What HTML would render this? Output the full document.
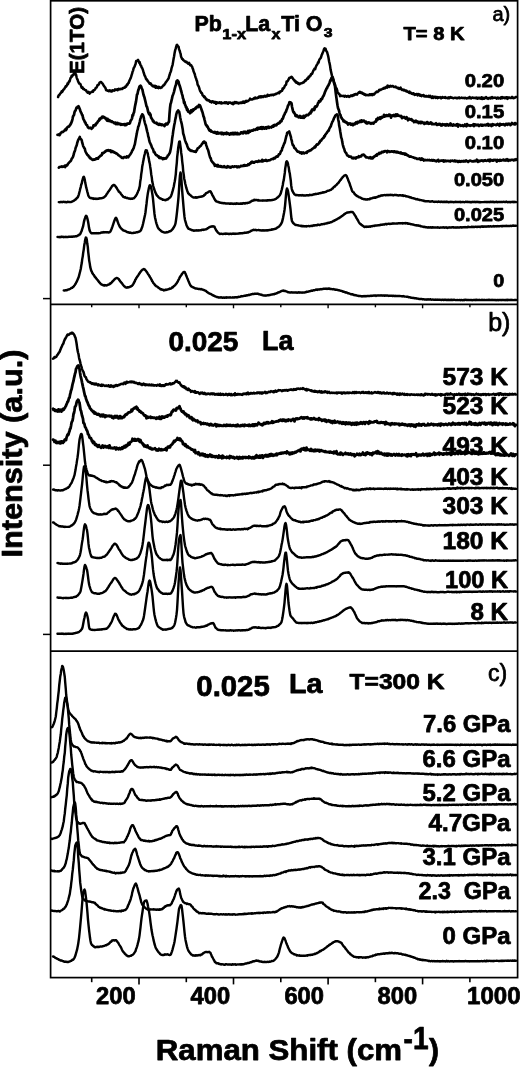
<!DOCTYPE html>
<html><head><meta charset="utf-8"><title>Raman spectra</title>
<style>
html,body{margin:0;padding:0;background:#fff;}
svg{display:block;}
text{font-family:"Liberation Sans",sans-serif;fill:#000;stroke:#000;stroke-width:0.75px;stroke-linejoin:round;}
</style></head>
<body>
<svg width="520" height="1067" viewBox="0 0 520 1067">
<rect width="520" height="1067" fill="#fff"/>
<g fill="none" stroke="#000" stroke-linejoin="round" stroke-linecap="round">
<path d="M58.1,97.0 58.6,95.5 59.1,95.1 59.6,94.7 60.1,93.6 60.6,93.3 61.1,92.7 61.6,91.3 62.1,92.0 62.6,91.2 63.1,90.0 63.6,89.6 64.1,89.2 64.6,88.3 65.1,87.6 65.6,86.4 66.1,86.7 66.6,85.8 67.1,85.1 67.6,83.4 68.1,84.0 68.6,82.4 69.1,81.2 69.6,81.3 70.1,79.5 70.6,77.9 71.1,77.5 71.6,75.8 72.1,76.5 72.6,75.2 73.1,74.5 73.6,74.8 74.1,73.3 74.6,74.0 75.1,72.8 75.6,74.0 76.1,74.7 76.6,77.3 77.1,78.9 77.6,79.6 78.1,81.5 78.6,82.2 79.1,83.4 79.6,83.5 80.1,83.8 80.6,84.5 81.1,86.1 81.6,87.6 82.1,87.2 82.6,87.4 83.1,89.0 83.6,88.7 84.1,89.1 84.6,89.7 85.1,90.0 85.6,90.3 86.1,90.3 86.6,91.6 87.1,91.7 87.6,92.7 88.1,92.3 88.6,91.8 89.1,92.8 89.6,93.7 90.1,92.8 90.6,92.5 91.1,92.2 91.6,91.9 92.1,91.9 92.6,91.0 93.1,91.7 93.6,90.3 94.1,89.9 94.6,89.9 95.1,89.4 95.6,88.1 96.1,87.8 96.6,87.4 97.1,86.4 97.6,85.0 98.1,85.3 98.6,84.7 99.1,83.8 99.6,82.6 100.1,82.4 100.6,81.9 101.1,81.9 101.6,82.7 102.1,83.2 102.6,83.6 103.1,84.4 103.6,85.4 104.1,86.1 104.6,86.9 105.1,87.4 105.6,88.4 106.1,90.2 106.6,90.3 107.1,90.4 107.6,90.7 108.1,90.6 108.6,91.2 109.1,91.1 109.6,90.3 110.1,91.1 110.6,90.6 111.1,91.4 111.6,90.8 112.1,91.4 112.6,90.3 113.1,90.3 113.6,90.5 114.1,90.7 114.6,90.4 115.1,89.4 115.6,90.0 116.1,89.8 116.6,89.5 117.1,89.3 117.6,90.3 118.1,89.2 118.6,88.9 119.1,89.5 119.6,89.2 120.1,89.0 120.6,89.2 121.1,89.0 121.6,88.8 122.1,89.0 122.6,88.5 123.1,88.0 123.6,87.9 124.1,87.6 124.6,87.8 125.1,87.0 125.6,86.3 126.1,86.6 126.6,85.4 127.1,84.4 127.6,84.7 128.1,83.3 128.6,83.0 129.1,81.5 129.6,80.3 130.1,79.2 130.6,78.3 131.1,76.9 131.6,75.1 132.1,73.7 132.6,71.5 133.1,70.6 133.6,68.3 134.1,67.6 134.6,66.5 135.1,65.1 135.6,63.9 136.1,61.1 136.6,61.1 137.1,60.7 137.6,60.5 138.1,59.9 138.6,61.1 139.1,62.6 139.6,62.0 140.1,64.0 140.6,65.4 141.1,65.7 141.6,67.3 142.1,67.8 142.6,69.2 143.1,70.6 143.6,72.5 144.1,73.8 144.6,75.6 145.1,76.1 145.6,77.6 146.1,79.0 146.6,79.6 147.1,79.5 147.6,81.1 148.1,81.2 148.6,82.2 149.1,82.8 149.6,83.8 150.1,83.8 150.6,83.4 151.1,84.0 151.6,85.3 152.1,85.2 152.6,86.1 153.1,85.9 153.6,85.7 154.1,86.7 154.6,86.1 155.1,85.7 155.6,87.8 156.1,86.2 156.6,87.5 157.1,87.8 157.6,87.5 158.1,86.8 158.6,88.1 159.1,87.1 159.6,87.1 160.1,87.6 160.6,88.0 161.1,87.6 161.6,87.6 162.1,86.7 162.6,86.4 163.1,85.5 163.6,85.4 164.1,85.2 164.6,84.1 165.1,83.8 165.6,82.6 166.1,81.9 166.6,81.4 167.1,80.5 167.6,80.1 168.1,78.9 168.6,78.5 169.1,76.4 169.6,75.0 170.1,73.1 170.6,72.0 171.1,70.5 171.6,68.0 172.1,66.4 172.6,64.8 173.1,61.9 173.6,58.8 174.1,56.3 174.6,52.9 175.1,50.4 175.6,48.9 176.1,47.2 176.6,45.2 177.1,44.8 177.6,45.6 178.1,46.4 178.6,46.8 179.1,49.6 179.6,50.4 180.1,52.4 180.6,53.7 181.1,56.9 181.6,57.7 182.1,58.9 182.6,58.9 183.1,59.9 183.6,60.3 184.1,60.6 184.6,61.2 185.1,61.3 185.6,62.0 186.1,61.7 186.6,61.8 187.1,62.6 187.6,63.2 188.1,63.7 188.6,63.8 189.1,62.9 189.6,64.2 190.1,65.1 190.6,64.9 191.1,65.1 191.6,66.2 192.1,66.7 192.6,68.4 193.1,69.4 193.6,71.5 194.1,72.6 194.6,73.6 195.1,75.6 195.6,77.4 196.1,78.5 196.6,80.4 197.1,81.4 197.6,84.6 198.1,85.5 198.6,86.2 199.1,87.6 199.6,89.4 200.1,90.9 200.6,91.5 201.1,92.7 201.6,92.8 202.1,93.5 202.6,95.3 203.1,95.7 203.6,96.1 204.1,97.2 204.6,96.7 205.1,97.5 205.6,98.6 206.1,99.5 206.6,99.1 207.1,100.3 207.6,99.7 208.1,100.5 208.6,100.6 209.1,100.2 209.6,101.3 210.1,101.8 210.6,101.5 211.1,101.7 211.6,102.4 212.1,101.3 212.6,101.3 213.1,101.8 213.6,101.6 214.1,102.8 214.6,102.4 215.1,102.0 215.6,102.1 216.1,103.8 216.6,102.2 217.1,102.2 217.6,102.8 218.1,103.0 218.6,102.8 219.1,102.4 219.6,102.3 220.1,103.1 220.6,102.8 221.1,102.2 221.6,103.4 222.1,103.3 222.6,102.9 223.1,102.9 223.6,103.1 224.1,102.7 224.6,102.4 225.1,103.1 225.6,102.4 226.1,103.2 226.6,102.4 227.1,103.0 227.6,102.9 228.1,103.8 228.6,102.5 229.1,102.4 229.6,102.7 230.1,102.5 230.6,102.7 231.1,103.2 231.6,103.3 232.1,103.7 232.6,102.7 233.1,104.2 233.6,103.9 234.1,102.9 234.6,102.0 235.1,103.0 235.6,103.0 236.1,102.0 236.6,103.0 237.1,102.9 237.6,102.6 238.1,103.3 238.6,103.5 239.1,102.8 239.6,103.1 240.1,102.7 240.6,102.6 241.1,103.0 241.6,103.1 242.1,102.5 242.6,101.7 243.1,102.8 243.6,101.6 244.1,102.3 244.6,102.8 245.1,101.8 245.6,101.1 246.1,100.8 246.6,101.8 247.1,101.1 247.6,101.1 248.1,101.1 248.6,100.5 249.1,100.2 249.6,99.7 250.1,98.6 250.6,99.1 251.1,99.6 251.6,99.4 252.1,99.4 252.6,99.0 253.1,99.0 253.6,99.1 254.1,98.1 254.6,98.2 255.1,97.5 255.6,98.5 256.1,97.9 256.6,97.9 257.1,98.3 257.6,98.0 258.1,97.3 258.6,97.6 259.1,96.5 259.6,97.3 260.1,97.0 260.6,96.2 261.1,97.4 261.6,96.4 262.1,97.0 262.6,96.4 263.1,97.0 263.6,97.1 264.1,96.0 264.6,95.7 265.1,96.2 265.6,96.6 266.1,96.0 266.6,95.8 267.1,96.2 267.6,94.7 268.1,95.6 268.6,95.2 269.1,95.8 269.6,95.3 270.1,95.0 270.6,95.3 271.1,94.7 271.6,95.2 272.1,94.8 272.6,94.8 273.1,94.5 273.6,95.1 274.1,94.5 274.6,94.6 275.1,94.4 275.6,93.7 276.1,94.1 276.6,93.8 277.1,93.5 277.6,93.0 278.1,92.7 278.6,93.0 279.1,93.3 279.6,91.7 280.1,92.0 280.6,91.2 281.1,91.4 281.6,90.9 282.1,90.8 282.6,88.6 283.1,89.0 283.6,88.1 284.1,87.7 284.6,86.4 285.1,85.4 285.6,85.0 286.1,84.5 286.6,81.4 287.1,81.7 287.6,81.2 288.1,80.3 288.6,79.4 289.1,78.2 289.6,77.7 290.1,77.9 290.6,77.7 291.1,77.1 291.6,76.7 292.1,77.5 292.6,78.0 293.1,79.0 293.6,79.6 294.1,80.0 294.6,81.0 295.1,80.8 295.6,82.1 296.1,82.6 296.6,81.9 297.1,82.9 297.6,82.6 298.1,83.8 298.6,83.9 299.1,83.5 299.6,84.2 300.1,83.6 300.6,83.4 301.1,83.3 301.6,83.3 302.1,83.0 302.6,82.9 303.1,82.3 303.6,82.5 304.1,82.2 304.6,81.1 305.1,80.3 305.6,80.8 306.1,80.5 306.6,79.5 307.1,78.5 307.6,78.8 308.1,78.8 308.6,76.8 309.1,77.3 309.6,76.4 310.1,75.5 310.6,75.5 311.1,74.0 311.6,74.0 312.1,73.8 312.6,72.5 313.1,71.3 313.6,70.1 314.1,69.6 314.6,68.5 315.1,69.3 315.6,67.6 316.1,66.3 316.6,65.3 317.1,64.4 317.6,63.7 318.1,62.2 318.6,62.5 319.1,60.3 319.6,59.3 320.1,58.7 320.6,58.2 321.1,57.1 321.6,55.2 322.1,54.3 322.6,52.9 323.1,51.8 323.6,50.5 324.1,49.0 324.6,48.3 325.1,48.8 325.6,48.7 326.1,50.7 326.6,51.3 327.1,52.2 327.6,54.0 328.1,55.8 328.6,58.3 329.1,61.5 329.6,63.4 330.1,66.1 330.6,69.8 331.1,71.9 331.6,74.1 332.1,76.1 332.6,77.6 333.1,79.8 333.6,80.7 334.1,82.6 334.6,83.6 335.1,84.8 335.6,86.9 336.1,88.2 336.6,88.4 337.1,90.0 337.6,91.8 338.1,93.2 338.6,93.3 339.1,94.2 339.6,94.2 340.1,96.2 340.6,95.4 341.1,95.7 341.6,95.8 342.1,96.0 342.6,96.0 343.1,95.7 343.6,96.2 344.1,96.0 344.6,96.6 345.1,95.8 345.6,95.9 346.1,96.5 346.6,96.8 347.1,96.3 347.6,95.9 348.1,96.2 348.6,96.0 349.1,97.0 349.6,96.4 350.1,96.5 350.6,95.9 351.1,95.4 351.6,96.0 352.1,96.1 352.6,95.5 353.1,95.0 353.6,95.4 354.1,94.6 354.6,94.9 355.1,94.1 355.6,93.9 356.1,94.4 356.6,94.1 357.1,94.6 357.6,93.4 358.1,93.3 358.6,92.6 359.1,92.1 359.6,91.9 360.1,92.8 360.6,92.0 361.1,93.0 361.6,93.2 362.1,92.6 362.6,93.7 363.1,93.4 363.6,94.2 364.1,93.9 364.6,94.8 365.1,94.3 365.6,95.2 366.1,94.8 366.6,94.9 367.1,95.3 367.6,95.0 368.1,94.9 368.6,95.2 369.1,95.2 369.6,94.2 370.1,95.0 370.6,95.0 371.1,94.3 371.6,94.8 372.1,94.0 372.6,95.1 373.1,94.3 373.6,94.1 374.1,94.5 374.6,93.6 375.1,93.6 375.6,92.5 376.1,92.4 376.6,91.6 377.1,91.8 377.6,92.0 378.1,91.2 378.6,91.2 379.1,90.0 379.6,89.8 380.1,89.7 380.6,90.0 381.1,89.6 381.6,89.2 382.1,89.2 382.6,88.6 383.1,88.4 383.6,88.8 384.1,87.7 384.6,87.8 385.1,88.2 385.6,87.3 386.1,87.4 386.6,86.6 387.1,87.6 387.6,85.6 388.1,86.0 388.6,85.9 389.1,87.0 389.6,86.4 390.1,86.1 390.6,85.7 391.1,86.5 391.6,86.4 392.1,86.1 392.6,85.9 393.1,86.1 393.6,86.8 394.1,87.0 394.6,87.0 395.1,87.1 395.6,86.5 396.1,87.5 396.6,87.2 397.1,87.8 397.6,88.2 398.1,87.8 398.6,87.9 399.1,88.9 399.6,88.8 400.1,88.5 400.6,87.6 401.1,89.1 401.6,89.6 402.1,90.0 402.6,89.4 403.1,89.6 403.6,89.9 404.1,90.6 404.6,89.9 405.1,90.6 405.6,90.5 406.1,91.2 406.6,90.6 407.1,91.6 407.6,91.4 408.1,91.8 408.6,92.3 409.1,92.7 409.6,91.6 410.1,93.0 410.6,92.9 411.1,92.7 411.6,93.6 412.1,93.2 412.6,93.9 413.1,93.2 413.6,93.2 414.1,94.3 414.6,94.9 415.1,94.3 415.6,94.6 416.1,94.1 416.6,93.9 417.1,94.5 417.6,95.4 418.1,94.0 418.6,94.8 419.1,94.2 419.6,95.3 420.1,95.7 420.6,94.9 421.1,95.3 421.6,96.2 422.1,95.7 422.6,95.2 423.1,95.2 423.6,95.0 424.1,96.3 424.6,95.7 425.1,96.6 425.6,96.6 426.1,96.0 426.6,96.1 427.1,96.7 427.6,96.5 428.1,96.6 428.6,95.8 429.1,97.0 429.6,96.3 430.1,95.7 430.6,96.5 431.1,97.0 431.6,97.9 432.1,96.8 432.6,96.4 433.1,98.0 433.6,97.2 434.1,97.0 434.6,96.7 435.1,96.8 435.6,97.9 436.1,97.2 436.6,97.1 437.1,97.1 437.6,98.1 438.1,97.2 438.6,97.7 439.1,97.6 439.6,97.6 440.1,97.1 440.6,97.8 441.1,98.3 441.6,97.5 442.1,97.2 442.6,97.0 443.1,97.7 443.6,97.5 444.1,97.6 444.6,97.7 445.1,97.0 445.6,98.0 446.1,97.8 446.6,97.7 447.1,97.8 447.6,98.2 448.1,97.8 448.6,97.4 449.1,98.3 449.6,97.6 450.1,97.5 450.6,97.1 451.1,97.8 451.6,97.4 452.1,97.6 452.6,98.1 453.1,97.9 453.6,98.3 454.1,98.0 454.6,97.7 455.1,97.8 455.6,97.7 456.1,98.2 456.6,97.9 457.1,97.8 457.6,98.3 458.1,98.0 458.6,97.8 459.1,97.3 459.6,98.2 460.1,98.1 460.6,98.0 461.1,97.8 461.6,97.6 462.1,97.9 462.6,98.1 463.1,97.9 463.6,97.9 464.1,97.8 464.6,98.2 465.1,98.1 465.6,97.7 466.1,98.3 466.6,98.4 467.1,98.4 467.6,97.9 468.1,97.9 468.6,97.5 469.1,98.3 469.6,97.0 470.1,97.8 470.6,97.8 471.1,98.4 471.6,98.0 472.1,97.6 472.6,97.4 473.1,97.7 473.6,98.0 474.1,98.0 474.6,97.9 475.1,97.7 475.6,97.9 476.1,98.4 476.6,97.5 477.1,98.0 477.6,98.7 478.1,98.2 478.6,97.8 479.1,98.3 479.6,97.7 480.1,98.0 480.6,98.7 481.1,98.9 481.6,97.2 482.1,98.3 482.6,98.9 483.1,97.8 483.6,98.1 484.1,98.7 484.6,97.8 485.1,98.2 485.6,98.0 486.1,97.1 486.6,98.2 487.1,97.9 487.6,98.4 488.1,98.9 488.6,98.3 489.1,97.8 489.6,98.2 490.1,98.1 490.6,98.5 491.1,97.4 491.6,97.5 492.1,97.1 492.6,98.3 493.1,98.0 493.6,97.7 494.1,97.7 494.6,97.7 495.1,97.6 495.6,97.8 496.1,97.7 496.6,98.6 497.1,98.1 497.6,97.6 498.1,97.7 498.6,98.5 499.1,98.1 499.6,98.0 500.1,98.2 500.6,98.6 501.1,97.3 501.6,97.5 502.1,97.1 502.6,98.1 503.1,97.7 503.6,97.5 504.1,97.5 504.6,98.1 505.1,97.7 505.6,97.5 506.1,98.3 506.6,97.3 507.1,97.2 507.6,98.9 508.1,97.6 508.6,97.5 509.1,97.4 509.6,97.6 510.1,98.0 510.6,98.0 511.1,97.9 511.6,97.5 512.1,96.9 512.6,97.7 513.1,98.3 513.6,98.1 514.1,97.5 514.6,97.9 515.1,97.4 515.6,97.5 516.1,96.9" stroke-width="2.5"/>
<path d="M57.5,134.8 58.0,134.9 58.5,134.5 59.0,134.8 59.5,135.1 60.0,134.5 60.5,133.3 61.0,132.7 61.5,132.4 62.0,131.9 62.5,132.1 63.0,131.9 63.5,131.4 64.0,131.0 64.5,130.5 65.0,129.9 65.5,129.2 66.0,130.1 66.5,129.2 67.0,127.7 67.5,127.2 68.0,126.8 68.5,126.5 69.0,126.6 69.5,125.8 70.0,125.1 70.5,124.4 71.0,123.5 71.5,122.4 72.0,121.0 72.5,119.1 73.0,116.5 73.5,115.6 74.0,115.0 74.5,112.2 75.0,110.9 75.5,110.7 76.0,109.1 76.5,107.7 77.0,107.9 77.5,106.8 78.0,106.7 78.5,106.2 79.0,107.5 79.5,108.4 80.0,109.8 80.5,111.3 81.0,112.5 81.5,113.2 82.0,114.8 82.5,115.3 83.0,117.8 83.5,119.3 84.0,120.1 84.5,121.1 85.0,122.5 85.5,122.6 86.0,124.3 86.5,125.0 87.0,125.1 87.5,126.3 88.0,127.4 88.5,127.9 89.0,128.2 89.5,127.8 90.0,127.8 90.5,127.7 91.0,128.1 91.5,128.9 92.0,128.1 92.5,127.9 93.0,127.4 93.5,125.3 94.0,125.7 94.5,125.1 95.0,125.5 95.5,125.3 96.0,123.6 96.5,123.5 97.0,123.3 97.5,122.1 98.0,121.4 98.5,120.6 99.0,120.7 99.5,119.0 100.0,119.5 100.5,118.3 101.0,118.2 101.5,118.2 102.0,116.7 102.5,116.6 103.0,117.3 103.5,116.7 104.0,117.1 104.5,117.8 105.0,118.3 105.5,117.9 106.0,118.8 106.5,119.7 107.0,120.5 107.5,118.9 108.0,120.9 108.5,120.9 109.0,120.0 109.5,120.0 110.0,121.2 110.5,120.9 111.0,121.3 111.5,121.9 112.0,121.4 112.5,121.8 113.0,122.1 113.5,122.5 114.0,123.1 114.5,123.3 115.0,122.6 115.5,122.5 116.0,124.2 116.5,123.4 117.0,123.5 117.5,122.9 118.0,124.2 118.5,123.5 119.0,123.9 119.5,123.6 120.0,124.3 120.5,124.7 121.0,124.0 121.5,124.4 122.0,124.9 122.5,124.3 123.0,124.3 123.5,124.5 124.0,124.2 124.5,125.2 125.0,124.2 125.5,125.1 126.0,125.1 126.5,123.8 127.0,124.4 127.5,123.9 128.0,123.4 128.5,123.7 129.0,123.5 129.5,123.6 130.0,123.0 130.5,121.0 131.0,120.2 131.5,119.5 132.0,118.5 132.5,115.1 133.0,115.6 133.5,113.2 134.0,112.5 134.5,109.2 135.0,106.3 135.5,103.9 136.0,101.6 136.5,98.2 137.0,94.4 137.5,94.1 138.0,91.2 138.5,89.8 139.0,88.1 139.5,86.5 140.0,85.9 140.5,85.7 141.0,86.3 141.5,87.6 142.0,88.8 142.5,89.9 143.0,92.4 143.5,94.7 144.0,96.3 144.5,97.6 145.0,99.7 145.5,101.8 146.0,104.0 146.5,106.2 147.0,106.9 147.5,108.8 148.0,111.3 148.5,112.8 149.0,113.9 149.5,112.9 150.0,115.1 150.5,114.4 151.0,117.6 151.5,118.2 152.0,119.0 152.5,119.7 153.0,121.2 153.5,121.0 154.0,122.3 154.5,122.5 155.0,122.7 155.5,123.0 156.0,123.1 156.5,122.7 157.0,123.9 157.5,124.2 158.0,123.9 158.5,124.6 159.0,124.9 159.5,123.8 160.0,124.6 160.5,124.5 161.0,124.4 161.5,125.1 162.0,124.5 162.5,124.8 163.0,125.1 163.5,125.2 164.0,125.1 164.5,126.0 165.0,124.4 165.5,124.7 166.0,123.7 166.5,124.4 167.0,124.5 167.5,124.2 168.0,122.8 168.5,122.6 169.0,121.7 169.5,113.8 170.0,108.0 170.5,104.0 171.0,102.8 171.5,100.5 172.0,98.4 172.5,96.0 173.0,94.8 173.5,93.4 174.0,91.8 174.5,89.6 175.0,87.6 175.5,85.8 176.0,84.7 176.5,81.4 177.0,80.8 177.5,80.4 178.0,81.2 178.5,81.4 179.0,84.0 179.5,85.3 180.0,86.8 180.5,88.4 181.0,90.5 181.5,92.2 182.0,94.1 182.5,95.6 183.0,98.4 183.5,99.3 184.0,102.8 184.5,102.0 185.0,104.7 185.5,105.4 186.0,107.5 186.5,107.2 187.0,110.0 187.5,108.9 188.0,111.6 188.5,111.4 189.0,111.6 189.5,112.1 190.0,113.2 190.5,112.4 191.0,110.5 191.5,112.2 192.0,111.3 192.5,109.9 193.0,110.8 193.5,109.3 194.0,109.6 194.5,109.2 195.0,108.4 195.5,108.7 196.0,107.4 196.5,107.6 197.0,106.7 197.5,106.4 198.0,107.2 198.5,105.9 199.0,105.0 199.5,105.4 200.0,105.4 200.5,106.7 201.0,108.1 201.5,109.5 202.0,111.1 202.5,112.2 203.0,114.3 203.5,116.4 204.0,117.4 204.5,119.6 205.0,121.5 205.5,123.8 206.0,125.1 206.5,125.1 207.0,126.4 207.5,126.4 208.0,127.5 208.5,128.7 209.0,129.7 209.5,130.5 210.0,130.3 210.5,130.1 211.0,131.4 211.5,131.2 212.0,131.7 212.5,131.8 213.0,132.2 213.5,132.3 214.0,132.6 214.5,132.0 215.0,132.9 215.5,132.1 216.0,132.6 216.5,133.6 217.0,132.9 217.5,132.1 218.0,133.6 218.5,133.4 219.0,133.5 219.5,133.1 220.0,133.2 220.5,132.9 221.0,132.7 221.5,134.0 222.0,133.0 222.5,132.9 223.0,133.0 223.5,134.3 224.0,133.8 224.5,133.1 225.0,133.4 225.5,133.7 226.0,133.9 226.5,132.6 227.0,134.0 227.5,133.4 228.0,133.2 228.5,133.4 229.0,134.0 229.5,134.6 230.0,133.7 230.5,134.0 231.0,133.2 231.5,134.0 232.0,134.2 232.5,132.9 233.0,133.5 233.5,134.2 234.0,132.8 234.5,133.5 235.0,134.1 235.5,132.8 236.0,133.5 236.5,133.7 237.0,134.2 237.5,132.9 238.0,134.2 238.5,133.7 239.0,134.2 239.5,134.1 240.0,133.6 240.5,133.6 241.0,132.3 241.5,132.4 242.0,132.5 242.5,132.8 243.0,133.4 243.5,131.8 244.0,132.5 244.5,131.9 245.0,131.6 245.5,133.2 246.0,132.4 246.5,133.1 247.0,132.8 247.5,131.5 248.0,130.9 248.5,132.9 249.0,131.4 249.5,130.8 250.0,131.7 250.5,131.2 251.0,130.6 251.5,130.6 252.0,130.7 252.5,130.4 253.0,130.6 253.5,129.8 254.0,129.6 254.5,129.9 255.0,129.6 255.5,129.9 256.0,129.0 256.5,128.9 257.0,128.2 257.5,129.6 258.0,127.9 258.5,128.7 259.0,128.0 259.5,128.6 260.0,128.7 260.5,127.4 261.0,128.1 261.5,127.2 262.0,128.9 262.5,127.8 263.0,127.1 263.5,127.5 264.0,128.6 264.5,128.6 265.0,128.5 265.5,127.3 266.0,127.6 266.5,128.5 267.0,127.1 267.5,127.3 268.0,126.8 268.5,126.7 269.0,127.9 269.5,127.5 270.0,127.2 270.5,127.2 271.0,127.3 271.5,127.5 272.0,126.5 272.5,126.2 273.0,125.6 273.5,126.6 274.0,125.6 274.5,124.8 275.0,125.3 275.5,125.2 276.0,125.4 276.5,125.3 277.0,124.1 277.5,123.7 278.0,123.7 278.5,122.9 279.0,123.2 279.5,123.1 280.0,122.5 280.5,121.1 281.0,120.7 281.5,121.3 282.0,119.2 282.5,119.2 283.0,118.1 283.5,116.5 284.0,115.1 284.5,114.6 285.0,113.0 285.5,112.4 286.0,111.5 286.5,109.8 287.0,108.8 287.5,107.4 288.0,105.6 288.5,105.0 289.0,103.7 289.5,102.2 290.0,102.5 290.5,102.3 291.0,102.7 291.5,103.3 292.0,106.8 292.5,108.9 293.0,110.9 293.5,112.2 294.0,112.2 294.5,113.6 295.0,113.7 295.5,116.0 296.0,115.1 296.5,116.3 297.0,115.5 297.5,116.0 298.0,116.6 298.5,117.4 299.0,117.3 299.5,117.1 300.0,115.9 300.5,117.6 301.0,116.4 301.5,117.7 302.0,117.8 302.5,117.2 303.0,117.2 303.5,115.8 304.0,117.9 304.5,116.5 305.0,116.8 305.5,115.6 306.0,115.9 306.5,115.0 307.0,115.2 307.5,115.0 308.0,114.8 308.5,115.0 309.0,114.0 309.5,113.4 310.0,112.8 310.5,113.4 311.0,111.4 311.5,111.8 312.0,109.5 312.5,109.6 313.0,109.8 313.5,108.9 314.0,110.1 314.5,109.4 315.0,106.6 315.5,106.3 316.0,106.3 316.5,106.7 317.0,105.8 317.5,104.8 318.0,103.2 318.5,102.9 319.0,101.2 319.5,101.2 320.0,101.5 320.5,101.0 321.0,99.1 321.5,99.2 322.0,99.2 322.5,97.6 323.0,96.5 323.5,96.0 324.0,94.9 324.5,93.5 325.0,92.0 325.5,90.9 326.0,89.9 326.5,88.4 327.0,88.2 327.5,86.8 328.0,85.9 328.5,85.3 329.0,84.1 329.5,83.0 330.0,81.3 330.5,79.9 331.0,80.3 331.5,77.9 332.0,77.4 332.5,77.0 333.0,78.3 333.5,80.0 334.0,82.7 334.5,84.7 335.0,86.5 335.5,90.8 336.0,94.9 336.5,98.4 337.0,102.0 337.5,105.3 338.0,108.0 338.5,109.3 339.0,110.6 339.5,112.8 340.0,114.6 340.5,115.0 341.0,117.5 341.5,117.5 342.0,118.9 342.5,119.4 343.0,119.7 343.5,121.3 344.0,120.6 344.5,121.0 345.0,121.9 345.5,122.5 346.0,122.4 346.5,122.1 347.0,123.2 347.5,123.4 348.0,124.5 348.5,123.4 349.0,123.9 349.5,123.6 350.0,123.3 350.5,124.3 351.0,124.8 351.5,123.9 352.0,124.1 352.5,123.9 353.0,125.2 353.5,124.1 354.0,124.6 354.5,123.7 355.0,124.1 355.5,123.5 356.0,122.4 356.5,123.5 357.0,123.5 357.5,121.9 358.0,122.7 358.5,122.4 359.0,121.8 359.5,122.0 360.0,120.8 360.5,121.7 361.0,121.9 361.5,120.3 362.0,120.8 362.5,121.5 363.0,120.9 363.5,120.7 364.0,120.7 364.5,121.6 365.0,121.7 365.5,122.5 366.0,121.6 366.5,123.3 367.0,122.7 367.5,123.4 368.0,122.6 368.5,122.4 369.0,122.8 369.5,122.6 370.0,123.0 370.5,123.6 371.0,123.8 371.5,123.4 372.0,122.9 372.5,123.0 373.0,123.5 373.5,123.6 374.0,122.6 374.5,122.3 375.0,121.6 375.5,121.7 376.0,121.6 376.5,119.0 377.0,120.2 377.5,119.4 378.0,118.0 378.5,119.1 379.0,118.6 379.5,118.5 380.0,117.3 380.5,118.9 381.0,117.5 381.5,117.0 382.0,117.7 382.5,117.0 383.0,116.8 383.5,116.8 384.0,114.8 384.5,116.7 385.0,115.5 385.5,115.7 386.0,116.0 386.5,115.1 387.0,115.7 387.5,115.9 388.0,115.5 388.5,115.8 389.0,114.6 389.5,114.8 390.0,114.9 390.5,115.7 391.0,117.6 391.5,115.6 392.0,115.4 392.5,115.5 393.0,116.0 393.5,115.9 394.0,114.9 394.5,116.1 395.0,115.5 395.5,116.0 396.0,114.4 396.5,114.6 397.0,115.8 397.5,114.5 398.0,115.7 398.5,115.7 399.0,115.7 399.5,115.9 400.0,116.0 400.5,116.3 401.0,115.9 401.5,116.3 402.0,118.1 402.5,117.4 403.0,117.3 403.5,117.4 404.0,117.0 404.5,117.7 405.0,117.7 405.5,118.5 406.0,117.7 406.5,117.1 407.0,118.3 407.5,119.1 408.0,120.3 408.5,119.6 409.0,118.7 409.5,119.3 410.0,119.1 410.5,119.6 411.0,119.4 411.5,119.2 412.0,120.5 412.5,120.6 413.0,120.5 413.5,121.0 414.0,122.1 414.5,121.2 415.0,121.1 415.5,121.9 416.0,120.7 416.5,122.1 417.0,121.4 417.5,121.5 418.0,122.2 418.5,123.1 419.0,121.9 419.5,122.9 420.0,122.7 420.5,121.8 421.0,123.2 421.5,122.3 422.0,122.0 422.5,122.4 423.0,122.5 423.5,123.3 424.0,122.6 424.5,123.9 425.0,123.3 425.5,122.8 426.0,122.8 426.5,123.4 427.0,122.2 427.5,122.2 428.0,123.0 428.5,123.8 429.0,123.6 429.5,123.6 430.0,123.5 430.5,122.5 431.0,123.5 431.5,122.8 432.0,124.2 432.5,123.8 433.0,123.8 433.5,124.1 434.0,124.1 434.5,124.1 435.0,124.2 435.5,123.7 436.0,123.3 436.5,124.3 437.0,124.9 437.5,124.7 438.0,124.1 438.5,124.6 439.0,124.0 439.5,124.5 440.0,124.0 440.5,124.5 441.0,125.5 441.5,124.9 442.0,125.3 442.5,124.1 443.0,124.2 443.5,124.6 444.0,124.9 444.5,124.5 445.0,125.3 445.5,124.4 446.0,125.5 446.5,125.3 447.0,124.2 447.5,125.2 448.0,124.8 448.5,125.5 449.0,124.7 449.5,125.2 450.0,125.3 450.5,123.5 451.0,124.0 451.5,125.2 452.0,125.1 452.5,125.7 453.0,125.3 453.5,124.5 454.0,125.4 454.5,124.8 455.0,125.1 455.5,125.0 456.0,125.5 456.5,124.5 457.0,124.7 457.5,124.1 458.0,126.6 458.5,124.8 459.0,124.9 459.5,124.8 460.0,125.1 460.5,125.2 461.0,125.8 461.5,125.6 462.0,125.7 462.5,125.2 463.0,125.4 463.5,126.2 464.0,125.5 464.5,125.7 465.0,124.4 465.5,125.8 466.0,125.6 466.5,126.2 467.0,124.0 467.5,125.5 468.0,125.4 468.5,125.5 469.0,125.1 469.5,125.6 470.0,125.8 470.5,125.5 471.0,125.3 471.5,125.3 472.0,125.2 472.5,125.4 473.0,125.0 473.5,124.3 474.0,126.1 474.5,124.4 475.0,125.3 475.5,124.6 476.0,125.2 476.5,124.8 477.0,125.3 477.5,124.9 478.0,124.6 478.5,125.5 479.0,126.0 479.5,125.5 480.0,125.3 480.5,124.7 481.0,125.2 481.5,125.5 482.0,124.8 482.5,125.7 483.0,125.1 483.5,125.4 484.0,124.9 484.5,124.9 485.0,125.2 485.5,125.3 486.0,125.3 486.5,124.5 487.0,124.7 487.5,125.0 488.0,124.0 488.5,125.6 489.0,125.2 489.5,125.0 490.0,124.6 490.5,125.4 491.0,124.8 491.5,126.0 492.0,125.1 492.5,124.1 493.0,125.3 493.5,124.6 494.0,124.6 494.5,124.7 495.0,124.8 495.5,124.9 496.0,125.2 496.5,125.0 497.0,124.4 497.5,124.0 498.0,124.3 498.5,124.9 499.0,125.2 499.5,125.7 500.0,123.9 500.5,124.7 501.0,124.5 501.5,124.4 502.0,124.7 502.5,124.4 503.0,124.4 503.5,124.2 504.0,124.7 504.5,125.1 505.0,125.4 505.5,124.2 506.0,123.8 506.5,124.3 507.0,123.9 507.5,124.9 508.0,123.9 508.5,124.4 509.0,123.6 509.5,124.1 510.0,124.4 510.5,125.1 511.0,123.8 511.5,124.4 512.0,123.0 512.5,123.5 513.0,123.7 513.5,123.8 514.0,124.3 514.5,124.4 515.0,123.1 515.5,124.3 516.0,123.4" stroke-width="2.7"/>
<path d="M58.8,167.7 59.2,167.1 59.8,167.0 60.2,166.8 60.8,166.8 61.2,166.8 61.8,166.4 62.2,166.9 62.8,166.6 63.2,166.7 63.8,166.2 64.2,166.4 64.8,165.7 65.2,167.2 65.8,165.4 66.2,165.3 66.8,165.6 67.2,165.4 67.8,164.2 68.2,163.4 68.8,162.9 69.2,162.4 69.8,161.8 70.2,161.3 70.8,161.0 71.2,160.1 71.8,158.6 72.2,158.1 72.8,157.3 73.2,156.3 73.8,154.2 74.2,152.4 74.8,151.2 75.2,149.8 75.8,147.2 76.2,146.6 76.8,145.1 77.2,143.0 77.8,141.1 78.2,140.1 78.8,138.9 79.2,138.3 79.8,136.9 80.2,138.5 80.8,139.2 81.2,139.3 81.8,140.4 82.2,142.7 82.8,144.5 83.2,146.1 83.8,147.1 84.2,148.0 84.8,148.6 85.2,150.8 85.8,152.1 86.2,152.8 86.8,154.0 87.2,154.7 87.8,155.2 88.2,155.4 88.8,156.6 89.2,156.5 89.8,158.1 90.2,157.7 90.8,158.7 91.2,158.6 91.8,159.4 92.2,159.5 92.8,160.0 93.2,159.6 93.8,159.3 94.2,159.8 94.8,159.7 95.2,159.0 95.8,159.1 96.2,158.4 96.8,158.8 97.2,158.2 97.8,158.0 98.2,158.6 98.8,157.2 99.2,156.9 99.8,156.6 100.2,156.0 100.8,155.4 101.2,155.6 101.8,155.1 102.2,153.1 102.8,153.7 103.2,153.1 103.8,152.5 104.2,152.7 104.8,151.6 105.2,151.7 105.8,150.8 106.2,150.6 106.8,150.9 107.2,150.2 107.8,150.4 108.2,150.1 108.8,150.2 109.2,150.9 109.8,151.0 110.2,150.4 110.8,150.5 111.2,152.1 111.8,151.0 112.2,151.1 112.8,151.8 113.2,151.5 113.8,151.8 114.2,152.5 114.8,152.8 115.2,152.5 115.8,153.4 116.2,153.1 116.8,153.5 117.2,154.0 117.8,154.3 118.2,155.1 118.8,155.4 119.2,155.5 119.8,156.3 120.2,156.4 120.8,156.7 121.2,157.1 121.8,157.8 122.2,157.6 122.8,158.0 123.2,158.1 123.8,157.4 124.2,157.1 124.8,157.0 125.2,157.3 125.8,157.5 126.2,157.6 126.8,156.3 127.2,157.1 127.8,157.0 128.2,157.4 128.8,156.3 129.2,155.9 129.8,154.9 130.2,154.5 130.8,153.6 131.2,152.8 131.8,151.8 132.2,150.5 132.8,149.9 133.2,148.9 133.8,147.8 134.2,145.9 134.8,144.5 135.2,142.3 135.8,138.8 136.2,136.7 136.8,133.6 137.2,131.2 137.8,129.2 138.2,126.8 138.8,125.6 139.2,124.0 139.8,121.5 140.2,119.4 140.8,117.7 141.2,116.2 141.8,115.4 142.2,114.3 142.8,114.8 143.2,115.5 143.8,117.7 144.2,120.0 144.8,122.5 145.2,123.9 145.8,125.4 146.2,127.2 146.8,129.9 147.2,131.6 147.8,133.6 148.2,136.2 148.8,138.0 149.2,140.4 149.8,142.5 150.2,143.1 150.8,144.6 151.2,145.1 151.8,147.1 152.2,147.9 152.8,148.9 153.2,149.7 153.8,152.1 154.2,151.7 154.8,152.7 155.2,153.9 155.8,154.6 156.2,155.1 156.8,155.4 157.2,155.4 157.8,156.5 158.2,156.6 158.8,156.3 159.2,157.8 159.8,157.3 160.2,158.1 160.8,157.4 161.2,157.7 161.8,158.2 162.2,158.3 162.8,159.1 163.2,158.1 163.8,158.8 164.2,158.3 164.8,158.8 165.2,158.4 165.8,157.8 166.2,158.5 166.8,157.2 167.2,157.1 167.8,155.5 168.2,155.3 168.8,154.7 169.2,153.9 169.8,152.8 170.2,151.5 170.8,148.4 171.2,146.1 171.8,142.1 172.2,138.2 172.8,134.5 173.2,131.3 173.8,127.7 174.2,125.3 174.8,122.5 175.2,119.9 175.8,117.4 176.2,114.7 176.8,112.7 177.2,111.5 177.8,111.1 178.2,110.3 178.8,111.3 179.2,111.7 179.8,114.7 180.2,117.5 180.8,120.3 181.2,121.9 181.8,124.1 182.2,126.5 182.8,129.8 183.2,133.5 183.8,135.2 184.2,136.8 184.8,139.4 185.2,140.6 185.8,142.2 186.2,143.3 186.8,144.2 187.2,145.7 187.8,147.3 188.2,148.1 188.8,149.3 189.2,149.0 189.8,150.3 190.2,150.1 190.8,150.4 191.2,151.0 191.8,150.6 192.2,150.9 192.8,151.2 193.2,151.3 193.8,151.5 194.2,151.7 194.8,151.5 195.2,151.1 195.8,152.0 196.2,150.7 196.8,150.4 197.2,149.4 197.8,148.2 198.2,148.1 198.8,147.8 199.2,147.3 199.8,146.5 200.2,146.3 200.8,145.8 201.2,145.2 201.8,144.2 202.2,143.6 202.8,143.0 203.2,142.2 203.8,142.8 204.2,141.5 204.8,142.1 205.2,142.8 205.8,142.9 206.2,145.4 206.8,146.5 207.2,148.2 207.8,149.3 208.2,150.4 208.8,152.7 209.2,154.4 209.8,156.5 210.2,157.8 210.8,158.3 211.2,160.5 211.8,161.1 212.2,161.9 212.8,162.5 213.2,162.7 213.8,163.8 214.2,164.0 214.8,165.8 215.2,164.9 215.8,164.9 216.2,165.4 216.8,166.2 217.2,165.5 217.8,164.9 218.2,166.6 218.8,166.2 219.2,166.0 219.8,166.6 220.2,166.0 220.8,166.0 221.2,166.9 221.8,166.4 222.2,166.9 222.8,166.8 223.2,167.1 223.8,166.9 224.2,166.1 224.8,167.2 225.2,166.8 225.8,167.3 226.2,167.0 226.8,167.6 227.2,166.9 227.8,166.2 228.2,166.9 228.8,167.2 229.2,166.9 229.8,166.8 230.2,167.6 230.8,166.9 231.2,167.4 231.8,167.0 232.2,166.4 232.8,166.5 233.2,166.8 233.8,167.0 234.2,166.5 234.8,166.3 235.2,166.4 235.8,166.6 236.2,166.4 236.8,166.5 237.2,167.4 237.8,166.8 238.2,166.3 238.8,166.6 239.2,167.2 239.8,166.8 240.2,166.4 240.8,165.9 241.2,165.7 241.8,166.2 242.2,166.2 242.8,165.6 243.2,165.6 243.8,166.0 244.2,165.0 244.8,165.1 245.2,165.6 245.8,165.6 246.2,165.3 246.8,165.4 247.2,165.4 247.8,164.9 248.2,164.2 248.8,164.9 249.2,164.5 249.8,164.0 250.2,163.0 250.8,163.3 251.2,162.1 251.8,162.6 252.2,161.6 252.8,162.3 253.2,162.7 253.8,162.2 254.2,162.7 254.8,161.9 255.2,161.8 255.8,161.5 256.2,161.7 256.8,161.4 257.2,161.8 257.8,161.9 258.2,161.3 258.8,160.7 259.2,161.3 259.8,161.5 260.2,161.2 260.8,161.0 261.2,161.2 261.8,161.4 262.2,159.7 262.8,161.4 263.2,161.0 263.8,160.9 264.2,160.4 264.8,160.7 265.2,160.8 265.8,159.9 266.2,160.8 266.8,160.5 267.2,161.0 267.8,160.6 268.2,160.2 268.8,160.2 269.2,160.4 269.8,160.1 270.2,160.2 270.8,159.6 271.2,159.2 271.8,159.3 272.2,158.8 272.8,158.9 273.2,159.1 273.8,158.0 274.2,157.9 274.8,158.4 275.2,157.6 275.8,157.5 276.2,156.6 276.8,156.3 277.2,156.2 277.8,156.6 278.2,155.7 278.8,154.4 279.2,154.6 279.8,154.1 280.2,153.2 280.8,151.5 281.2,150.9 281.8,150.6 282.2,148.2 282.8,147.5 283.2,145.9 283.8,144.5 284.2,143.5 284.8,142.5 285.2,140.8 285.8,138.2 286.2,136.5 286.8,134.6 287.2,132.7 287.8,132.6 288.2,132.2 288.8,131.9 289.2,131.5 289.8,133.4 290.2,135.0 290.8,136.4 291.2,138.8 291.8,140.8 292.2,143.0 292.8,145.2 293.2,145.1 293.8,146.0 294.2,147.7 294.8,148.2 295.2,148.2 295.8,149.3 296.2,149.9 296.8,150.5 297.2,151.3 297.8,151.8 298.2,151.6 298.8,151.9 299.2,151.8 299.8,152.7 300.2,153.0 300.8,152.5 301.2,152.4 301.8,153.6 302.2,153.3 302.8,152.6 303.2,152.3 303.8,152.9 304.2,153.5 304.8,152.7 305.2,152.7 305.8,152.5 306.2,152.8 306.8,152.9 307.2,151.6 307.8,151.7 308.2,151.5 308.8,151.0 309.2,150.5 309.8,150.9 310.2,150.3 310.8,150.2 311.2,150.2 311.8,149.1 312.2,149.2 312.8,148.5 313.2,148.2 313.8,148.0 314.2,147.4 314.8,146.5 315.2,147.3 315.8,146.3 316.2,145.3 316.8,144.4 317.2,144.7 317.8,144.5 318.2,144.1 318.8,143.6 319.2,142.4 319.8,142.3 320.2,140.8 320.8,140.9 321.2,140.7 321.8,139.4 322.2,139.0 322.8,138.5 323.2,137.9 323.8,137.8 324.2,136.1 324.8,136.4 325.2,134.7 325.8,134.2 326.2,133.4 326.8,132.9 327.2,132.0 327.8,131.6 328.2,130.6 328.8,130.6 329.2,129.0 329.8,127.9 330.2,127.2 330.8,126.3 331.2,124.8 331.8,123.2 332.2,122.0 332.8,121.2 333.2,120.2 333.8,118.9 334.2,117.6 334.8,116.9 335.2,115.7 335.8,115.1 336.2,114.9 336.8,114.3 337.2,114.6 337.8,116.1 338.2,119.5 338.8,122.1 339.2,125.8 339.8,128.5 340.2,131.3 340.8,134.7 341.2,137.6 341.8,139.0 342.2,141.6 342.8,144.7 343.2,146.3 343.8,148.0 344.2,148.8 344.8,151.2 345.2,152.0 345.8,152.8 346.2,153.0 346.8,154.5 347.2,155.4 347.8,155.4 348.2,155.9 348.8,156.1 349.2,156.8 349.8,156.7 350.2,156.8 350.8,156.6 351.2,156.7 351.8,157.9 352.2,158.3 352.8,158.1 353.2,158.4 353.8,157.7 354.2,158.0 354.8,158.2 355.2,158.0 355.8,158.6 356.2,157.3 356.8,157.5 357.2,157.4 357.8,157.0 358.2,157.4 358.8,156.1 359.2,157.1 359.8,156.8 360.2,156.3 360.8,156.4 361.2,156.4 361.8,155.1 362.2,155.0 362.8,154.7 363.2,154.8 363.8,154.6 364.2,155.0 364.8,156.0 365.2,156.1 365.8,157.1 366.2,157.4 366.8,157.0 367.2,157.5 367.8,157.5 368.2,157.6 368.8,158.2 369.2,157.9 369.8,158.0 370.2,157.2 370.8,158.3 371.2,157.5 371.8,157.8 372.2,158.5 372.8,158.4 373.2,157.2 373.8,156.6 374.2,156.9 374.8,156.2 375.2,156.1 375.8,155.1 376.2,155.7 376.8,155.6 377.2,154.1 377.8,154.1 378.2,153.9 378.8,154.2 379.2,152.9 379.8,153.5 380.2,153.1 380.8,152.6 381.2,153.0 381.8,151.7 382.2,151.7 382.8,151.7 383.2,152.2 383.8,151.6 384.2,151.2 384.8,151.6 385.2,151.2 385.8,151.1 386.2,151.2 386.8,151.4 387.2,152.4 387.8,150.9 388.2,151.4 388.8,151.3 389.2,151.3 389.8,152.0 390.2,151.7 390.8,151.7 391.2,151.3 391.8,151.2 392.2,151.7 392.8,151.5 393.2,151.4 393.8,152.0 394.2,151.3 394.8,151.5 395.2,152.2 395.8,151.9 396.2,152.3 396.8,151.7 397.2,152.4 397.8,151.9 398.2,152.8 398.8,152.7 399.2,152.6 399.8,153.1 400.2,152.7 400.8,152.4 401.2,153.4 401.8,153.1 402.2,153.6 402.8,153.4 403.2,154.0 403.8,153.3 404.2,153.4 404.8,153.6 405.2,154.7 405.8,153.8 406.2,154.1 406.8,154.5 407.2,155.3 407.8,155.6 408.2,155.4 408.8,156.2 409.2,156.2 409.8,156.7 410.2,156.8 410.8,156.3 411.2,156.8 411.8,156.8 412.2,157.2 412.8,157.3 413.2,157.3 413.8,157.8 414.2,157.7 414.8,158.1 415.2,158.0 415.8,158.0 416.2,158.6 416.8,158.8 417.2,159.0 417.8,158.9 418.2,158.7 418.8,159.0 419.2,159.1 419.8,158.4 420.2,158.8 420.8,159.9 421.2,159.4 421.8,158.3 422.2,159.5 422.8,159.7 423.2,159.2 423.8,160.6 424.2,160.2 424.8,160.1 425.2,159.8 425.8,160.1 426.2,160.3 426.8,160.2 427.2,159.8 427.8,160.2 428.2,160.2 428.8,160.3 429.2,159.8 429.8,160.4 430.2,160.3 430.8,160.4 431.2,160.4 431.8,159.8 432.2,160.8 432.8,160.8 433.2,160.0 433.8,160.5 434.2,160.2 434.8,160.4 435.2,161.0 435.8,160.8 436.2,161.4 436.8,160.7 437.2,160.3 437.8,160.8 438.2,159.8 438.8,161.5 439.2,160.9 439.8,161.0 440.2,160.9 440.8,160.5 441.2,160.8 441.8,160.5 442.2,160.7 442.8,161.0 443.2,160.4 443.8,161.6 444.2,160.5 444.8,161.3 445.2,160.7 445.8,160.5 446.2,161.1 446.8,161.1 447.2,160.9 447.8,161.0 448.2,160.8 448.8,161.2 449.2,160.9 449.8,161.1 450.2,161.5 450.8,160.6 451.2,160.9 451.8,160.8 452.2,160.8 452.8,160.6 453.2,161.0 453.8,161.2 454.2,161.1 454.8,160.5 455.2,161.4 455.8,161.5 456.2,161.2 456.8,160.8 457.2,160.9 457.8,162.0 458.2,161.9 458.8,161.4 459.2,160.9 459.8,161.7 460.2,161.3 460.8,161.9 461.2,161.0 461.8,161.4 462.2,161.2 462.8,161.5 463.2,161.0 463.8,161.6 464.2,161.1 464.8,160.9 465.2,161.5 465.8,161.3 466.2,160.4 466.8,161.2 467.2,161.3 467.8,161.3 468.2,162.0 468.8,161.0 469.2,161.2 469.8,160.5 470.2,160.6 470.8,160.9 471.2,161.1 471.8,161.1 472.2,161.4 472.8,161.4 473.2,161.5 473.8,161.0 474.2,161.3 474.8,160.8 475.2,161.2 475.8,161.2 476.2,160.8 476.8,159.7 477.2,160.7 477.8,162.0 478.2,160.9 478.8,160.6 479.2,160.9 479.8,161.3 480.2,161.0 480.8,160.7 481.2,160.3 481.8,160.7 482.2,160.3 482.8,160.9 483.2,161.3 483.8,161.1 484.2,160.4 484.8,160.3 485.2,160.1 485.8,160.8 486.2,160.8 486.8,160.9 487.2,160.7 487.8,160.1 488.2,159.8 488.8,161.0 489.2,160.2 489.8,161.3 490.2,159.6 490.8,160.0 491.2,160.1 491.8,160.6 492.2,160.7 492.8,160.2 493.2,160.7 493.8,159.9 494.2,160.2 494.8,159.9 495.2,160.2 495.8,160.1 496.2,160.5 496.8,161.7 497.2,159.8 497.8,160.2 498.2,160.6 498.8,160.3 499.2,160.9 499.8,159.9 500.2,160.6 500.8,159.9 501.2,160.6 501.8,160.3 502.2,160.3 502.8,160.0 503.2,159.5 503.8,159.8 504.2,160.5 504.8,160.1 505.2,160.5 505.8,159.6 506.2,160.4 506.8,160.5 507.2,159.2 507.8,160.3 508.2,160.9 508.8,159.8 509.2,160.5 509.8,160.1 510.2,160.4 510.8,159.9 511.2,159.8 511.8,159.9 512.2,159.9 512.8,159.8 513.2,159.7 513.8,160.5 514.2,159.8 514.8,159.5 515.2,159.6 515.8,160.2 516.2,159.1" stroke-width="2.6"/>
<path d="M58.8,202.1 59.2,202.1 59.8,202.2 60.2,201.9 60.8,201.9 61.2,202.0 61.8,202.0 62.2,202.2 62.8,202.0 63.2,201.9 63.8,201.8 64.2,202.0 64.8,202.0 65.2,202.2 65.8,202.0 66.2,202.2 66.8,202.2 67.2,201.9 67.8,201.8 68.2,201.9 68.8,202.0 69.2,201.9 69.8,202.1 70.2,202.1 70.8,202.1 71.2,201.9 71.8,201.7 72.2,201.6 72.8,201.2 73.2,201.1 73.8,200.7 74.2,200.6 74.8,199.7 75.2,199.8 75.8,199.4 76.2,198.8 76.8,198.3 77.2,197.8 77.8,197.3 78.2,196.3 78.8,194.6 79.2,193.0 79.8,190.7 80.2,188.8 80.8,186.8 81.2,184.8 81.8,183.2 82.2,180.9 82.8,179.2 83.2,177.4 83.8,176.7 84.2,177.6 84.8,179.8 85.2,182.6 85.8,185.3 86.2,187.4 86.8,189.5 87.2,191.3 87.8,193.3 88.2,195.2 88.8,196.4 89.2,197.0 89.8,197.7 90.2,197.8 90.8,197.9 91.2,198.3 91.8,198.1 92.2,198.4 92.8,198.5 93.2,198.9 93.8,198.3 94.2,198.7 94.8,198.7 95.2,198.9 95.8,198.7 96.2,198.7 96.8,199.0 97.2,198.7 97.8,198.7 98.2,198.6 98.8,198.7 99.2,198.3 99.8,198.4 100.2,198.4 100.8,198.3 101.2,198.3 101.8,198.1 102.2,198.0 102.8,197.8 103.2,197.8 103.8,197.4 104.2,197.2 104.8,196.6 105.2,196.2 105.8,195.8 106.2,195.0 106.8,193.9 107.2,193.4 107.8,192.6 108.2,191.7 108.8,191.3 109.2,190.5 109.8,189.8 110.2,189.1 110.8,188.1 111.2,187.5 111.8,186.6 112.2,185.9 112.8,185.6 113.2,185.2 113.8,184.9 114.2,185.1 114.8,185.5 115.2,185.8 115.8,186.8 116.2,187.4 116.8,188.1 117.2,188.9 117.8,190.0 118.2,190.4 118.8,191.6 119.2,191.7 119.8,192.5 120.2,192.7 120.8,193.7 121.2,194.2 121.8,194.9 122.2,195.5 122.8,195.9 123.2,196.8 123.8,197.0 124.2,197.1 124.8,197.5 125.2,197.1 125.8,197.6 126.2,198.0 126.8,197.9 127.2,198.1 127.8,198.0 128.2,198.4 128.8,198.4 129.2,198.5 129.8,198.7 130.2,198.9 130.8,198.8 131.2,198.4 131.8,198.8 132.2,198.8 132.8,198.6 133.2,198.3 133.8,198.3 134.2,197.9 134.8,197.4 135.2,196.7 135.8,196.1 136.2,195.3 136.8,194.3 137.2,193.4 137.8,192.2 138.2,190.9 138.8,190.0 139.2,188.4 139.8,186.0 140.2,181.9 140.8,178.4 141.2,174.4 141.8,170.6 142.2,166.8 142.8,163.8 143.2,161.4 143.8,158.6 144.2,156.1 144.8,154.0 145.2,151.9 145.8,150.2 146.2,150.3 146.8,150.4 147.2,151.8 147.8,153.7 148.2,156.0 148.8,158.6 149.2,161.4 149.8,163.7 150.2,166.7 150.8,170.4 151.2,174.2 151.8,177.6 152.2,181.4 152.8,183.8 153.2,186.0 153.8,187.9 154.2,189.3 154.8,190.9 155.2,192.1 155.8,193.3 156.2,194.2 156.8,195.3 157.2,195.9 157.8,196.1 158.2,196.9 158.8,197.5 159.2,197.7 159.8,198.2 160.2,198.3 160.8,198.5 161.2,199.0 161.8,199.1 162.2,199.2 162.8,199.8 163.2,199.8 163.8,199.8 164.2,200.0 164.8,200.0 165.2,200.1 165.8,200.2 166.2,199.7 166.8,199.5 167.2,199.6 167.8,199.5 168.2,198.8 168.8,198.4 169.2,197.9 169.8,197.7 170.2,197.3 170.8,196.4 171.2,195.5 171.8,193.9 172.2,192.4 172.8,190.4 173.2,188.8 173.8,186.5 174.2,184.1 174.8,181.2 175.2,178.6 175.8,174.1 176.2,168.7 176.8,162.8 177.2,156.9 177.8,152.0 178.2,147.9 178.8,144.2 179.2,141.6 179.8,141.5 180.2,144.3 180.8,148.6 181.2,152.9 181.8,156.8 182.2,161.3 182.8,166.2 183.2,171.1 183.8,175.2 184.2,178.7 184.8,181.0 185.2,183.5 185.8,185.7 186.2,187.5 186.8,189.3 187.2,190.7 187.8,192.2 188.2,193.3 188.8,193.8 189.2,194.3 189.8,194.8 190.2,195.1 190.8,195.5 191.2,196.0 191.8,196.4 192.2,196.7 192.8,197.1 193.2,197.3 193.8,197.5 194.2,197.5 194.8,197.5 195.2,197.5 195.8,197.2 196.2,197.7 196.8,197.3 197.2,197.3 197.8,197.6 198.2,197.1 198.8,197.0 199.2,197.0 199.8,196.9 200.2,196.8 200.8,196.7 201.2,196.7 201.8,196.4 202.2,196.4 202.8,196.1 203.2,196.0 203.8,195.8 204.2,195.0 204.8,194.8 205.2,194.4 205.8,193.6 206.2,193.0 206.8,193.1 207.2,192.6 207.8,192.5 208.2,192.0 208.8,191.7 209.2,191.4 209.8,191.3 210.2,191.2 210.8,191.7 211.2,192.8 211.8,193.6 212.2,194.9 212.8,195.8 213.2,196.6 213.8,197.4 214.2,198.6 214.8,199.3 215.2,200.3 215.8,200.6 216.2,201.3 216.8,201.6 217.2,201.6 217.8,201.7 218.2,202.1 218.8,202.3 219.2,202.3 219.8,202.4 220.2,202.8 220.8,202.7 221.2,202.8 221.8,203.0 222.2,203.0 222.8,202.9 223.2,203.2 223.8,203.1 224.2,203.3 224.8,203.1 225.2,203.3 225.8,203.5 226.2,203.4 226.8,203.4 227.2,203.5 227.8,203.5 228.2,203.5 228.8,203.5 229.2,203.5 229.8,203.8 230.2,203.4 230.8,203.7 231.2,203.5 231.8,203.7 232.2,203.8 232.8,203.5 233.2,203.9 233.8,203.6 234.2,203.6 234.8,203.8 235.2,203.6 235.8,203.9 236.2,203.8 236.8,203.3 237.2,203.5 237.8,203.6 238.2,203.8 238.8,203.6 239.2,203.6 239.8,203.8 240.2,203.5 240.8,203.7 241.2,203.4 241.8,203.7 242.2,203.8 242.8,203.3 243.2,203.1 243.8,203.2 244.2,203.5 244.8,203.2 245.2,203.4 245.8,203.0 246.2,203.0 246.8,203.1 247.2,203.2 247.8,202.9 248.2,202.7 248.8,202.7 249.2,202.5 249.8,202.3 250.2,201.9 250.8,201.6 251.2,201.4 251.8,200.7 252.2,200.9 252.8,200.8 253.2,200.5 253.8,200.1 254.2,199.8 254.8,200.2 255.2,199.9 255.8,200.0 256.2,200.1 256.8,200.0 257.2,200.1 257.8,200.4 258.2,200.1 258.8,200.5 259.2,200.4 259.8,200.4 260.2,200.5 260.8,200.6 261.2,200.6 261.8,200.6 262.2,200.4 262.8,200.7 263.2,200.5 263.8,200.4 264.2,200.6 264.8,200.6 265.2,200.5 265.8,200.5 266.2,200.5 266.8,200.7 267.2,200.4 267.8,200.2 268.2,200.2 268.8,200.4 269.2,200.2 269.8,200.1 270.2,200.3 270.8,200.3 271.2,200.1 271.8,200.1 272.2,199.9 272.8,199.9 273.2,199.8 273.8,199.6 274.2,199.6 274.8,199.4 275.2,199.1 275.8,198.9 276.2,198.6 276.8,198.1 277.2,197.7 277.8,197.3 278.2,197.1 278.8,196.2 279.2,195.9 279.8,195.4 280.2,194.4 280.8,193.3 281.2,191.6 281.8,189.5 282.2,187.7 282.8,185.0 283.2,182.3 283.8,179.9 284.2,176.9 284.8,172.9 285.2,168.6 285.8,165.1 286.2,162.1 286.8,161.2 287.2,161.8 287.8,163.0 288.2,165.3 288.8,167.7 289.2,171.1 289.8,173.5 290.2,176.7 290.8,180.8 291.2,185.4 291.8,189.0 292.2,190.5 292.8,191.5 293.2,192.4 293.8,193.2 294.2,194.0 294.8,194.5 295.2,194.6 295.8,195.1 296.2,195.2 296.8,194.9 297.2,195.0 297.8,195.1 298.2,195.5 298.8,195.2 299.2,195.2 299.8,195.5 300.2,195.3 300.8,195.3 301.2,195.5 301.8,195.4 302.2,195.1 302.8,195.3 303.2,195.6 303.8,195.2 304.2,195.6 304.8,195.5 305.2,195.5 305.8,195.5 306.2,195.2 306.8,195.3 307.2,195.2 307.8,195.4 308.2,195.5 308.8,195.2 309.2,195.2 309.8,194.8 310.2,195.0 310.8,194.9 311.2,194.9 311.8,194.9 312.2,194.9 312.8,194.6 313.2,194.6 313.8,194.2 314.2,194.4 314.8,194.3 315.2,193.9 315.8,194.1 316.2,193.9 316.8,194.0 317.2,193.8 317.8,193.7 318.2,193.8 318.8,193.4 319.2,193.3 319.8,193.3 320.2,193.2 320.8,192.9 321.2,193.0 321.8,192.9 322.2,192.6 322.8,192.3 323.2,192.6 323.8,192.5 324.2,192.3 324.8,192.1 325.2,192.1 325.8,191.7 326.2,191.7 326.8,191.3 327.2,191.0 327.8,190.9 328.2,190.7 328.8,190.6 329.2,190.6 329.8,190.2 330.2,190.0 330.8,189.9 331.2,189.6 331.8,189.0 332.2,188.5 332.8,188.5 333.2,187.7 333.8,187.1 334.2,186.6 334.8,186.6 335.2,185.8 335.8,185.5 336.2,185.0 336.8,184.7 337.2,183.8 337.8,183.5 338.2,183.0 338.8,182.5 339.2,181.6 339.8,181.0 340.2,180.2 340.8,179.7 341.2,179.1 341.8,178.2 342.2,177.8 342.8,177.0 343.2,176.7 343.8,176.0 344.2,175.6 344.8,175.4 345.2,175.3 345.8,175.1 346.2,175.5 346.8,176.3 347.2,177.6 347.8,178.7 348.2,180.2 348.8,181.5 349.2,182.6 349.8,183.9 350.2,185.6 350.8,186.9 351.2,188.2 351.8,190.0 352.2,191.1 352.8,191.8 353.2,192.2 353.8,192.4 354.2,193.4 354.8,194.1 355.2,194.4 355.8,195.2 356.2,195.3 356.8,195.8 357.2,196.2 357.8,196.5 358.2,196.5 358.8,197.0 359.2,197.3 359.8,197.4 360.2,197.5 360.8,197.9 361.2,198.0 361.8,198.5 362.2,198.8 362.8,198.8 363.2,199.0 363.8,199.1 364.2,199.3 364.8,199.1 365.2,199.4 365.8,199.6 366.2,199.4 366.8,199.6 367.2,199.2 367.8,199.4 368.2,199.3 368.8,199.3 369.2,199.1 369.8,199.3 370.2,198.4 370.8,198.5 371.2,198.5 371.8,198.4 372.2,198.2 372.8,198.0 373.2,197.7 373.8,197.6 374.2,197.5 374.8,197.8 375.2,197.3 375.8,197.7 376.2,197.3 376.8,197.0 377.2,197.0 377.8,196.8 378.2,196.3 378.8,196.1 379.2,196.4 379.8,195.9 380.2,196.0 380.8,195.8 381.2,195.3 381.8,195.5 382.2,195.4 382.8,195.4 383.2,195.1 383.8,195.1 384.2,195.1 384.8,195.0 385.2,195.2 385.8,195.1 386.2,195.2 386.8,195.0 387.2,195.2 387.8,194.9 388.2,194.9 388.8,195.2 389.2,195.0 389.8,195.0 390.2,195.1 390.8,194.8 391.2,195.1 391.8,195.1 392.2,195.0 392.8,194.9 393.2,195.4 393.8,195.2 394.2,195.0 394.8,195.1 395.2,194.9 395.8,194.9 396.2,194.9 396.8,195.1 397.2,195.3 397.8,195.4 398.2,195.3 398.8,195.5 399.2,195.4 399.8,195.2 400.2,195.2 400.8,195.4 401.2,195.5 401.8,195.6 402.2,195.3 402.8,195.2 403.2,195.9 403.8,195.6 404.2,195.8 404.8,195.8 405.2,195.7 405.8,196.2 406.2,196.2 406.8,196.5 407.2,196.5 407.8,196.4 408.2,196.7 408.8,197.0 409.2,196.9 409.8,197.2 410.2,197.5 410.8,197.3 411.2,197.6 411.8,197.9 412.2,198.1 412.8,198.1 413.2,198.2 413.8,198.5 414.2,198.5 414.8,198.7 415.2,198.9 415.8,198.9 416.2,199.2 416.8,199.3 417.2,199.1 417.8,199.5 418.2,199.5 418.8,199.6 419.2,199.8 419.8,200.1 420.2,200.0 420.8,200.1 421.2,200.1 421.8,200.3 422.2,200.5 422.8,200.4 423.2,200.6 423.8,200.9 424.2,201.1 424.8,200.9 425.2,201.3 425.8,201.2 426.2,201.3 426.8,201.3 427.2,201.2 427.8,201.2 428.2,201.3 428.8,201.3 429.2,201.4 429.8,201.6 430.2,201.7 430.8,201.5 431.2,201.6 431.8,201.4 432.2,201.2 432.8,201.5 433.2,201.6 433.8,201.8 434.2,202.0 434.8,201.7 435.2,201.8 435.8,201.8 436.2,201.7 436.8,201.8 437.2,201.8 437.8,202.0 438.2,201.6 438.8,201.4 439.2,201.8 439.8,201.9 440.2,202.0 440.8,201.7 441.2,201.9 441.8,201.8 442.2,202.0 442.8,201.8 443.2,201.7 443.8,202.1 444.2,201.7 444.8,201.7 445.2,202.1 445.8,202.0 446.2,201.6 446.8,202.1 447.2,201.8 447.8,201.9 448.2,202.0 448.8,202.3 449.2,202.0 449.8,202.1 450.2,202.0 450.8,202.1 451.2,201.8 451.8,202.0 452.2,201.9 452.8,201.9 453.2,202.1 453.8,202.2 454.2,202.1 454.8,202.0 455.2,202.1 455.8,201.8 456.2,202.1 456.8,202.1 457.2,202.0 457.8,202.0 458.2,202.0 458.8,201.9 459.2,202.0 459.8,202.1 460.2,201.7 460.8,202.2 461.2,202.1 461.8,202.0 462.2,201.9 462.8,201.9 463.2,201.9 463.8,202.1 464.2,202.1 464.8,202.2 465.2,202.0 465.8,201.7 466.2,201.9 466.8,202.0 467.2,202.1 467.8,201.8 468.2,202.0 468.8,202.0 469.2,201.9 469.8,202.0 470.2,202.3 470.8,202.0 471.2,202.3 471.8,202.0 472.2,201.9 472.8,202.1 473.2,201.9 473.8,202.0 474.2,201.7 474.8,202.1 475.2,201.9 475.8,202.2 476.2,202.0 476.8,201.9 477.2,201.8 477.8,202.0 478.2,201.9 478.8,201.9 479.2,202.3 479.8,202.0 480.2,202.1 480.8,202.2 481.2,202.1 481.8,202.1 482.2,202.1 482.8,202.1 483.2,202.1 483.8,202.1 484.2,202.0 484.8,201.9 485.2,201.9 485.8,201.9 486.2,202.0 486.8,202.2 487.2,201.9 487.8,201.9 488.2,201.9 488.8,202.0 489.2,202.2 489.8,202.0 490.2,202.0 490.8,201.7 491.2,202.0 491.8,202.1 492.2,201.9 492.8,201.8 493.2,202.1 493.8,202.0 494.2,202.3 494.8,201.9 495.2,202.0 495.8,201.9 496.2,202.0 496.8,201.7 497.2,202.2 497.8,202.1 498.2,202.0 498.8,201.9 499.2,202.1 499.8,202.1 500.2,201.9 500.8,202.0 501.2,202.1 501.8,201.9 502.2,202.0 502.8,201.9 503.2,201.9 503.8,201.8 504.2,201.9 504.8,202.1 505.2,202.1 505.8,202.0 506.2,201.5 506.8,201.8 507.2,202.1 507.8,202.2 508.2,202.2 508.8,202.0 509.2,201.9 509.8,201.9 510.2,202.3 510.8,202.0 511.2,201.9 511.8,202.1 512.2,202.1 512.8,201.7 513.2,201.9 513.8,202.2 514.2,202.1 514.8,201.8 515.2,202.0 515.8,202.1 516.2,202.1" stroke-width="2.45"/>
<path d="M57.5,236.9 58.0,237.0 58.5,237.1 59.0,237.1 59.5,236.9 60.0,237.3 60.5,237.0 61.0,236.8 61.5,236.9 62.0,236.7 62.5,236.9 63.0,237.0 63.5,237.2 64.0,237.0 64.5,237.0 65.0,237.0 65.5,236.9 66.0,236.8 66.5,237.0 67.0,236.9 67.5,237.0 68.0,237.0 68.5,236.7 69.0,236.8 69.5,236.7 70.0,236.7 70.5,236.8 71.0,236.7 71.5,236.6 72.0,236.8 72.5,236.8 73.0,236.6 73.5,236.5 74.0,236.5 74.5,236.4 75.0,236.4 75.5,236.3 76.0,236.4 76.5,236.2 77.0,236.1 77.5,235.7 78.0,235.5 78.5,235.4 79.0,234.8 79.5,234.4 80.0,234.3 80.5,233.4 81.0,232.3 81.5,231.3 82.0,229.7 82.5,228.2 83.0,226.7 83.5,224.2 84.0,221.6 84.5,219.6 85.0,218.2 85.5,216.6 86.0,215.8 86.5,216.1 87.0,217.2 87.5,219.1 88.0,221.2 88.5,224.3 89.0,227.6 89.5,230.0 90.0,231.4 90.5,232.2 91.0,232.9 91.5,233.3 92.0,233.3 92.5,233.2 93.0,233.3 93.5,233.1 94.0,233.1 94.5,233.3 95.0,233.3 95.5,233.2 96.0,233.1 96.5,233.3 97.0,233.3 97.5,233.2 98.0,233.2 98.5,233.1 99.0,233.2 99.5,233.1 100.0,233.1 100.5,233.0 101.0,232.7 101.5,232.4 102.0,232.5 102.5,232.3 103.0,232.5 103.5,232.1 104.0,232.2 104.5,232.4 105.0,232.3 105.5,232.3 106.0,232.3 106.5,232.2 107.0,232.4 107.5,232.2 108.0,232.2 108.5,232.5 109.0,232.2 109.5,232.3 110.0,231.9 110.5,231.4 111.0,230.2 111.5,229.0 112.0,227.7 112.5,226.4 113.0,224.9 113.5,223.4 114.0,221.8 114.5,220.5 115.0,219.2 115.5,218.1 116.0,217.7 116.5,218.4 117.0,219.7 117.5,221.3 118.0,222.6 118.5,224.0 119.0,225.1 119.5,226.2 120.0,227.1 120.5,227.6 121.0,228.4 121.5,228.8 122.0,229.2 122.5,229.8 123.0,230.0 123.5,230.6 124.0,230.6 124.5,230.7 125.0,230.9 125.5,231.2 126.0,231.4 126.5,231.7 127.0,232.0 127.5,232.2 128.0,232.3 128.5,232.3 129.0,232.6 129.5,232.8 130.0,232.5 130.5,232.8 131.0,232.9 131.5,232.9 132.0,233.1 132.5,233.1 133.0,233.0 133.5,232.8 134.0,232.7 134.5,232.8 135.0,232.7 135.5,232.6 136.0,232.4 136.5,232.3 137.0,232.3 137.5,232.3 138.0,232.0 138.5,231.8 139.0,231.7 139.5,231.5 140.0,231.4 140.5,230.7 141.0,230.0 141.5,228.7 142.0,227.6 142.5,225.9 143.0,224.0 143.5,221.8 144.0,219.6 144.5,217.2 145.0,215.0 145.5,212.2 146.0,207.8 146.5,204.0 147.0,199.4 147.5,195.6 148.0,192.4 148.5,189.9 149.0,187.6 149.5,185.7 150.0,185.2 150.5,185.6 151.0,187.3 151.5,189.4 152.0,192.1 152.5,195.0 153.0,198.8 153.5,204.0 154.0,209.2 154.5,214.0 155.0,217.4 155.5,219.6 156.0,221.8 156.5,223.6 157.0,225.1 157.5,226.5 158.0,227.7 158.5,228.5 159.0,228.9 159.5,229.6 160.0,230.0 160.5,230.4 161.0,230.9 161.5,231.4 162.0,231.4 162.5,231.9 163.0,232.0 163.5,232.3 164.0,232.4 164.5,232.5 165.0,232.5 165.5,232.5 166.0,232.5 166.5,232.4 167.0,232.1 167.5,232.2 168.0,232.1 168.5,231.9 169.0,231.7 169.5,231.2 170.0,231.3 170.5,231.1 171.0,230.9 171.5,230.2 172.0,229.8 172.5,229.2 173.0,228.6 173.5,227.7 174.0,227.0 174.5,226.0 175.0,225.0 175.5,223.4 176.0,220.2 176.5,216.5 177.0,212.2 177.5,207.3 178.0,202.6 178.5,197.2 179.0,189.6 179.5,181.5 180.0,175.2 180.5,172.5 181.0,175.0 181.5,181.0 182.0,188.6 182.5,194.9 183.0,200.6 183.5,206.6 184.0,212.2 184.5,216.9 185.0,220.0 185.5,221.7 186.0,223.3 186.5,225.2 187.0,226.2 187.5,227.3 188.0,228.0 188.5,228.8 189.0,228.9 189.5,228.9 190.0,229.4 190.5,229.5 191.0,229.8 191.5,229.9 192.0,230.2 192.5,230.3 193.0,230.3 193.5,230.6 194.0,230.8 194.5,230.4 195.0,230.6 195.5,230.5 196.0,230.5 196.5,230.3 197.0,230.3 197.5,230.6 198.0,230.4 198.5,230.3 199.0,230.5 199.5,230.4 200.0,230.3 200.5,230.1 201.0,230.1 201.5,230.2 202.0,229.7 202.5,229.7 203.0,229.7 203.5,229.9 204.0,229.7 204.5,229.6 205.0,229.5 205.5,229.4 206.0,229.3 206.5,229.3 207.0,228.7 207.5,228.5 208.0,227.9 208.5,227.9 209.0,227.4 209.5,227.2 210.0,226.9 210.5,226.8 211.0,226.7 211.5,226.5 212.0,226.3 212.5,226.6 213.0,226.3 213.5,226.4 214.0,226.4 214.5,226.8 215.0,228.0 215.5,229.0 216.0,230.0 216.5,230.8 217.0,231.4 217.5,232.0 218.0,232.6 218.5,233.0 219.0,233.4 219.5,233.8 220.0,234.0 220.5,233.9 221.0,233.7 221.5,233.8 222.0,233.9 222.5,233.9 223.0,233.9 223.5,233.9 224.0,233.8 224.5,233.7 225.0,233.6 225.5,233.9 226.0,233.8 226.5,233.6 227.0,233.8 227.5,233.7 228.0,233.7 228.5,234.0 229.0,233.7 229.5,234.0 230.0,233.7 230.5,233.7 231.0,233.8 231.5,234.0 232.0,233.7 232.5,233.8 233.0,233.5 233.5,233.8 234.0,233.6 234.5,233.7 235.0,233.9 235.5,233.7 236.0,233.8 236.5,233.6 237.0,233.6 237.5,233.6 238.0,233.7 238.5,233.5 239.0,233.5 239.5,233.3 240.0,233.2 240.5,233.4 241.0,233.3 241.5,233.3 242.0,233.3 242.5,233.3 243.0,233.0 243.5,233.1 244.0,233.0 244.5,232.9 245.0,232.6 245.5,232.7 246.0,232.7 246.5,232.7 247.0,232.5 247.5,232.3 248.0,232.6 248.5,232.2 249.0,231.9 249.5,231.8 250.0,231.6 250.5,231.2 251.0,230.9 251.5,230.6 252.0,230.5 252.5,230.2 253.0,230.1 253.5,229.8 254.0,229.9 254.5,230.0 255.0,230.0 255.5,229.8 256.0,230.0 256.5,230.3 257.0,230.1 257.5,230.1 258.0,230.1 258.5,230.0 259.0,230.2 259.5,230.2 260.0,230.2 260.5,230.4 261.0,230.5 261.5,230.5 262.0,230.2 262.5,230.4 263.0,230.6 263.5,230.3 264.0,230.6 264.5,230.5 265.0,230.6 265.5,230.4 266.0,230.3 266.5,230.3 267.0,230.6 267.5,230.3 268.0,230.2 268.5,230.3 269.0,230.0 269.5,230.1 270.0,230.0 270.5,229.9 271.0,229.8 271.5,229.7 272.0,229.3 272.5,229.5 273.0,229.3 273.5,229.2 274.0,229.1 274.5,229.0 275.0,228.8 275.5,228.8 276.0,228.6 276.5,228.2 277.0,227.8 277.5,227.4 278.0,227.3 278.5,226.6 279.0,226.6 279.5,226.0 280.0,225.3 280.5,224.8 281.0,224.0 281.5,223.2 282.0,222.1 282.5,220.1 283.0,218.1 283.5,215.5 284.0,213.0 284.5,210.0 285.0,206.1 285.5,200.6 286.0,194.8 286.5,190.4 287.0,188.5 287.5,189.5 288.0,191.2 288.5,194.3 289.0,197.6 289.5,201.4 290.0,205.1 290.5,209.1 291.0,214.3 291.5,218.8 292.0,221.3 292.5,221.9 293.0,222.8 293.5,223.3 294.0,223.7 294.5,224.1 295.0,224.6 295.5,224.8 296.0,225.0 296.5,225.0 297.0,225.1 297.5,225.2 298.0,225.2 298.5,225.5 299.0,225.6 299.5,225.6 300.0,225.7 300.5,225.9 301.0,225.9 301.5,225.8 302.0,226.3 302.5,225.9 303.0,226.2 303.5,226.1 304.0,226.3 304.5,226.2 305.0,226.4 305.5,226.2 306.0,226.1 306.5,226.4 307.0,226.2 307.5,226.1 308.0,226.1 308.5,226.0 309.0,226.1 309.5,226.2 310.0,226.1 310.5,225.9 311.0,225.9 311.5,225.9 312.0,225.7 312.5,225.9 313.0,225.6 313.5,225.3 314.0,225.5 314.5,225.3 315.0,225.4 315.5,225.3 316.0,225.2 316.5,225.2 317.0,225.2 317.5,224.8 318.0,224.7 318.5,224.8 319.0,224.8 319.5,225.0 320.0,224.8 320.5,224.6 321.0,224.5 321.5,224.2 322.0,224.1 322.5,224.2 323.0,224.1 323.5,224.0 324.0,223.9 324.5,223.9 325.0,223.6 325.5,223.6 326.0,223.4 326.5,223.5 327.0,223.0 327.5,223.2 328.0,223.1 328.5,222.7 329.0,222.7 329.5,222.8 330.0,222.4 330.5,222.3 331.0,222.2 331.5,222.1 332.0,221.9 332.5,221.5 333.0,221.2 333.5,220.9 334.0,220.9 334.5,220.3 335.0,220.3 335.5,220.1 336.0,219.7 336.5,219.5 337.0,219.2 337.5,219.0 338.0,218.5 338.5,218.4 339.0,218.1 339.5,217.8 340.0,217.3 340.5,217.2 341.0,216.7 341.5,216.4 342.0,216.0 342.5,215.9 343.0,215.2 343.5,215.1 344.0,214.3 344.5,214.0 345.0,213.8 345.5,213.3 346.0,213.1 346.5,212.9 347.0,212.6 347.5,212.4 348.0,212.4 348.5,212.4 349.0,212.3 349.5,212.3 350.0,212.1 350.5,212.0 351.0,211.9 351.5,212.0 352.0,211.9 352.5,212.1 353.0,212.4 353.5,213.1 354.0,213.8 354.5,214.8 355.0,215.4 355.5,216.2 356.0,217.1 356.5,218.1 357.0,218.8 357.5,219.8 358.0,220.5 358.5,221.5 359.0,222.4 359.5,223.2 360.0,223.7 360.5,224.1 361.0,224.4 361.5,225.0 362.0,225.2 362.5,225.7 363.0,225.9 363.5,226.3 364.0,226.7 364.5,227.0 365.0,226.8 365.5,226.8 366.0,226.5 366.5,226.6 367.0,226.9 367.5,226.8 368.0,226.7 368.5,226.6 369.0,226.7 369.5,226.4 370.0,226.4 370.5,226.7 371.0,226.2 371.5,226.2 372.0,226.1 372.5,226.2 373.0,226.0 373.5,225.9 374.0,225.8 374.5,225.9 375.0,225.6 375.5,225.5 376.0,225.6 376.5,225.5 377.0,225.5 377.5,225.4 378.0,225.3 378.5,225.3 379.0,225.2 379.5,225.2 380.0,225.0 380.5,224.7 381.0,224.9 381.5,224.8 382.0,224.7 382.5,224.7 383.0,224.5 383.5,224.6 384.0,224.4 384.5,224.5 385.0,224.1 385.5,223.9 386.0,224.0 386.5,224.4 387.0,224.0 387.5,223.9 388.0,223.9 388.5,223.8 389.0,223.8 389.5,223.8 390.0,224.0 390.5,223.9 391.0,223.7 391.5,223.7 392.0,223.7 392.5,223.5 393.0,223.7 393.5,223.5 394.0,223.6 394.5,223.5 395.0,223.6 395.5,223.6 396.0,223.5 396.5,223.4 397.0,223.4 397.5,223.5 398.0,223.3 398.5,223.3 399.0,223.3 399.5,223.3 400.0,223.4 400.5,223.2 401.0,223.3 401.5,223.2 402.0,223.1 402.5,223.4 403.0,223.4 403.5,223.2 404.0,223.3 404.5,223.3 405.0,223.1 405.5,223.4 406.0,223.0 406.5,223.3 407.0,223.4 407.5,223.3 408.0,223.7 408.5,223.5 409.0,223.8 409.5,223.7 410.0,223.9 410.5,223.9 411.0,224.3 411.5,224.2 412.0,224.4 412.5,224.5 413.0,224.5 413.5,224.6 414.0,224.8 414.5,225.0 415.0,225.1 415.5,225.2 416.0,225.2 416.5,225.4 417.0,225.3 417.5,225.5 418.0,225.3 418.5,225.6 419.0,225.8 419.5,225.7 420.0,225.8 420.5,226.2 421.0,226.3 421.5,226.4 422.0,226.5 422.5,226.6 423.0,226.7 423.5,226.8 424.0,227.0 424.5,226.7 425.0,227.0 425.5,227.2 426.0,227.3 426.5,227.2 427.0,227.3 427.5,227.5 428.0,227.4 428.5,227.3 429.0,227.6 429.5,227.5 430.0,227.5 430.5,227.3 431.0,227.2 431.5,227.6 432.0,227.7 432.5,227.2 433.0,227.4 433.5,227.6 434.0,227.5 434.5,227.5 435.0,227.5 435.5,227.4 436.0,227.6 436.5,227.6 437.0,227.5 437.5,227.2 438.0,227.7 438.5,227.5 439.0,227.6 439.5,227.7 440.0,227.7 440.5,227.5 441.0,227.6 441.5,227.6 442.0,227.4 442.5,227.5 443.0,227.3 443.5,227.3 444.0,227.5 444.5,227.7 445.0,227.4 445.5,227.6 446.0,227.5 446.5,227.7 447.0,227.5 447.5,227.9 448.0,227.6 448.5,227.5 449.0,227.5 449.5,227.3 450.0,227.5 450.5,227.5 451.0,227.6 451.5,227.5 452.0,227.2 452.5,227.2 453.0,227.4 453.5,227.3 454.0,227.6 454.5,227.4 455.0,227.5 455.5,227.5 456.0,227.7 456.5,227.5 457.0,227.5 457.5,227.3 458.0,227.5 458.5,227.5 459.0,227.4 459.5,227.5 460.0,227.3 460.5,227.3 461.0,227.4 461.5,227.3 462.0,227.5 462.5,227.4 463.0,227.2 463.5,227.2 464.0,227.2 464.5,227.1 465.0,227.2 465.5,227.1 466.0,227.3 466.5,227.2 467.0,227.2 467.5,227.2 468.0,226.8 468.5,227.1 469.0,227.0 469.5,227.1 470.0,227.1 470.5,227.1 471.0,227.1 471.5,226.7 472.0,226.8 472.5,227.1 473.0,227.1 473.5,226.8 474.0,227.0 474.5,227.0 475.0,226.7 475.5,226.7 476.0,226.8 476.5,226.8 477.0,227.0 477.5,226.8 478.0,226.8 478.5,226.6 479.0,226.6 479.5,226.6 480.0,226.9 480.5,226.9 481.0,226.6 481.5,226.6 482.0,226.3 482.5,226.8 483.0,226.4 483.5,226.7 484.0,226.7 484.5,226.4 485.0,226.4 485.5,226.6 486.0,226.7 486.5,226.4 487.0,226.4 487.5,226.5 488.0,226.6 488.5,226.3 489.0,226.3 489.5,226.6 490.0,226.4 490.5,226.3 491.0,226.4 491.5,226.4 492.0,226.5 492.5,226.4 493.0,226.3 493.5,226.1 494.0,226.4 494.5,226.4 495.0,226.3 495.5,226.3 496.0,226.3 496.5,226.4 497.0,226.2 497.5,226.1 498.0,226.3 498.5,226.1 499.0,226.1 499.5,226.2 500.0,226.1 500.5,226.1 501.0,226.0 501.5,226.3 502.0,225.9 502.5,226.2 503.0,225.9 503.5,226.0 504.0,226.0 504.5,226.1 505.0,226.0 505.5,226.0 506.0,225.8 506.5,226.1 507.0,226.0 507.5,226.0 508.0,225.9 508.5,225.9 509.0,226.0 509.5,225.9 510.0,226.0 510.5,225.9 511.0,225.7 511.5,226.0 512.0,225.9 512.5,225.8 513.0,225.5 513.5,225.7 514.0,225.8 514.5,225.7 515.0,225.8 515.5,225.8 516.0,225.8" stroke-width="2.45"/>
<path d="M63.8,290.4 64.2,290.5 64.8,290.5 65.2,290.4 65.8,290.1 66.2,290.1 66.8,290.2 67.2,289.9 67.8,289.6 68.2,289.6 68.8,289.4 69.2,289.3 69.8,289.0 70.2,288.8 70.8,288.4 71.2,288.0 71.8,287.9 72.2,287.8 72.8,287.2 73.2,287.0 73.8,286.2 74.2,285.6 74.8,285.1 75.2,284.2 75.8,283.4 76.2,282.4 76.8,281.6 77.2,280.6 77.8,279.3 78.2,278.2 78.8,276.7 79.2,275.1 79.8,272.8 80.2,271.2 80.8,268.7 81.2,266.0 81.8,262.8 82.2,259.4 82.8,256.1 83.2,252.7 83.8,249.1 84.2,245.6 84.8,242.5 85.2,239.8 85.8,237.6 86.2,237.7 86.8,239.7 87.2,243.3 87.8,246.9 88.2,251.8 88.8,256.8 89.2,260.6 89.8,263.9 90.2,266.9 90.8,269.1 91.2,270.6 91.8,271.7 92.2,272.9 92.8,273.6 93.2,274.4 93.8,274.9 94.2,275.7 94.8,276.8 95.2,277.3 95.8,277.6 96.2,278.5 96.8,279.1 97.2,279.6 97.8,280.3 98.2,280.9 98.8,281.6 99.2,282.2 99.8,282.8 100.2,283.4 100.8,283.8 101.2,284.3 101.8,284.6 102.2,284.7 102.8,284.9 103.2,285.2 103.8,285.2 104.2,285.6 104.8,285.1 105.2,285.2 105.8,285.4 106.2,285.5 106.8,285.4 107.2,285.1 107.8,284.9 108.2,284.6 108.8,284.5 109.2,284.4 109.8,283.6 110.2,283.9 110.8,283.4 111.2,282.8 111.8,282.4 112.2,281.8 112.8,281.3 113.2,280.8 113.8,280.2 114.2,279.5 114.8,279.2 115.2,278.6 115.8,278.4 116.2,278.2 116.8,278.0 117.2,278.1 117.8,278.3 118.2,278.7 118.8,279.1 119.2,279.9 119.8,280.6 120.2,281.5 120.8,281.8 121.2,282.6 121.8,283.0 122.2,283.6 122.8,284.5 123.2,285.0 123.8,285.7 124.2,286.2 124.8,286.6 125.2,287.1 125.8,287.4 126.2,287.5 126.8,287.7 127.2,287.5 127.8,287.2 128.2,287.5 128.8,287.2 129.2,287.1 129.8,287.0 130.2,286.5 130.8,286.5 131.2,286.2 131.8,285.9 132.2,285.4 132.8,284.8 133.2,284.2 133.8,283.2 134.2,282.2 134.8,281.3 135.2,279.9 135.8,279.2 136.2,278.3 136.8,277.4 137.2,276.8 137.8,275.9 138.2,275.4 138.8,274.4 139.2,273.8 139.8,273.0 140.2,272.2 140.8,271.6 141.2,271.0 141.8,270.3 142.2,270.0 142.8,269.5 143.2,269.3 143.8,268.9 144.2,269.3 144.8,269.4 145.2,270.2 145.8,270.5 146.2,271.2 146.8,272.0 147.2,272.6 147.8,273.6 148.2,274.2 148.8,275.0 149.2,275.8 149.8,276.7 150.2,277.5 150.8,278.2 151.2,279.1 151.8,280.2 152.2,281.2 152.8,281.8 153.2,282.9 153.8,283.5 154.2,283.9 154.8,284.8 155.2,285.4 155.8,285.7 156.2,286.2 156.8,286.5 157.2,286.7 157.8,287.0 158.2,287.5 158.8,288.0 159.2,288.2 159.8,288.6 160.2,289.1 160.8,289.4 161.2,289.2 161.8,289.5 162.2,289.8 162.8,289.9 163.2,289.7 163.8,290.4 164.2,290.1 164.8,290.0 165.2,289.7 165.8,289.9 166.2,289.6 166.8,289.7 167.2,289.6 167.8,289.4 168.2,289.3 168.8,289.1 169.2,289.0 169.8,288.5 170.2,288.8 170.8,288.4 171.2,288.5 171.8,287.9 172.2,287.3 172.8,287.4 173.2,286.7 173.8,286.2 174.2,285.8 174.8,285.5 175.2,285.1 175.8,284.3 176.2,283.8 176.8,283.1 177.2,282.2 177.8,281.4 178.2,280.4 178.8,279.4 179.2,278.6 179.8,277.2 180.2,276.6 180.8,275.7 181.2,275.2 181.8,274.3 182.2,273.6 182.8,273.0 183.2,272.4 183.8,272.1 184.2,271.9 184.8,272.2 185.2,273.1 185.8,274.3 186.2,275.6 186.8,276.9 187.2,277.9 187.8,279.3 188.2,280.4 188.8,281.7 189.2,282.7 189.8,284.1 190.2,284.9 190.8,285.7 191.2,286.3 191.8,286.6 192.2,287.0 192.8,287.1 193.2,287.3 193.8,287.6 194.2,287.8 194.8,288.1 195.2,288.3 195.8,288.5 196.2,288.6 196.8,288.5 197.2,288.7 197.8,288.8 198.2,289.0 198.8,288.9 199.2,288.9 199.8,289.0 200.2,289.2 200.8,289.1 201.2,289.0 201.8,289.4 202.2,289.5 202.8,289.7 203.2,289.8 203.8,290.0 204.2,290.2 204.8,290.5 205.2,290.7 205.8,290.8 206.2,291.2 206.8,291.8 207.2,292.2 207.8,292.4 208.2,292.7 208.8,293.2 209.2,293.4 209.8,293.6 210.2,293.8 210.8,294.0 211.2,294.2 211.8,294.6 212.2,295.0 212.8,295.3 213.2,295.3 213.8,295.7 214.2,295.8 214.8,296.1 215.2,296.4 215.8,296.6 216.2,296.6 216.8,297.1 217.2,297.0 217.8,297.1 218.2,297.6 218.8,297.3 219.2,297.5 219.8,297.4 220.2,297.6 220.8,297.2 221.2,297.5 221.8,297.3 222.2,297.7 222.8,297.8 223.2,297.6 223.8,297.4 224.2,297.6 224.8,297.8 225.2,297.5 225.8,297.5 226.2,297.7 226.8,297.3 227.2,297.5 227.8,297.5 228.2,297.5 228.8,297.6 229.2,297.5 229.8,297.4 230.2,297.3 230.8,297.5 231.2,297.6 231.8,297.6 232.2,297.6 232.8,297.3 233.2,297.6 233.8,297.4 234.2,297.6 234.8,297.4 235.2,297.3 235.8,297.2 236.2,297.4 236.8,297.2 237.2,297.4 237.8,297.2 238.2,296.8 238.8,296.9 239.2,296.9 239.8,296.8 240.2,296.7 240.8,296.5 241.2,296.2 241.8,296.1 242.2,296.3 242.8,296.1 243.2,296.1 243.8,296.0 244.2,295.6 244.8,295.6 245.2,295.8 245.8,295.6 246.2,295.5 246.8,295.6 247.2,295.3 247.8,295.2 248.2,295.1 248.8,294.8 249.2,295.1 249.8,294.8 250.2,294.6 250.8,294.6 251.2,294.3 251.8,294.2 252.2,294.0 252.8,294.1 253.2,293.9 253.8,294.0 254.2,293.8 254.8,293.9 255.2,293.8 255.8,293.8 256.2,293.8 256.8,293.8 257.2,293.7 257.8,293.6 258.2,294.0 258.8,293.9 259.2,294.3 259.8,294.4 260.2,294.5 260.8,294.7 261.2,294.9 261.8,294.8 262.2,295.1 262.8,295.3 263.2,295.4 263.8,295.5 264.2,295.4 264.8,295.5 265.2,295.7 265.8,295.5 266.2,295.5 266.8,295.5 267.2,295.3 267.8,295.3 268.2,295.3 268.8,295.1 269.2,295.2 269.8,295.0 270.2,295.0 270.8,294.7 271.2,294.6 271.8,294.5 272.2,294.5 272.8,294.4 273.2,294.2 273.8,294.1 274.2,294.2 274.8,293.8 275.2,293.6 275.8,293.7 276.2,293.5 276.8,293.2 277.2,293.1 277.8,292.5 278.2,292.6 278.8,292.3 279.2,292.3 279.8,291.9 280.2,291.8 280.8,291.4 281.2,291.2 281.8,291.0 282.2,290.8 282.8,290.8 283.2,290.9 283.8,290.6 284.2,290.8 284.8,291.0 285.2,291.0 285.8,291.2 286.2,291.4 286.8,291.6 287.2,291.6 287.8,292.2 288.2,292.2 288.8,292.3 289.2,292.4 289.8,292.5 290.2,292.6 290.8,292.4 291.2,292.4 291.8,292.3 292.2,292.6 292.8,292.4 293.2,292.5 293.8,292.4 294.2,292.5 294.8,292.4 295.2,292.4 295.8,292.6 296.2,292.5 296.8,292.4 297.2,292.8 297.8,292.4 298.2,292.4 298.8,292.3 299.2,292.7 299.8,292.5 300.2,292.5 300.8,292.6 301.2,292.5 301.8,292.6 302.2,292.7 302.8,292.5 303.2,292.6 303.8,292.5 304.2,292.4 304.8,292.5 305.2,292.3 305.8,292.2 306.2,291.8 306.8,291.9 307.2,291.8 307.8,291.7 308.2,291.6 308.8,291.5 309.2,291.3 309.8,291.2 310.2,291.1 310.8,291.0 311.2,290.6 311.8,290.8 312.2,290.8 312.8,290.6 313.2,290.3 313.8,290.1 314.2,290.1 314.8,290.2 315.2,290.0 315.8,289.7 316.2,289.4 316.8,289.8 317.2,290.0 317.8,289.4 318.2,289.5 318.8,289.5 319.2,289.5 319.8,289.5 320.2,289.1 320.8,289.2 321.2,289.1 321.8,289.2 322.2,289.1 322.8,289.1 323.2,288.8 323.8,288.8 324.2,288.8 324.8,288.8 325.2,288.7 325.8,288.6 326.2,288.7 326.8,288.6 327.2,288.9 327.8,288.7 328.2,288.6 328.8,288.8 329.2,288.6 329.8,288.9 330.2,288.8 330.8,289.1 331.2,289.1 331.8,289.0 332.2,289.2 332.8,289.2 333.2,289.3 333.8,289.0 334.2,289.4 334.8,289.5 335.2,289.8 335.8,289.6 336.2,289.8 336.8,289.8 337.2,289.8 337.8,290.0 338.2,290.2 338.8,290.2 339.2,290.4 339.8,290.5 340.2,290.6 340.8,290.8 341.2,290.9 341.8,290.9 342.2,291.2 342.8,291.4 343.2,291.8 343.8,291.6 344.2,292.1 344.8,292.1 345.2,292.5 345.8,292.2 346.2,292.6 346.8,292.5 347.2,292.8 347.8,293.1 348.2,293.3 348.8,293.3 349.2,293.6 349.8,293.6 350.2,294.0 350.8,293.9 351.2,294.3 351.8,294.4 352.2,294.2 352.8,294.5 353.2,294.5 353.8,294.9 354.2,294.9 354.8,295.2 355.2,295.1 355.8,295.2 356.2,295.3 356.8,295.5 357.2,295.6 357.8,295.7 358.2,295.8 358.8,296.0 359.2,296.0 359.8,296.0 360.2,296.0 360.8,296.1 361.2,296.2 361.8,296.4 362.2,296.4 362.8,296.2 363.2,296.3 363.8,296.1 364.2,296.3 364.8,296.0 365.2,296.3 365.8,296.1 366.2,296.2 366.8,296.1 367.2,295.9 367.8,296.0 368.2,296.0 368.8,296.1 369.2,296.0 369.8,296.0 370.2,295.9 370.8,295.7 371.2,295.9 371.8,295.6 372.2,295.6 372.8,295.7 373.2,295.5 373.8,295.6 374.2,295.7 374.8,295.5 375.2,295.4 375.8,295.4 376.2,295.9 376.8,295.4 377.2,295.5 377.8,295.5 378.2,295.6 378.8,295.4 379.2,295.4 379.8,295.5 380.2,295.4 380.8,295.4 381.2,295.3 381.8,295.5 382.2,295.5 382.8,295.7 383.2,295.5 383.8,295.5 384.2,295.7 384.8,295.4 385.2,295.7 385.8,295.5 386.2,295.5 386.8,295.7 387.2,295.7 387.8,295.5 388.2,295.7 388.8,295.9 389.2,295.8 389.8,295.8 390.2,295.7 390.8,295.8 391.2,295.8 391.8,295.8 392.2,295.9 392.8,295.9 393.2,295.7 393.8,295.9 394.2,295.9 394.8,295.9 395.2,295.8 395.8,296.1 396.2,295.9 396.8,295.9 397.2,295.9 397.8,296.0 398.2,296.0 398.8,296.0 399.2,295.9 399.8,295.9 400.2,296.0 400.8,296.1 401.2,296.1 401.8,296.3 402.2,296.2 402.8,296.4 403.2,296.3 403.8,296.1 404.2,296.5 404.8,296.6 405.2,296.6 405.8,296.6 406.2,296.6 406.8,296.8 407.2,296.7 407.8,296.8 408.2,297.1 408.8,297.3 409.2,297.2 409.8,297.3 410.2,297.4 410.8,297.7 411.2,297.7 411.8,297.7 412.2,297.8 412.8,297.9 413.2,298.1 413.8,298.0 414.2,298.0 414.8,298.3 415.2,298.3 415.8,298.2 416.2,298.4 416.8,298.4 417.2,298.5 417.8,298.6 418.2,298.7 418.8,298.9 419.2,298.9 419.8,298.9 420.2,298.9 420.8,299.0 421.2,298.9 421.8,299.0 422.2,299.2 422.8,299.4 423.2,299.3 423.8,299.3 424.2,299.4 424.8,299.4 425.2,299.4 425.8,299.4 426.2,299.5 426.8,299.7 427.2,299.5 427.8,299.3 428.2,299.6 428.8,299.6 429.2,299.4 429.8,299.5 430.2,299.2 430.8,299.5 431.2,299.6 431.8,299.7 432.2,299.6 432.8,299.5 433.2,299.6 433.8,299.7 434.2,299.7 434.8,299.7 435.2,299.8 435.8,299.5 436.2,299.7 436.8,299.7 437.2,299.6 437.8,299.8 438.2,299.7 438.8,299.6 439.2,299.6 439.8,299.8 440.2,299.8 440.8,299.9 441.2,299.9 441.8,299.9 442.2,299.7 442.8,299.8 443.2,299.8 443.8,300.1 444.2,299.7 444.8,299.7 445.2,299.7 445.8,300.0 446.2,299.8 446.8,300.0 447.2,299.8 447.8,300.0 448.2,299.7 448.8,299.9 449.2,300.0 449.8,299.9 450.2,299.8 450.8,300.1 451.2,299.8 451.8,299.8 452.2,300.1 452.8,300.1 453.2,299.9 453.8,299.8 454.2,299.8 454.8,299.9 455.2,300.0 455.8,300.1 456.2,300.1 456.8,300.1 457.2,299.9 457.8,300.1 458.2,300.1 458.8,300.1 459.2,300.0 459.8,299.9 460.2,300.1 460.8,300.2 461.2,300.0 461.8,300.0 462.2,300.1 462.8,300.2 463.2,300.2 463.8,300.0 464.2,300.2 464.8,299.9 465.2,299.7 465.8,299.9 466.2,300.0 466.8,299.8 467.2,300.0 467.8,300.0 468.2,300.0 468.8,300.0 469.2,300.1 469.8,300.0 470.2,299.9 470.8,300.1 471.2,300.1 471.8,299.9 472.2,300.2 472.8,300.1 473.2,300.0 473.8,300.0 474.2,299.9 474.8,300.1 475.2,300.0 475.8,300.2 476.2,299.7 476.8,299.9 477.2,299.9 477.8,300.1 478.2,300.0 478.8,299.9 479.2,300.1 479.8,299.9 480.2,300.0 480.8,300.1 481.2,300.1 481.8,299.8 482.2,299.9 482.8,300.1 483.2,300.0 483.8,299.9 484.2,300.1 484.8,300.0 485.2,300.1 485.8,300.1 486.2,300.0 486.8,300.1 487.2,300.0 487.8,300.0 488.2,300.1 488.8,299.8 489.2,299.8 489.8,299.9 490.2,300.1 490.8,300.0 491.2,299.9 491.8,299.9 492.2,299.8 492.8,300.0 493.2,300.0 493.8,300.0 494.2,300.1 494.8,300.0 495.2,300.2 495.8,300.0 496.2,300.2 496.8,300.1 497.2,299.9 497.8,300.0 498.2,300.3 498.8,299.9 499.2,299.9 499.8,300.0 500.2,300.0 500.8,300.0 501.2,300.2 501.8,300.0 502.2,300.1 502.8,299.9 503.2,299.9 503.8,300.0 504.2,300.0 504.8,300.1 505.2,300.2 505.8,299.9 506.2,300.1 506.8,299.9 507.2,300.2 507.8,299.8 508.2,299.9 508.8,300.0 509.2,300.0 509.8,299.9 510.2,300.1 510.8,299.9 511.2,300.1 511.8,299.8 512.2,300.1 512.8,300.1 513.2,300.1 513.8,300.1 514.2,300.0 514.8,300.0 515.2,300.1 515.8,299.9 516.2,300.0" stroke-width="2.45"/>
<path d="M53.0,358.7 53.5,358.5 54.0,358.2 54.5,357.0 55.0,357.6 55.5,357.2 56.0,357.1 56.5,356.4 57.0,355.3 57.5,354.9 58.0,354.0 58.5,353.4 59.0,352.4 59.5,352.0 60.0,350.7 60.5,349.6 61.0,348.1 61.5,347.1 62.0,346.2 62.5,344.7 63.0,344.1 63.5,343.1 64.0,341.3 64.5,340.3 65.0,338.8 65.5,338.7 66.0,337.2 66.5,336.6 67.0,335.4 67.5,334.6 68.0,334.6 68.5,334.9 69.0,334.7 69.5,334.1 70.0,333.6 70.5,333.5 71.0,333.6 71.5,332.7 72.0,333.4 72.5,332.7 73.0,333.3 73.5,333.9 74.0,334.5 74.5,335.3 75.0,336.8 75.5,337.7 76.0,340.2 76.5,343.0 77.0,346.7 77.5,350.1 78.0,352.5 78.5,354.1 79.0,357.4 79.5,359.7 80.0,361.2 80.5,363.5 81.0,365.4 81.5,366.8 82.0,368.8 82.5,370.2 83.0,371.2 83.5,371.9 84.0,373.9 84.5,375.9 85.0,376.7 85.5,377.0 86.0,377.5 86.5,379.3 87.0,379.8 87.5,380.7 88.0,381.5 88.5,381.5 89.0,381.9 89.5,381.9 90.0,382.6 90.5,382.3 91.0,383.3 91.5,383.0 92.0,383.9 92.5,383.3 93.0,383.8 93.5,383.5 94.0,384.2 94.5,383.7 95.0,384.6 95.5,384.5 96.0,383.6 96.5,383.9 97.0,384.6 97.5,384.6 98.0,385.5 98.5,384.4 99.0,384.8 99.5,384.9 100.0,385.1 100.5,385.7 101.0,385.1 101.5,384.6 102.0,385.9 102.5,385.5 103.0,384.9 103.5,385.2 104.0,385.5 104.5,385.7 105.0,386.0 105.5,385.7 106.0,385.6 106.5,385.5 107.0,385.9 107.5,386.0 108.0,386.2 108.5,385.2 109.0,385.8 109.5,386.3 110.0,386.8 110.5,386.6 111.0,385.3 111.5,385.5 112.0,386.5 112.5,386.3 113.0,386.3 113.5,387.0 114.0,385.7 114.5,386.5 115.0,386.0 115.5,385.6 116.0,384.9 116.5,385.1 117.0,386.0 117.5,385.3 118.0,385.5 118.5,385.2 119.0,384.7 119.5,385.0 120.0,384.6 120.5,384.2 121.0,384.0 121.5,383.7 122.0,384.0 122.5,383.7 123.0,384.1 123.5,383.4 124.0,383.0 124.5,382.5 125.0,383.3 125.5,383.9 126.0,382.7 126.5,381.7 127.0,382.8 127.5,382.1 128.0,382.5 128.5,382.2 129.0,382.3 129.5,381.9 130.0,381.7 130.5,382.2 131.0,381.6 131.5,382.2 132.0,381.6 132.5,381.9 133.0,381.7 133.5,382.5 134.0,382.0 134.5,382.1 135.0,383.0 135.5,382.9 136.0,382.9 136.5,382.8 137.0,383.3 137.5,383.6 138.0,383.9 138.5,383.4 139.0,384.0 139.5,383.1 140.0,384.0 140.5,383.7 141.0,384.4 141.5,384.0 142.0,385.1 142.5,384.4 143.0,384.5 143.5,383.5 144.0,383.9 144.5,384.9 145.0,384.3 145.5,385.1 146.0,384.4 146.5,385.0 147.0,384.5 147.5,385.0 148.0,385.1 148.5,385.2 149.0,384.6 149.5,384.5 150.0,385.2 150.5,385.1 151.0,385.3 151.5,384.6 152.0,385.4 152.5,385.1 153.0,384.7 153.5,385.0 154.0,385.6 154.5,385.3 155.0,385.3 155.5,385.3 156.0,385.2 156.5,385.8 157.0,385.4 157.5,384.8 158.0,384.8 158.5,385.2 159.0,385.3 159.5,385.7 160.0,384.4 160.5,385.8 161.0,385.9 161.5,385.3 162.0,386.0 162.5,385.2 163.0,385.4 163.5,385.2 164.0,385.9 164.5,385.6 165.0,385.5 165.5,384.4 166.0,384.8 166.5,384.1 167.0,384.4 167.5,384.4 168.0,384.6 168.5,383.9 169.0,383.9 169.5,383.7 170.0,383.3 170.5,384.4 171.0,383.9 171.5,384.3 172.0,384.1 172.5,383.2 173.0,383.4 173.5,383.6 174.0,383.2 174.5,382.7 175.0,381.9 175.5,381.9 176.0,380.9 176.5,381.2 177.0,380.9 177.5,382.0 178.0,382.1 178.5,382.7 179.0,382.8 179.5,382.4 180.0,383.6 180.5,384.5 181.0,385.0 181.5,385.8 182.0,386.3 182.5,386.0 183.0,386.9 183.5,386.2 184.0,387.4 184.5,386.6 185.0,388.0 185.5,387.2 186.0,388.6 186.5,389.3 187.0,388.9 187.5,389.5 188.0,389.9 188.5,388.6 189.0,389.2 189.5,390.2 190.0,390.0 190.5,390.4 191.0,391.9 191.5,391.7 192.0,391.4 192.5,391.0 193.0,391.6 193.5,391.7 194.0,391.6 194.5,392.4 195.0,391.1 195.5,392.6 196.0,391.9 196.5,392.7 197.0,392.3 197.5,392.2 198.0,392.3 198.5,392.7 199.0,392.9 199.5,394.0 200.0,393.5 200.5,393.0 201.0,392.6 201.5,393.2 202.0,393.4 202.5,392.6 203.0,393.4 203.5,393.9 204.0,393.3 204.5,392.9 205.0,393.9 205.5,394.3 206.0,393.6 206.5,393.8 207.0,394.2 207.5,394.0 208.0,393.5 208.5,393.7 209.0,393.8 209.5,393.9 210.0,394.4 210.5,393.5 211.0,394.1 211.5,393.9 212.0,393.2 212.5,394.3 213.0,394.1 213.5,393.5 214.0,393.4 214.5,394.5 215.0,394.8 215.5,394.2 216.0,394.1 216.5,394.5 217.0,393.9 217.5,394.0 218.0,394.6 218.5,393.8 219.0,394.7 219.5,394.4 220.0,394.8 220.5,393.6 221.0,394.9 221.5,394.3 222.0,394.6 222.5,394.1 223.0,394.0 223.5,394.9 224.0,394.6 224.5,394.7 225.0,394.7 225.5,394.7 226.0,393.8 226.5,394.3 227.0,394.3 227.5,395.3 228.0,395.0 228.5,394.1 229.0,393.9 229.5,394.8 230.0,394.7 230.5,395.1 231.0,394.0 231.5,395.2 232.0,394.6 232.5,395.1 233.0,394.6 233.5,394.3 234.0,394.2 234.5,395.1 235.0,393.2 235.5,394.9 236.0,394.8 236.5,394.2 237.0,394.8 237.5,394.4 238.0,393.9 238.5,394.3 239.0,394.6 239.5,394.4 240.0,394.0 240.5,394.6 241.0,394.6 241.5,394.7 242.0,394.3 242.5,394.8 243.0,393.8 243.5,393.9 244.0,393.5 244.5,394.0 245.0,394.0 245.5,393.9 246.0,393.4 246.5,394.3 247.0,393.1 247.5,393.4 248.0,392.5 248.5,394.2 249.0,394.0 249.5,393.6 250.0,393.7 250.5,393.0 251.0,393.1 251.5,393.1 252.0,393.6 252.5,393.2 253.0,393.4 253.5,392.9 254.0,392.7 254.5,393.4 255.0,393.3 255.5,393.3 256.0,392.9 256.5,393.2 257.0,392.4 257.5,392.5 258.0,393.1 258.5,392.5 259.0,392.4 259.5,392.5 260.0,393.5 260.5,392.6 261.0,392.8 261.5,392.6 262.0,393.6 262.5,392.5 263.0,393.0 263.5,392.9 264.0,392.6 264.5,392.4 265.0,391.7 265.5,392.5 266.0,393.1 266.5,392.4 267.0,393.0 267.5,392.4 268.0,392.4 268.5,391.8 269.0,391.8 269.5,392.0 270.0,392.2 270.5,391.3 271.0,391.1 271.5,391.6 272.0,391.5 272.5,391.7 273.0,392.1 273.5,391.2 274.0,392.1 274.5,391.5 275.0,391.2 275.5,390.5 276.0,391.7 276.5,391.8 277.0,391.2 277.5,391.2 278.0,390.7 278.5,390.1 279.0,390.5 279.5,390.2 280.0,390.2 280.5,390.3 281.0,390.4 281.5,390.8 282.0,391.1 282.5,390.4 283.0,390.8 283.5,390.3 284.0,390.3 284.5,390.5 285.0,390.1 285.5,390.4 286.0,390.1 286.5,389.9 287.0,389.9 287.5,390.8 288.0,390.3 288.5,389.9 289.0,390.2 289.5,389.7 290.0,389.8 290.5,389.8 291.0,389.2 291.5,389.8 292.0,389.9 292.5,389.8 293.0,389.5 293.5,390.0 294.0,389.1 294.5,389.8 295.0,389.7 295.5,389.3 296.0,389.7 296.5,388.7 297.0,389.1 297.5,388.8 298.0,388.5 298.5,388.7 299.0,388.9 299.5,388.9 300.0,389.0 300.5,388.5 301.0,388.7 301.5,388.8 302.0,388.6 302.5,388.9 303.0,388.1 303.5,388.6 304.0,388.9 304.5,389.0 305.0,389.5 305.5,389.2 306.0,390.2 306.5,389.0 307.0,390.4 307.5,389.4 308.0,389.5 308.5,389.7 309.0,389.9 309.5,390.1 310.0,390.2 310.5,390.7 311.0,390.9 311.5,390.3 312.0,391.3 312.5,391.0 313.0,391.0 313.5,391.4 314.0,391.1 314.5,391.8 315.0,390.8 315.5,391.8 316.0,391.2 316.5,391.7 317.0,391.3 317.5,392.2 318.0,391.7 318.5,391.9 319.0,391.2 319.5,391.1 320.0,391.8 320.5,392.4 321.0,391.9 321.5,391.3 322.0,392.6 322.5,391.8 323.0,392.3 323.5,391.8 324.0,391.9 324.5,392.3 325.0,391.2 325.5,391.9 326.0,392.1 326.5,392.2 327.0,391.7 327.5,392.9 328.0,392.4 328.5,392.4 329.0,391.8 329.5,392.5 330.0,392.9 330.5,393.0 331.0,392.9 331.5,392.7 332.0,392.6 332.5,392.8 333.0,393.0 333.5,392.7 334.0,392.7 334.5,393.0 335.0,392.8 335.5,393.0 336.0,393.0 336.5,392.5 337.0,393.5 337.5,393.2 338.0,392.6 338.5,392.6 339.0,392.8 339.5,392.7 340.0,392.6 340.5,393.0 341.0,392.8 341.5,392.6 342.0,393.6 342.5,392.8 343.0,393.1 343.5,392.4 344.0,392.5 344.5,392.5 345.0,393.3 345.5,393.2 346.0,392.8 346.5,392.8 347.0,393.0 347.5,392.5 348.0,392.7 348.5,393.2 349.0,392.5 349.5,393.0 350.0,392.7 350.5,392.8 351.0,392.7 351.5,393.1 352.0,393.1 352.5,392.9 353.0,392.0 353.5,392.7 354.0,393.1 354.5,392.2 355.0,392.0 355.5,392.5 356.0,392.9 356.5,392.1 357.0,392.7 357.5,392.4 358.0,392.5 358.5,392.7 359.0,392.5 359.5,392.3 360.0,392.6 360.5,393.1 361.0,392.7 361.5,392.8 362.0,392.1 362.5,392.3 363.0,391.9 363.5,392.8 364.0,392.9 364.5,392.6 365.0,392.8 365.5,392.3 366.0,392.3 366.5,392.9 367.0,392.3 367.5,392.9 368.0,393.1 368.5,392.0 369.0,392.1 369.5,393.2 370.0,392.9 370.5,393.1 371.0,393.2 371.5,392.4 372.0,393.4 372.5,393.1 373.0,393.0 373.5,392.8 374.0,392.5 374.5,392.4 375.0,392.1 375.5,392.4 376.0,392.4 376.5,392.8 377.0,392.5 377.5,392.1 378.0,392.9 378.5,392.0 379.0,392.7 379.5,393.1 380.0,392.3 380.5,392.4 381.0,392.9 381.5,393.5 382.0,392.9 382.5,392.8 383.0,393.1 383.5,392.4 384.0,392.5 384.5,393.4 385.0,393.4 385.5,393.4 386.0,393.2 386.5,393.4 387.0,392.5 387.5,392.8 388.0,393.1 388.5,393.7 389.0,393.4 389.5,393.3 390.0,392.9 390.5,393.4 391.0,393.5 391.5,393.6 392.0,393.4 392.5,394.3 393.0,393.0 393.5,393.9 394.0,393.1 394.5,393.1 395.0,393.9 395.5,393.5 396.0,393.4 396.5,393.8 397.0,394.8 397.5,393.6 398.0,393.7 398.5,394.4 399.0,393.7 399.5,394.9 400.0,393.5 400.5,394.0 401.0,394.5 401.5,394.0 402.0,394.0 402.5,393.6 403.0,394.2 403.5,394.6 404.0,394.2 404.5,393.9 405.0,394.9 405.5,394.7 406.0,394.7 406.5,394.4 407.0,394.1 407.5,395.0 408.0,394.6 408.5,394.4 409.0,394.5 409.5,394.8 410.0,395.0 410.5,394.6 411.0,394.5 411.5,394.2 412.0,394.6 412.5,394.6 413.0,394.8 413.5,394.7 414.0,394.5 414.5,394.7 415.0,395.0 415.5,394.7 416.0,394.7 416.5,394.6 417.0,394.6 417.5,394.9 418.0,395.0 418.5,394.6 419.0,394.6 419.5,394.9 420.0,395.0 420.5,395.2 421.0,394.2 421.5,395.0 422.0,394.5 422.5,394.9 423.0,395.0 423.5,395.4 424.0,394.5 424.5,395.1 425.0,393.7 425.5,394.7 426.0,393.8 426.5,394.3 427.0,394.2 427.5,394.0 428.0,394.6 428.5,394.2 429.0,394.1 429.5,394.3 430.0,394.4 430.5,394.8 431.0,394.4 431.5,394.2 432.0,393.9 432.5,394.8 433.0,394.6 433.5,394.8 434.0,394.2 434.5,395.0 435.0,394.7 435.5,395.4 436.0,394.4 436.5,394.8 437.0,395.1 437.5,394.4 438.0,394.5 438.5,394.3 439.0,394.4 439.5,394.8 440.0,394.6 440.5,394.1 441.0,395.5 441.5,394.2 442.0,394.9 442.5,394.5 443.0,394.8 443.5,394.7 444.0,394.8 444.5,394.8 445.0,395.2 445.5,394.2 446.0,394.0 446.5,393.8 447.0,393.7 447.5,394.7 448.0,393.8 448.5,393.9 449.0,394.6 449.5,394.4 450.0,394.5 450.5,393.4 451.0,394.0 451.5,393.9 452.0,394.5 452.5,394.5 453.0,394.6 453.5,395.0 454.0,395.9 454.5,394.3 455.0,394.8 455.5,394.8 456.0,394.4 456.5,394.1 457.0,394.8 457.5,394.8 458.0,394.7 458.5,394.2 459.0,393.6 459.5,394.1 460.0,395.0 460.5,395.0 461.0,394.1 461.5,394.6 462.0,395.0 462.5,395.0 463.0,394.1 463.5,394.4 464.0,394.5 464.5,394.0 465.0,395.2 465.5,393.8 466.0,394.6 466.5,394.9 467.0,394.7 467.5,394.8 468.0,393.6 468.5,394.5 469.0,394.6 469.5,394.6 470.0,393.9 470.5,394.4 471.0,394.1 471.5,395.0 472.0,394.2 472.5,394.4 473.0,394.4 473.5,394.3 474.0,395.1 474.5,395.0 475.0,394.6 475.5,394.3 476.0,394.2 476.5,393.6 477.0,394.4 477.5,394.5 478.0,394.3 478.5,394.0 479.0,394.8 479.5,394.6 480.0,394.4 480.5,395.0 481.0,394.4 481.5,395.0 482.0,394.2 482.5,394.4 483.0,394.1 483.5,394.7 484.0,394.1 484.5,394.4 485.0,394.3 485.5,394.0 486.0,395.1 486.5,394.7 487.0,394.2 487.5,394.6 488.0,394.4 488.5,394.1 489.0,395.0 489.5,394.6 490.0,394.5 490.5,394.5 491.0,394.5 491.5,394.6 492.0,394.4 492.5,394.3 493.0,394.3 493.5,393.7 494.0,394.2 494.5,394.8 495.0,394.9 495.5,394.4 496.0,394.0 496.5,394.7 497.0,394.0 497.5,393.9 498.0,393.7 498.5,393.5 499.0,395.0 499.5,394.3 500.0,393.2 500.5,394.0 501.0,393.6 501.5,394.6 502.0,394.0 502.5,394.0 503.0,394.6 503.5,395.0 504.0,394.0 504.5,394.3 505.0,393.9 505.5,394.7 506.0,394.4 506.5,394.4 507.0,394.0 507.5,394.9 508.0,394.2 508.5,394.8 509.0,394.9 509.5,393.9 510.0,394.3 510.5,394.5 511.0,394.0 511.5,394.4 512.0,394.5 512.5,393.8 513.0,394.3 513.5,394.6 514.0,394.3 514.5,394.2 515.0,393.9 515.5,394.5 516.0,394.6" stroke-width="2.5"/>
<path d="M53.0,408.7 53.5,409.9 54.0,409.3 54.5,409.4 55.0,410.9 55.5,410.5 56.0,410.9 56.5,411.1 57.0,410.2 57.5,409.9 58.0,411.5 58.5,409.3 59.0,410.1 59.5,411.4 60.0,410.0 60.5,410.8 61.0,409.8 61.5,411.6 62.0,410.0 62.5,410.5 63.0,409.0 63.5,409.9 64.0,409.3 64.5,408.0 65.0,407.9 65.5,406.4 66.0,405.8 66.5,404.3 67.0,403.3 67.5,401.8 68.0,401.6 68.5,399.8 69.0,398.0 69.5,397.7 70.0,394.9 70.5,392.9 71.0,390.6 71.5,389.5 72.0,387.1 72.5,384.5 73.0,382.7 73.5,380.9 74.0,378.1 74.5,376.2 75.0,373.8 75.5,372.4 76.0,369.0 76.5,368.2 77.0,366.9 77.5,366.0 78.0,365.6 78.5,365.5 79.0,367.8 79.5,369.0 80.0,372.5 80.5,375.4 81.0,377.9 81.5,379.7 82.0,382.3 82.5,384.6 83.0,387.1 83.5,388.9 84.0,391.4 84.5,393.7 85.0,396.0 85.5,396.4 86.0,398.8 86.5,400.0 87.0,401.5 87.5,402.3 88.0,403.7 88.5,405.1 89.0,405.9 89.5,406.6 90.0,408.5 90.5,408.7 91.0,409.3 91.5,410.2 92.0,410.6 92.5,410.8 93.0,412.0 93.5,412.0 94.0,411.8 94.5,413.5 95.0,413.1 95.5,412.8 96.0,413.9 96.5,413.8 97.0,414.5 97.5,413.9 98.0,414.6 98.5,414.0 99.0,414.2 99.5,415.2 100.0,414.9 100.5,416.2 101.0,414.9 101.5,415.5 102.0,414.7 102.5,416.4 103.0,415.6 103.5,414.8 104.0,415.8 104.5,415.5 105.0,417.1 105.5,416.5 106.0,415.4 106.5,416.3 107.0,416.3 107.5,415.8 108.0,415.9 108.5,415.9 109.0,415.6 109.5,416.4 110.0,416.0 110.5,416.3 111.0,416.2 111.5,416.0 112.0,417.6 112.5,416.7 113.0,417.0 113.5,418.3 114.0,416.8 114.5,416.5 115.0,415.9 115.5,416.2 116.0,417.5 116.5,416.3 117.0,416.0 117.5,417.3 118.0,417.3 118.5,418.4 119.0,416.6 119.5,418.1 120.0,416.1 120.5,418.2 121.0,417.7 121.5,416.9 122.0,418.1 122.5,417.4 123.0,417.4 123.5,416.8 124.0,417.1 124.5,416.4 125.0,415.1 125.5,414.7 126.0,414.3 126.5,414.8 127.0,414.3 127.5,413.6 128.0,412.9 128.5,412.3 129.0,412.5 129.5,412.4 130.0,411.9 130.5,412.0 131.0,411.6 131.5,409.8 132.0,411.1 132.5,410.1 133.0,409.0 133.5,408.7 134.0,408.6 134.5,407.8 135.0,407.6 135.5,408.1 136.0,408.0 136.5,406.8 137.0,409.2 137.5,408.0 138.0,409.8 138.5,409.9 139.0,410.2 139.5,411.5 140.0,411.0 140.5,411.4 141.0,412.5 141.5,412.8 142.0,412.6 142.5,413.0 143.0,413.4 143.5,414.5 144.0,415.0 144.5,415.6 145.0,415.5 145.5,415.4 146.0,416.8 146.5,418.2 147.0,417.9 147.5,416.6 148.0,417.8 148.5,417.4 149.0,417.5 149.5,417.4 150.0,417.1 150.5,416.7 151.0,417.9 151.5,417.1 152.0,417.4 152.5,417.6 153.0,417.9 153.5,417.6 154.0,417.8 154.5,417.6 155.0,418.1 155.5,418.1 156.0,418.8 156.5,418.3 157.0,417.6 157.5,418.3 158.0,418.5 158.5,417.7 159.0,417.7 159.5,416.7 160.0,418.9 160.5,418.1 161.0,418.8 161.5,417.0 162.0,416.4 162.5,417.9 163.0,417.1 163.5,417.5 164.0,416.8 164.5,417.6 165.0,416.7 165.5,416.6 166.0,416.7 166.5,415.9 167.0,415.7 167.5,416.5 168.0,415.4 168.5,415.3 169.0,415.2 169.5,414.7 170.0,414.7 170.5,415.2 171.0,414.4 171.5,412.5 172.0,411.5 172.5,411.8 173.0,410.4 173.5,409.7 174.0,410.2 174.5,409.9 175.0,410.1 175.5,409.9 176.0,410.5 176.5,408.3 177.0,408.0 177.5,408.1 178.0,408.3 178.5,407.4 179.0,407.0 179.5,406.1 180.0,408.6 180.5,408.4 181.0,410.1 181.5,410.9 182.0,411.6 182.5,411.4 183.0,412.3 183.5,411.5 184.0,413.0 184.5,412.9 185.0,414.2 185.5,413.6 186.0,414.2 186.5,414.3 187.0,416.2 187.5,415.6 188.0,415.3 188.5,416.0 189.0,415.8 189.5,417.7 190.0,418.0 190.5,417.7 191.0,418.1 191.5,417.3 192.0,419.4 192.5,418.7 193.0,420.2 193.5,418.9 194.0,419.8 194.5,420.3 195.0,420.5 195.5,420.2 196.0,421.2 196.5,421.0 197.0,421.0 197.5,420.6 198.0,422.2 198.5,421.7 199.0,422.2 199.5,422.1 200.0,422.5 200.5,422.3 201.0,424.2 201.5,423.9 202.0,423.4 202.5,423.3 203.0,423.7 203.5,422.9 204.0,423.9 204.5,423.6 205.0,423.5 205.5,423.4 206.0,423.5 206.5,424.3 207.0,424.1 207.5,423.7 208.0,424.5 208.5,424.5 209.0,424.4 209.5,425.4 210.0,424.5 210.5,423.9 211.0,424.9 211.5,424.3 212.0,425.4 212.5,425.3 213.0,424.9 213.5,425.4 214.0,424.9 214.5,424.9 215.0,424.2 215.5,424.1 216.0,425.1 216.5,426.4 217.0,424.7 217.5,425.4 218.0,425.1 218.5,425.8 219.0,425.0 219.5,425.4 220.0,425.7 220.5,425.2 221.0,425.4 221.5,425.4 222.0,425.8 222.5,425.9 223.0,425.9 223.5,425.8 224.0,424.9 224.5,425.3 225.0,425.8 225.5,425.5 226.0,426.0 226.5,424.8 227.0,425.0 227.5,425.0 228.0,425.7 228.5,425.1 229.0,425.0 229.5,425.7 230.0,425.3 230.5,424.9 231.0,425.7 231.5,425.4 232.0,425.8 232.5,425.8 233.0,425.1 233.5,425.3 234.0,425.4 234.5,425.9 235.0,425.5 235.5,426.1 236.0,425.2 236.5,425.5 237.0,426.2 237.5,424.7 238.0,424.8 238.5,425.9 239.0,425.9 239.5,426.1 240.0,426.0 240.5,426.1 241.0,425.2 241.5,425.5 242.0,425.8 242.5,424.8 243.0,424.8 243.5,425.2 244.0,426.1 244.5,425.9 245.0,424.7 245.5,425.2 246.0,425.2 246.5,425.5 247.0,425.6 247.5,425.4 248.0,424.9 248.5,426.0 249.0,425.9 249.5,424.7 250.0,425.2 250.5,425.9 251.0,425.4 251.5,425.4 252.0,424.8 252.5,425.9 253.0,424.4 253.5,425.5 254.0,425.9 254.5,424.4 255.0,425.5 255.5,425.2 256.0,424.3 256.5,424.6 257.0,425.3 257.5,424.2 258.0,424.1 258.5,422.6 259.0,423.2 259.5,423.9 260.0,423.9 260.5,424.3 261.0,424.4 261.5,424.9 262.0,424.1 262.5,425.3 263.0,424.0 263.5,424.2 264.0,422.9 264.5,423.6 265.0,423.8 265.5,423.7 266.0,422.8 266.5,423.0 267.0,422.2 267.5,423.0 268.0,422.2 268.5,423.3 269.0,422.8 269.5,423.0 270.0,422.8 270.5,422.7 271.0,422.8 271.5,422.3 272.0,421.3 272.5,422.9 273.0,421.6 273.5,422.5 274.0,422.2 274.5,422.0 275.0,421.8 275.5,421.7 276.0,421.6 276.5,421.4 277.0,421.2 277.5,421.4 278.0,421.5 278.5,420.8 279.0,421.1 279.5,420.1 280.0,420.3 280.5,419.7 281.0,420.4 281.5,420.7 282.0,420.8 282.5,419.6 283.0,420.8 283.5,419.7 284.0,420.0 284.5,419.9 285.0,421.0 285.5,420.2 286.0,421.2 286.5,420.6 287.0,419.9 287.5,420.2 288.0,420.8 288.5,419.5 289.0,419.7 289.5,420.0 290.0,419.8 290.5,419.8 291.0,420.9 291.5,420.0 292.0,419.7 292.5,419.6 293.0,418.9 293.5,420.1 294.0,419.2 294.5,421.4 295.0,419.6 295.5,418.9 296.0,418.4 296.5,418.7 297.0,419.1 297.5,418.4 298.0,419.0 298.5,418.9 299.0,418.7 299.5,418.6 300.0,418.2 300.5,417.8 301.0,417.4 301.5,417.1 302.0,417.8 302.5,418.4 303.0,418.0 303.5,417.4 304.0,418.5 304.5,417.5 305.0,417.4 305.5,417.5 306.0,417.7 306.5,418.1 307.0,417.4 307.5,417.2 308.0,418.4 308.5,418.4 309.0,418.5 309.5,418.7 310.0,418.4 310.5,419.4 311.0,418.3 311.5,418.4 312.0,419.2 312.5,418.8 313.0,418.5 313.5,418.6 314.0,418.0 314.5,419.1 315.0,418.6 315.5,419.0 316.0,419.6 316.5,419.3 317.0,419.1 317.5,419.2 318.0,419.2 318.5,420.1 319.0,418.2 319.5,419.1 320.0,418.9 320.5,419.7 321.0,419.5 321.5,419.7 322.0,420.8 322.5,420.0 323.0,420.4 323.5,419.8 324.0,419.7 324.5,419.6 325.0,421.1 325.5,419.8 326.0,420.2 326.5,421.9 327.0,420.9 327.5,420.8 328.0,420.8 328.5,420.3 329.0,421.3 329.5,421.7 330.0,420.8 330.5,421.1 331.0,422.4 331.5,421.3 332.0,422.0 332.5,423.0 333.0,421.3 333.5,421.8 334.0,421.4 334.5,420.7 335.0,422.7 335.5,422.4 336.0,422.0 336.5,422.4 337.0,421.9 337.5,421.5 338.0,422.0 338.5,422.0 339.0,421.9 339.5,423.1 340.0,422.1 340.5,422.0 341.0,422.8 341.5,423.0 342.0,423.8 342.5,423.0 343.0,422.2 343.5,422.5 344.0,423.6 344.5,422.7 345.0,423.4 345.5,424.3 346.0,422.4 346.5,422.4 347.0,423.2 347.5,423.4 348.0,423.9 348.5,422.6 349.0,423.9 349.5,423.4 350.0,422.6 350.5,423.5 351.0,423.9 351.5,424.7 352.0,423.3 352.5,424.1 353.0,423.0 353.5,424.3 354.0,423.8 354.5,424.6 355.0,423.0 355.5,423.1 356.0,422.8 356.5,424.7 357.0,423.4 357.5,422.6 358.0,423.2 358.5,424.1 359.0,424.0 359.5,423.8 360.0,422.8 360.5,423.4 361.0,422.3 361.5,422.5 362.0,423.7 362.5,423.8 363.0,423.1 363.5,422.1 364.0,422.6 364.5,422.8 365.0,423.9 365.5,422.6 366.0,422.1 366.5,422.2 367.0,422.3 367.5,422.4 368.0,422.5 368.5,423.8 369.0,422.2 369.5,421.3 370.0,423.0 370.5,421.9 371.0,421.9 371.5,422.0 372.0,422.4 372.5,422.3 373.0,422.4 373.5,421.9 374.0,422.1 374.5,421.4 375.0,421.4 375.5,421.7 376.0,421.7 376.5,421.0 377.0,421.3 377.5,422.7 378.0,422.7 378.5,422.9 379.0,422.7 379.5,422.6 380.0,423.1 380.5,422.6 381.0,422.1 381.5,422.2 382.0,422.6 382.5,422.8 383.0,422.5 383.5,422.5 384.0,422.8 384.5,422.4 385.0,424.3 385.5,423.4 386.0,422.0 386.5,423.8 387.0,422.9 387.5,423.3 388.0,423.5 388.5,424.1 389.0,423.6 389.5,423.9 390.0,423.7 390.5,425.1 391.0,423.8 391.5,423.4 392.0,423.1 392.5,424.0 393.0,423.7 393.5,424.1 394.0,424.3 394.5,423.4 395.0,424.2 395.5,423.7 396.0,423.8 396.5,423.7 397.0,424.1 397.5,423.9 398.0,423.9 398.5,424.2 399.0,423.7 399.5,425.2 400.0,424.8 400.5,424.3 401.0,424.7 401.5,424.0 402.0,424.6 402.5,423.7 403.0,424.6 403.5,424.7 404.0,424.5 404.5,425.1 405.0,424.3 405.5,424.8 406.0,425.1 406.5,425.1 407.0,424.8 407.5,425.8 408.0,425.3 408.5,425.3 409.0,424.5 409.5,425.0 410.0,424.6 410.5,426.1 411.0,425.2 411.5,424.5 412.0,425.5 412.5,425.6 413.0,424.7 413.5,425.1 414.0,426.4 414.5,425.0 415.0,425.2 415.5,426.8 416.0,425.0 416.5,424.3 417.0,424.4 417.5,425.1 418.0,425.4 418.5,424.5 419.0,423.8 419.5,425.3 420.0,424.8 420.5,424.7 421.0,424.4 421.5,425.6 422.0,424.8 422.5,424.2 423.0,424.3 423.5,424.6 424.0,424.1 424.5,424.6 425.0,425.5 425.5,425.4 426.0,425.4 426.5,425.4 427.0,424.9 427.5,425.0 428.0,423.8 428.5,425.2 429.0,425.1 429.5,424.9 430.0,424.9 430.5,424.1 431.0,424.5 431.5,423.8 432.0,424.4 432.5,424.5 433.0,424.3 433.5,425.3 434.0,424.2 434.5,424.8 435.0,424.7 435.5,424.5 436.0,424.9 436.5,424.8 437.0,424.4 437.5,425.3 438.0,424.5 438.5,424.9 439.0,423.9 439.5,424.0 440.0,424.6 440.5,425.8 441.0,423.7 441.5,423.8 442.0,424.0 442.5,424.2 443.0,424.5 443.5,425.0 444.0,424.3 444.5,424.7 445.0,424.4 445.5,424.0 446.0,424.0 446.5,424.6 447.0,424.4 447.5,425.0 448.0,424.4 448.5,424.1 449.0,423.5 449.5,423.7 450.0,424.4 450.5,424.3 451.0,425.1 451.5,423.7 452.0,424.5 452.5,424.0 453.0,422.8 453.5,423.4 454.0,424.2 454.5,423.8 455.0,423.6 455.5,424.6 456.0,423.8 456.5,424.1 457.0,424.3 457.5,423.6 458.0,424.3 458.5,423.3 459.0,423.1 459.5,424.5 460.0,424.6 460.5,424.2 461.0,423.4 461.5,423.6 462.0,423.2 462.5,423.2 463.0,423.9 463.5,423.5 464.0,424.4 464.5,422.9 465.0,423.5 465.5,423.1 466.0,423.0 466.5,424.8 467.0,424.7 467.5,424.0 468.0,424.1 468.5,424.1 469.0,423.8 469.5,421.9 470.0,422.4 470.5,424.1 471.0,422.3 471.5,424.6 472.0,424.2 472.5,423.9 473.0,424.0 473.5,424.2 474.0,423.4 474.5,424.8 475.0,423.6 475.5,423.2 476.0,424.8 476.5,423.8 477.0,423.9 477.5,424.4 478.0,425.0 478.5,423.7 479.0,423.8 479.5,422.9 480.0,423.8 480.5,424.7 481.0,423.3 481.5,423.2 482.0,422.8 482.5,423.0 483.0,423.0 483.5,423.8 484.0,423.9 484.5,422.6 485.0,424.0 485.5,424.5 486.0,424.2 486.5,423.3 487.0,424.2 487.5,423.4 488.0,423.1 488.5,422.9 489.0,422.9 489.5,423.5 490.0,424.1 490.5,422.7 491.0,422.6 491.5,424.4 492.0,423.2 492.5,425.1 493.0,424.0 493.5,422.9 494.0,424.3 494.5,424.4 495.0,422.8 495.5,423.6 496.0,424.6 496.5,422.9 497.0,424.1 497.5,424.0 498.0,425.0 498.5,424.6 499.0,423.6 499.5,423.0 500.0,423.7 500.5,424.0 501.0,423.9 501.5,423.7 502.0,423.4 502.5,424.7 503.0,423.7 503.5,423.5 504.0,424.1 504.5,424.1 505.0,424.0 505.5,424.8 506.0,423.5 506.5,424.2 507.0,424.7 507.5,423.9 508.0,424.2 508.5,424.6 509.0,424.5 509.5,424.2 510.0,423.5 510.5,423.7 511.0,424.3 511.5,424.1 512.0,424.1 512.5,424.0 513.0,423.3 513.5,424.7 514.0,423.8 514.5,425.4 515.0,426.1 515.5,424.9 516.0,424.8" stroke-width="2.8"/>
<path d="M53.0,439.6 53.5,439.8 54.0,440.6 54.5,441.9 55.0,441.6 55.5,440.8 56.0,442.7 56.5,442.0 57.0,443.0 57.5,442.5 58.0,442.0 58.5,442.2 59.0,442.9 59.5,442.0 60.0,443.2 60.5,441.8 61.0,443.2 61.5,441.3 62.0,441.4 62.5,442.4 63.0,442.8 63.5,441.4 64.0,441.7 64.5,440.1 65.0,439.4 65.5,439.4 66.0,440.1 66.5,437.7 67.0,436.1 67.5,434.7 68.0,435.2 68.5,434.5 69.0,432.4 69.5,431.2 70.0,428.9 70.5,428.4 71.0,426.0 71.5,422.9 72.0,421.5 72.5,420.8 73.0,417.9 73.5,414.1 74.0,412.9 74.5,410.3 75.0,406.6 75.5,406.5 76.0,405.3 76.5,402.7 77.0,401.2 77.5,400.6 78.0,399.7 78.5,400.1 79.0,401.9 79.5,402.8 80.0,406.2 80.5,409.9 81.0,410.7 81.5,413.1 82.0,415.5 82.5,417.0 83.0,418.8 83.5,423.0 84.0,423.3 84.5,424.2 85.0,426.8 85.5,427.4 86.0,428.4 86.5,429.9 87.0,430.5 87.5,431.8 88.0,434.1 88.5,434.6 89.0,435.4 89.5,437.4 90.0,437.9 90.5,438.1 91.0,438.2 91.5,439.6 92.0,441.4 92.5,440.6 93.0,443.1 93.5,442.1 94.0,441.9 94.5,443.0 95.0,444.8 95.5,443.9 96.0,445.0 96.5,445.6 97.0,445.1 97.5,446.4 98.0,446.9 98.5,446.6 99.0,445.1 99.5,446.5 100.0,446.9 100.5,447.1 101.0,447.8 101.5,446.8 102.0,446.7 102.5,445.5 103.0,446.1 103.5,447.6 104.0,446.2 104.5,446.8 105.0,445.9 105.5,446.9 106.0,446.3 106.5,447.4 107.0,447.1 107.5,447.4 108.0,446.2 108.5,447.2 109.0,447.9 109.5,445.3 110.0,447.0 110.5,447.4 111.0,448.1 111.5,448.0 112.0,448.1 112.5,448.0 113.0,448.4 113.5,447.9 114.0,448.0 114.5,447.4 115.0,448.1 115.5,448.1 116.0,449.4 116.5,447.7 117.0,448.7 117.5,448.4 118.0,448.6 118.5,449.3 119.0,448.6 119.5,448.1 120.0,448.8 120.5,449.3 121.0,448.8 121.5,448.9 122.0,447.4 122.5,448.7 123.0,447.5 123.5,446.8 124.0,447.5 124.5,446.0 125.0,446.8 125.5,447.3 126.0,445.6 126.5,445.0 127.0,446.0 127.5,445.4 128.0,445.2 128.5,443.0 129.0,443.2 129.5,444.5 130.0,442.2 130.5,442.0 131.0,441.9 131.5,441.5 132.0,440.8 132.5,438.8 133.0,440.6 133.5,439.3 134.0,440.5 134.5,440.6 135.0,439.0 135.5,439.7 136.0,440.6 136.5,440.6 137.0,440.1 137.5,439.1 138.0,439.8 138.5,439.2 139.0,441.1 139.5,440.8 140.0,441.9 140.5,440.0 141.0,441.8 141.5,442.4 142.0,443.1 142.5,443.1 143.0,444.7 143.5,444.2 144.0,446.3 144.5,445.2 145.0,445.5 145.5,445.7 146.0,446.8 146.5,447.0 147.0,446.4 147.5,445.4 148.0,447.4 148.5,447.3 149.0,448.1 149.5,447.7 150.0,448.6 150.5,447.8 151.0,448.9 151.5,448.6 152.0,449.4 152.5,448.8 153.0,449.3 153.5,448.8 154.0,448.9 154.5,448.6 155.0,448.3 155.5,449.3 156.0,449.2 156.5,450.3 157.0,449.6 157.5,450.5 158.0,450.6 158.5,449.6 159.0,448.7 159.5,449.3 160.0,450.1 160.5,449.4 161.0,450.2 161.5,449.2 162.0,449.6 162.5,450.1 163.0,449.9 163.5,449.6 164.0,449.5 164.5,449.6 165.0,449.0 165.5,449.5 166.0,448.3 166.5,450.4 167.0,448.4 167.5,447.4 168.0,446.6 168.5,446.8 169.0,447.4 169.5,446.5 170.0,447.3 170.5,445.9 171.0,445.0 171.5,445.0 172.0,444.3 172.5,443.9 173.0,442.6 173.5,442.7 174.0,441.0 174.5,441.8 175.0,441.2 175.5,440.7 176.0,439.8 176.5,439.9 177.0,439.6 177.5,438.0 178.0,439.5 178.5,438.7 179.0,439.1 179.5,440.0 180.0,438.5 180.5,439.2 181.0,439.8 181.5,441.1 182.0,441.1 182.5,441.8 183.0,444.1 183.5,443.4 184.0,444.2 184.5,445.0 185.0,445.7 185.5,444.3 186.0,445.8 186.5,446.5 187.0,447.1 187.5,446.3 188.0,446.8 188.5,447.6 189.0,447.8 189.5,447.9 190.0,448.1 190.5,448.7 191.0,448.9 191.5,449.6 192.0,449.3 192.5,449.3 193.0,450.0 193.5,450.4 194.0,451.5 194.5,450.9 195.0,450.0 195.5,453.1 196.0,452.7 196.5,452.6 197.0,452.7 197.5,452.7 198.0,454.0 198.5,452.3 199.0,453.8 199.5,454.1 200.0,455.3 200.5,453.9 201.0,455.1 201.5,454.5 202.0,453.7 202.5,453.8 203.0,455.4 203.5,454.0 204.0,454.7 204.5,456.1 205.0,454.4 205.5,455.5 206.0,456.5 206.5,456.4 207.0,456.0 207.5,455.1 208.0,456.8 208.5,456.1 209.0,455.9 209.5,455.2 210.0,454.6 210.5,456.3 211.0,455.9 211.5,455.1 212.0,456.9 212.5,456.5 213.0,456.0 213.5,456.2 214.0,456.9 214.5,457.0 215.0,456.1 215.5,457.3 216.0,456.6 216.5,456.2 217.0,456.8 217.5,456.9 218.0,457.7 218.5,457.4 219.0,455.5 219.5,456.2 220.0,457.5 220.5,457.2 221.0,456.4 221.5,456.7 222.0,458.2 222.5,455.6 223.0,457.9 223.5,457.8 224.0,456.8 224.5,457.0 225.0,457.4 225.5,457.3 226.0,457.5 226.5,458.0 227.0,456.8 227.5,457.3 228.0,457.6 228.5,457.0 229.0,457.3 229.5,458.3 230.0,456.0 230.5,457.5 231.0,457.0 231.5,456.6 232.0,457.2 232.5,457.6 233.0,457.9 233.5,456.9 234.0,457.8 234.5,458.4 235.0,457.6 235.5,457.9 236.0,457.8 236.5,457.9 237.0,456.9 237.5,458.3 238.0,457.8 238.5,458.7 239.0,458.0 239.5,456.9 240.0,458.3 240.5,458.4 241.0,458.2 241.5,457.3 242.0,457.3 242.5,458.4 243.0,457.0 243.5,458.1 244.0,457.6 244.5,457.1 245.0,457.3 245.5,457.2 246.0,457.9 246.5,457.1 247.0,457.5 247.5,457.4 248.0,457.7 248.5,458.1 249.0,456.5 249.5,457.7 250.0,457.0 250.5,457.3 251.0,457.3 251.5,458.4 252.0,458.3 252.5,457.1 253.0,457.1 253.5,458.2 254.0,457.5 254.5,458.4 255.0,456.6 255.5,457.8 256.0,456.7 256.5,455.1 257.0,457.4 257.5,456.3 258.0,457.3 258.5,456.6 259.0,457.6 259.5,455.8 260.0,455.6 260.5,457.6 261.0,457.2 261.5,456.6 262.0,455.4 262.5,456.9 263.0,457.9 263.5,456.0 264.0,456.0 264.5,455.6 265.0,456.4 265.5,456.0 266.0,455.0 266.5,455.4 267.0,456.5 267.5,455.1 268.0,455.9 268.5,456.4 269.0,456.1 269.5,454.4 270.0,455.9 270.5,454.7 271.0,454.1 271.5,455.5 272.0,454.2 272.5,455.0 273.0,455.8 273.5,455.3 274.0,454.7 274.5,455.3 275.0,454.7 275.5,455.0 276.0,455.1 276.5,453.6 277.0,455.2 277.5,454.0 278.0,454.0 278.5,453.9 279.0,453.5 279.5,453.3 280.0,453.8 280.5,453.0 281.0,453.6 281.5,453.6 282.0,452.7 282.5,452.8 283.0,453.2 283.5,452.8 284.0,453.1 284.5,452.6 285.0,452.4 285.5,452.4 286.0,452.7 286.5,453.3 287.0,451.4 287.5,452.2 288.0,452.4 288.5,452.4 289.0,453.0 289.5,454.4 290.0,454.4 290.5,453.3 291.0,452.7 291.5,453.8 292.0,453.8 292.5,452.5 293.0,453.3 293.5,453.2 294.0,453.1 294.5,452.2 295.0,452.6 295.5,451.9 296.0,452.3 296.5,451.7 297.0,451.6 297.5,451.0 298.0,450.6 298.5,450.7 299.0,450.9 299.5,449.9 300.0,450.2 300.5,451.4 301.0,449.2 301.5,448.7 302.0,448.9 302.5,449.3 303.0,449.5 303.5,448.1 304.0,448.2 304.5,450.0 305.0,448.6 305.5,450.0 306.0,450.3 306.5,447.6 307.0,449.9 307.5,449.6 308.0,449.4 308.5,449.9 309.0,449.6 309.5,450.0 310.0,450.9 310.5,449.9 311.0,449.0 311.5,450.7 312.0,450.5 312.5,450.8 313.0,450.1 313.5,450.5 314.0,451.2 314.5,449.9 315.0,449.6 315.5,451.0 316.0,449.9 316.5,450.9 317.0,449.8 317.5,449.9 318.0,450.5 318.5,450.5 319.0,449.9 319.5,451.5 320.0,450.3 320.5,451.1 321.0,450.1 321.5,450.4 322.0,450.5 322.5,451.1 323.0,451.2 323.5,451.3 324.0,451.2 324.5,451.9 325.0,452.0 325.5,451.2 326.0,451.7 326.5,452.0 327.0,452.2 327.5,452.2 328.0,451.8 328.5,451.9 329.0,452.2 329.5,452.6 330.0,451.6 330.5,451.8 331.0,452.2 331.5,452.6 332.0,452.2 332.5,452.4 333.0,452.3 333.5,453.2 334.0,451.6 334.5,453.0 335.0,452.6 335.5,453.1 336.0,453.2 336.5,451.2 337.0,453.9 337.5,453.7 338.0,454.3 338.5,453.9 339.0,454.0 339.5,453.8 340.0,454.5 340.5,452.7 341.0,453.6 341.5,453.1 342.0,454.3 342.5,453.9 343.0,454.9 343.5,454.0 344.0,453.8 344.5,453.9 345.0,453.5 345.5,452.8 346.0,454.1 346.5,453.9 347.0,453.9 347.5,453.5 348.0,454.3 348.5,453.6 349.0,454.5 349.5,454.2 350.0,454.2 350.5,453.4 351.0,454.6 351.5,455.0 352.0,454.4 352.5,454.1 353.0,454.9 353.5,455.0 354.0,454.2 354.5,456.3 355.0,455.3 355.5,455.5 356.0,454.8 356.5,454.7 357.0,453.8 357.5,454.3 358.0,454.5 358.5,454.9 359.0,454.1 359.5,453.8 360.0,455.1 360.5,454.4 361.0,454.9 361.5,454.3 362.0,453.8 362.5,454.1 363.0,452.5 363.5,454.7 364.0,454.3 364.5,454.7 365.0,453.7 365.5,455.1 366.0,454.6 366.5,452.6 367.0,452.5 367.5,453.8 368.0,452.7 368.5,453.4 369.0,453.4 369.5,453.2 370.0,454.4 370.5,453.7 371.0,453.7 371.5,453.4 372.0,455.1 372.5,454.0 373.0,452.7 373.5,453.5 374.0,452.6 374.5,453.0 375.0,453.0 375.5,452.1 376.0,451.8 376.5,452.2 377.0,453.4 377.5,451.2 378.0,453.4 378.5,451.7 379.0,452.6 379.5,452.8 380.0,453.7 380.5,453.3 381.0,452.7 381.5,453.1 382.0,453.8 382.5,454.4 383.0,454.0 383.5,453.9 384.0,453.9 384.5,455.2 385.0,453.8 385.5,454.1 386.0,454.7 386.5,455.4 387.0,453.6 387.5,455.4 388.0,455.6 388.5,455.1 389.0,453.7 389.5,454.5 390.0,454.9 390.5,455.2 391.0,454.2 391.5,454.8 392.0,455.5 392.5,454.6 393.0,454.8 393.5,454.7 394.0,454.1 394.5,454.8 395.0,454.9 395.5,455.5 396.0,454.5 396.5,454.1 397.0,454.7 397.5,454.4 398.0,455.4 398.5,454.6 399.0,454.0 399.5,455.4 400.0,454.9 400.5,455.1 401.0,455.3 401.5,455.7 402.0,454.4 402.5,455.4 403.0,455.0 403.5,455.0 404.0,454.9 404.5,454.7 405.0,455.1 405.5,455.0 406.0,455.4 406.5,456.0 407.0,454.4 407.5,456.3 408.0,455.7 408.5,454.3 409.0,454.9 409.5,455.0 410.0,455.8 410.5,454.4 411.0,456.1 411.5,454.3 412.0,454.8 412.5,454.6 413.0,454.2 413.5,454.3 414.0,454.6 414.5,454.8 415.0,454.6 415.5,454.4 416.0,453.3 416.5,454.8 417.0,456.2 417.5,456.0 418.0,455.7 418.5,454.7 419.0,455.3 419.5,454.6 420.0,454.6 420.5,455.0 421.0,455.5 421.5,454.5 422.0,454.4 422.5,454.8 423.0,453.8 423.5,455.3 424.0,455.4 424.5,455.4 425.0,455.1 425.5,454.2 426.0,454.4 426.5,453.9 427.0,454.7 427.5,455.9 428.0,453.8 428.5,454.8 429.0,455.3 429.5,453.7 430.0,455.7 430.5,453.9 431.0,454.2 431.5,454.5 432.0,454.8 432.5,454.7 433.0,454.0 433.5,453.7 434.0,452.6 434.5,453.7 435.0,454.8 435.5,453.5 436.0,454.3 436.5,454.4 437.0,454.0 437.5,453.5 438.0,453.5 438.5,453.8 439.0,452.7 439.5,454.7 440.0,453.1 440.5,453.3 441.0,453.3 441.5,453.5 442.0,453.9 442.5,454.4 443.0,453.8 443.5,454.6 444.0,453.4 444.5,454.0 445.0,454.1 445.5,453.6 446.0,453.9 446.5,452.8 447.0,454.3 447.5,454.0 448.0,453.5 448.5,453.2 449.0,453.9 449.5,452.7 450.0,453.8 450.5,453.9 451.0,454.9 451.5,453.2 452.0,454.2 452.5,453.7 453.0,452.2 453.5,452.4 454.0,452.9 454.5,454.0 455.0,454.1 455.5,453.0 456.0,453.4 456.5,453.3 457.0,451.5 457.5,453.8 458.0,454.0 458.5,451.6 459.0,452.5 459.5,453.0 460.0,453.0 460.5,453.7 461.0,453.8 461.5,452.7 462.0,453.5 462.5,452.6 463.0,452.8 463.5,453.2 464.0,453.4 464.5,452.6 465.0,454.2 465.5,453.1 466.0,453.0 466.5,453.5 467.0,452.6 467.5,453.2 468.0,451.4 468.5,451.9 469.0,452.8 469.5,452.7 470.0,452.8 470.5,452.6 471.0,453.4 471.5,453.8 472.0,452.7 472.5,453.7 473.0,453.3 473.5,452.2 474.0,452.1 474.5,453.0 475.0,453.7 475.5,452.4 476.0,451.7 476.5,453.6 477.0,453.8 477.5,452.9 478.0,453.7 478.5,454.3 479.0,452.5 479.5,452.8 480.0,452.8 480.5,453.7 481.0,452.5 481.5,452.8 482.0,453.8 482.5,453.7 483.0,453.7 483.5,452.4 484.0,453.3 484.5,452.6 485.0,453.6 485.5,453.3 486.0,453.5 486.5,452.9 487.0,453.1 487.5,453.3 488.0,452.9 488.5,453.2 489.0,452.4 489.5,452.3 490.0,451.9 490.5,452.9 491.0,453.6 491.5,453.4 492.0,451.8 492.5,453.4 493.0,453.3 493.5,453.2 494.0,453.5 494.5,453.8 495.0,454.4 495.5,454.4 496.0,455.0 496.5,454.2 497.0,453.6 497.5,454.9 498.0,453.4 498.5,454.8 499.0,453.7 499.5,454.1 500.0,455.3 500.5,454.2 501.0,455.4 501.5,455.2 502.0,454.7 502.5,455.4 503.0,455.3 503.5,455.1 504.0,454.6 504.5,455.6 505.0,454.8 505.5,455.0 506.0,455.3 506.5,455.0 507.0,455.2 507.5,455.2 508.0,455.2 508.5,455.1 509.0,455.9 509.5,454.7 510.0,454.7 510.5,454.2 511.0,453.4 511.5,455.3 512.0,455.2 512.5,455.8 513.0,453.9 513.5,454.3 514.0,454.4 514.5,456.0 515.0,455.3 515.5,454.5 516.0,454.5" stroke-width="2.8"/>
<path d="M53.0,489.6 53.5,489.5 54.0,489.9 54.5,489.8 55.0,490.1 55.5,490.3 56.0,490.3 56.5,490.2 57.0,490.3 57.5,490.6 58.0,490.4 58.5,490.2 59.0,490.4 59.5,490.4 60.0,490.5 60.5,490.5 61.0,490.4 61.5,490.3 62.0,490.5 62.5,490.3 63.0,490.2 63.5,489.9 64.0,489.6 64.5,489.6 65.0,489.0 65.5,488.8 66.0,489.0 66.5,488.5 67.0,488.2 67.5,487.8 68.0,487.8 68.5,487.0 69.0,487.0 69.5,486.1 70.0,485.1 70.5,484.5 71.0,483.5 71.5,482.9 72.0,481.8 72.5,480.5 73.0,479.3 73.5,478.2 74.0,476.6 74.5,475.2 75.0,472.5 75.5,470.1 76.0,466.7 76.5,464.0 77.0,460.6 77.5,457.5 78.0,453.8 78.5,449.0 79.0,443.8 79.5,439.8 80.0,437.5 80.5,435.5 81.0,434.1 81.5,433.9 82.0,435.2 82.5,438.9 83.0,443.2 83.5,446.9 84.0,451.9 84.5,456.8 85.0,461.8 85.5,465.0 86.0,467.6 86.5,469.6 87.0,471.2 87.5,472.7 88.0,474.0 88.5,474.8 89.0,475.3 89.5,475.5 90.0,475.2 90.5,475.4 91.0,475.7 91.5,475.5 92.0,475.8 92.5,475.6 93.0,476.0 93.5,476.1 94.0,476.3 94.5,476.4 95.0,476.9 95.5,477.3 96.0,477.6 96.5,477.7 97.0,478.1 97.5,478.4 98.0,478.7 98.5,479.1 99.0,479.4 99.5,479.7 100.0,480.0 100.5,480.4 101.0,480.3 101.5,480.6 102.0,481.0 102.5,481.1 103.0,481.1 103.5,481.2 104.0,481.7 104.5,481.5 105.0,481.9 105.5,481.7 106.0,482.3 106.5,481.8 107.0,482.3 107.5,482.1 108.0,482.1 108.5,482.0 109.0,481.8 109.5,481.5 110.0,482.0 110.5,481.3 111.0,481.4 111.5,481.0 112.0,481.3 112.5,481.4 113.0,481.1 113.5,481.4 114.0,481.5 114.5,481.6 115.0,482.0 115.5,482.3 116.0,482.2 116.5,482.3 117.0,483.0 117.5,483.1 118.0,483.6 118.5,484.0 119.0,484.8 119.5,485.4 120.0,485.3 120.5,486.2 121.0,486.1 121.5,486.3 122.0,486.8 122.5,487.2 123.0,487.0 123.5,487.3 124.0,487.9 124.5,487.9 125.0,487.3 125.5,487.9 126.0,487.8 126.5,487.9 127.0,487.9 127.5,487.5 128.0,487.2 128.5,487.3 129.0,486.1 129.5,486.0 130.0,485.5 130.5,484.4 131.0,483.9 131.5,483.2 132.0,482.6 132.5,481.0 133.0,479.9 133.5,478.1 134.0,476.5 134.5,475.3 135.0,473.9 135.5,472.0 136.0,470.3 136.5,468.8 137.0,466.9 137.5,465.2 138.0,463.8 138.5,463.0 139.0,461.6 139.5,461.8 140.0,461.1 140.5,460.5 141.0,460.0 141.5,459.9 142.0,460.7 142.5,461.4 143.0,463.3 143.5,464.2 144.0,466.2 144.5,467.6 145.0,469.2 145.5,471.6 146.0,473.9 146.5,476.5 147.0,478.7 147.5,480.0 148.0,480.9 148.5,481.9 149.0,482.9 149.5,483.6 150.0,484.2 150.5,484.6 151.0,485.1 151.5,485.7 152.0,485.9 152.5,486.1 153.0,486.7 153.5,486.7 154.0,486.9 154.5,486.9 155.0,487.2 155.5,487.5 156.0,487.5 156.5,487.3 157.0,487.6 157.5,487.9 158.0,487.9 158.5,488.1 159.0,487.9 159.5,488.0 160.0,488.2 160.5,487.9 161.0,488.0 161.5,487.3 162.0,487.3 162.5,487.4 163.0,487.1 163.5,486.8 164.0,486.5 164.5,486.2 165.0,485.5 165.5,485.8 166.0,485.5 166.5,484.9 167.0,484.8 167.5,485.1 168.0,484.9 168.5,485.1 169.0,484.9 169.5,484.7 170.0,484.8 170.5,484.7 171.0,484.1 171.5,483.4 172.0,481.9 172.5,480.9 173.0,479.4 173.5,478.1 174.0,476.4 174.5,475.1 175.0,473.2 175.5,471.8 176.0,470.1 176.5,468.6 177.0,467.9 177.5,466.8 178.0,466.2 178.5,465.4 179.0,465.2 179.5,464.8 180.0,465.5 180.5,467.1 181.0,468.7 181.5,470.6 182.0,472.5 182.5,474.4 183.0,476.6 183.5,478.1 184.0,480.2 184.5,481.7 185.0,482.4 185.5,482.9 186.0,483.3 186.5,483.8 187.0,483.5 187.5,483.8 188.0,484.3 188.5,484.2 189.0,484.7 189.5,484.6 190.0,484.9 190.5,484.7 191.0,484.8 191.5,485.5 192.0,484.9 192.5,485.2 193.0,484.8 193.5,484.9 194.0,484.5 194.5,484.7 195.0,484.4 195.5,483.8 196.0,483.8 196.5,484.3 197.0,484.4 197.5,484.1 198.0,484.0 198.5,484.1 199.0,484.6 199.5,484.0 200.0,484.6 200.5,484.7 201.0,484.4 201.5,484.5 202.0,484.8 202.5,484.8 203.0,485.4 203.5,485.5 204.0,485.9 204.5,486.6 205.0,487.4 205.5,487.7 206.0,488.2 206.5,489.1 207.0,489.8 207.5,490.3 208.0,490.6 208.5,490.8 209.0,491.5 209.5,491.9 210.0,492.4 210.5,492.7 211.0,493.3 211.5,493.6 212.0,493.5 212.5,494.2 213.0,494.1 213.5,494.5 214.0,494.5 214.5,494.7 215.0,494.6 215.5,494.7 216.0,494.7 216.5,494.8 217.0,494.6 217.5,495.1 218.0,494.9 218.5,495.1 219.0,495.1 219.5,495.2 220.0,495.3 220.5,495.0 221.0,495.3 221.5,495.3 222.0,495.2 222.5,495.2 223.0,495.5 223.5,495.7 224.0,495.5 224.5,495.6 225.0,495.5 225.5,495.9 226.0,495.5 226.5,495.7 227.0,496.2 227.5,495.6 228.0,495.5 228.5,495.2 229.0,495.2 229.5,495.9 230.0,495.4 230.5,495.2 231.0,495.3 231.5,495.1 232.0,495.3 232.5,495.1 233.0,495.3 233.5,495.5 234.0,495.2 234.5,495.1 235.0,495.0 235.5,495.2 236.0,494.6 236.5,494.7 237.0,494.7 237.5,494.5 238.0,494.8 238.5,494.5 239.0,494.3 239.5,494.6 240.0,494.4 240.5,494.4 241.0,494.3 241.5,494.1 242.0,493.9 242.5,494.2 243.0,493.8 243.5,494.1 244.0,493.9 244.5,493.8 245.0,493.6 245.5,494.0 246.0,493.6 246.5,493.7 247.0,493.4 247.5,493.7 248.0,493.5 248.5,493.5 249.0,493.4 249.5,493.2 250.0,493.0 250.5,493.1 251.0,492.9 251.5,492.9 252.0,493.2 252.5,493.0 253.0,492.8 253.5,492.8 254.0,492.8 254.5,492.6 255.0,492.4 255.5,492.4 256.0,492.4 256.5,492.6 257.0,491.9 257.5,492.0 258.0,491.8 258.5,492.3 259.0,491.6 259.5,491.9 260.0,491.7 260.5,491.5 261.0,491.5 261.5,491.3 262.0,491.0 262.5,491.4 263.0,490.6 263.5,490.4 264.0,490.5 264.5,490.6 265.0,490.2 265.5,490.2 266.0,490.3 266.5,490.1 267.0,489.9 267.5,489.8 268.0,489.5 268.5,489.5 269.0,489.2 269.5,489.3 270.0,489.0 270.5,488.6 271.0,488.6 271.5,488.2 272.0,487.9 272.5,487.5 273.0,486.8 273.5,486.6 274.0,486.5 274.5,486.3 275.0,485.4 275.5,485.2 276.0,484.7 276.5,484.6 277.0,484.8 277.5,484.4 278.0,484.5 278.5,484.6 279.0,483.9 279.5,484.1 280.0,484.1 280.5,484.0 281.0,484.1 281.5,484.1 282.0,483.9 282.5,483.6 283.0,484.1 283.5,484.3 284.0,483.9 284.5,484.3 285.0,484.6 285.5,484.8 286.0,485.2 286.5,485.5 287.0,486.0 287.5,486.1 288.0,486.5 288.5,487.3 289.0,487.5 289.5,487.7 290.0,487.8 290.5,488.0 291.0,488.1 291.5,488.0 292.0,487.8 292.5,487.8 293.0,487.9 293.5,488.0 294.0,488.0 294.5,488.2 295.0,487.8 295.5,487.7 296.0,487.5 296.5,487.7 297.0,487.8 297.5,487.8 298.0,487.8 298.5,487.8 299.0,487.7 299.5,487.4 300.0,487.7 300.5,487.7 301.0,487.5 301.5,488.2 302.0,487.1 302.5,487.2 303.0,487.4 303.5,487.3 304.0,487.2 304.5,487.3 305.0,487.4 305.5,487.2 306.0,487.0 306.5,487.2 307.0,486.5 307.5,486.6 308.0,486.5 308.5,486.3 309.0,486.2 309.5,486.0 310.0,485.8 310.5,485.6 311.0,485.4 311.5,485.4 312.0,485.4 312.5,485.3 313.0,485.2 313.5,484.4 314.0,484.6 314.5,484.4 315.0,484.5 315.5,484.4 316.0,484.2 316.5,484.3 317.0,483.8 317.5,483.8 318.0,483.7 318.5,483.5 319.0,483.2 319.5,483.4 320.0,483.1 320.5,482.9 321.0,482.6 321.5,482.4 322.0,482.1 322.5,481.7 323.0,481.7 323.5,481.5 324.0,481.7 324.5,481.3 325.0,481.4 325.5,481.2 326.0,481.3 326.5,481.3 327.0,481.5 327.5,481.4 328.0,481.6 328.5,481.3 329.0,481.0 329.5,481.7 330.0,482.0 330.5,481.6 331.0,482.1 331.5,482.0 332.0,482.2 332.5,482.3 333.0,482.4 333.5,482.6 334.0,482.6 334.5,483.1 335.0,483.3 335.5,483.6 336.0,483.6 336.5,484.0 337.0,484.6 337.5,484.6 338.0,484.6 338.5,485.0 339.0,485.2 339.5,485.7 340.0,485.7 340.5,486.3 341.0,486.4 341.5,486.0 342.0,486.9 342.5,486.9 343.0,487.1 343.5,487.4 344.0,487.6 344.5,488.2 345.0,487.9 345.5,487.9 346.0,488.2 346.5,488.5 347.0,488.3 347.5,488.6 348.0,488.5 348.5,488.7 349.0,489.0 349.5,489.4 350.0,489.2 350.5,489.3 351.0,489.5 351.5,489.5 352.0,489.6 352.5,489.6 353.0,490.2 353.5,489.8 354.0,490.2 354.5,490.0 355.0,490.4 355.5,489.8 356.0,490.0 356.5,489.5 357.0,490.2 357.5,490.0 358.0,489.8 358.5,490.2 359.0,490.4 359.5,490.0 360.0,490.0 360.5,489.6 361.0,489.4 361.5,489.2 362.0,489.6 362.5,489.0 363.0,489.3 363.5,489.6 364.0,489.3 364.5,488.9 365.0,488.9 365.5,489.3 366.0,488.8 366.5,488.8 367.0,488.6 367.5,488.8 368.0,488.7 368.5,489.0 369.0,488.6 369.5,488.7 370.0,488.3 370.5,489.0 371.0,489.0 371.5,488.7 372.0,488.8 372.5,488.8 373.0,489.0 373.5,488.4 374.0,488.6 374.5,489.2 375.0,489.0 375.5,488.9 376.0,488.8 376.5,488.9 377.0,488.9 377.5,488.9 378.0,488.5 378.5,488.8 379.0,488.8 379.5,488.8 380.0,488.5 380.5,488.7 381.0,488.6 381.5,488.7 382.0,488.8 382.5,488.9 383.0,488.9 383.5,489.0 384.0,488.8 384.5,488.5 385.0,488.8 385.5,488.7 386.0,488.4 386.5,488.6 387.0,488.8 387.5,489.0 388.0,488.7 388.5,488.5 389.0,488.7 389.5,488.6 390.0,489.0 390.5,488.5 391.0,488.9 391.5,488.7 392.0,488.8 392.5,488.6 393.0,488.9 393.5,488.8 394.0,488.8 394.5,488.6 395.0,488.7 395.5,488.5 396.0,489.0 396.5,488.8 397.0,489.2 397.5,488.6 398.0,489.3 398.5,489.0 399.0,488.9 399.5,489.1 400.0,488.8 400.5,488.8 401.0,489.3 401.5,488.7 402.0,489.1 402.5,489.4 403.0,489.2 403.5,489.4 404.0,489.2 404.5,489.1 405.0,489.5 405.5,489.4 406.0,489.3 406.5,489.6 407.0,489.1 407.5,489.6 408.0,489.3 408.5,489.4 409.0,489.4 409.5,489.4 410.0,489.5 410.5,489.7 411.0,489.7 411.5,489.5 412.0,489.5 412.5,489.3 413.0,489.8 413.5,489.7 414.0,489.4 414.5,489.5 415.0,489.8 415.5,489.4 416.0,489.6 416.5,489.5 417.0,489.4 417.5,489.5 418.0,489.1 418.5,489.7 419.0,489.4 419.5,489.5 420.0,489.2 420.5,489.9 421.0,489.5 421.5,489.0 422.0,489.3 422.5,489.3 423.0,489.2 423.5,489.1 424.0,489.1 424.5,489.2 425.0,489.3 425.5,489.3 426.0,489.5 426.5,489.2 427.0,488.8 427.5,489.2 428.0,489.4 428.5,488.9 429.0,489.2 429.5,489.2 430.0,488.9 430.5,489.1 431.0,488.9 431.5,489.4 432.0,489.2 432.5,489.0 433.0,489.1 433.5,489.1 434.0,488.8 434.5,488.7 435.0,488.6 435.5,488.7 436.0,489.1 436.5,489.1 437.0,489.2 437.5,488.6 438.0,488.8 438.5,489.0 439.0,489.1 439.5,488.7 440.0,488.7 440.5,488.7 441.0,488.8 441.5,488.9 442.0,488.9 442.5,488.6 443.0,488.9 443.5,488.4 444.0,488.7 444.5,488.9 445.0,488.8 445.5,488.6 446.0,488.5 446.5,488.5 447.0,488.4 447.5,488.3 448.0,488.3 448.5,488.7 449.0,488.2 449.5,488.3 450.0,488.7 450.5,488.4 451.0,488.7 451.5,488.6 452.0,488.4 452.5,488.5 453.0,488.0 453.5,488.3 454.0,488.6 454.5,488.3 455.0,488.3 455.5,488.7 456.0,488.3 456.5,487.9 457.0,488.4 457.5,487.6 458.0,488.2 458.5,488.2 459.0,488.0 459.5,487.9 460.0,488.0 460.5,488.6 461.0,487.8 461.5,487.9 462.0,488.0 462.5,487.9 463.0,488.4 463.5,488.1 464.0,488.0 464.5,488.2 465.0,488.1 465.5,488.0 466.0,488.0 466.5,488.0 467.0,488.0 467.5,487.9 468.0,488.0 468.5,488.3 469.0,487.8 469.5,488.1 470.0,488.2 470.5,488.0 471.0,488.0 471.5,488.2 472.0,487.9 472.5,488.1 473.0,488.1 473.5,488.1 474.0,488.1 474.5,488.2 475.0,488.3 475.5,487.8 476.0,488.2 476.5,487.9 477.0,487.8 477.5,488.1 478.0,488.1 478.5,487.7 479.0,488.3 479.5,487.9 480.0,488.2 480.5,488.1 481.0,488.1 481.5,488.0 482.0,488.1 482.5,488.0 483.0,487.9 483.5,488.2 484.0,488.0 484.5,488.1 485.0,487.9 485.5,487.9 486.0,488.1 486.5,487.7 487.0,488.3 487.5,487.9 488.0,488.0 488.5,487.9 489.0,488.0 489.5,488.1 490.0,488.2 490.5,487.9 491.0,487.8 491.5,488.0 492.0,488.0 492.5,487.9 493.0,488.3 493.5,487.8 494.0,487.9 494.5,488.2 495.0,488.0 495.5,488.0 496.0,487.9 496.5,487.8 497.0,487.9 497.5,487.8 498.0,488.2 498.5,488.2 499.0,488.5 499.5,488.1 500.0,488.0 500.5,488.4 501.0,488.1 501.5,488.4 502.0,488.1 502.5,487.9 503.0,488.2 503.5,488.2 504.0,488.4 504.5,488.2 505.0,488.4 505.5,488.4 506.0,488.2 506.5,488.1 507.0,488.2 507.5,488.1 508.0,488.4 508.5,488.6 509.0,488.4 509.5,488.3 510.0,488.3 510.5,488.6 511.0,488.7 511.5,488.1 512.0,489.0 512.5,488.9 513.0,488.5 513.5,488.6 514.0,488.7 514.5,488.8 515.0,488.6 515.5,488.8 516.0,488.9" stroke-width="2.4"/>
<path d="M53.0,522.4 53.5,522.4 54.0,522.7 54.5,523.4 55.0,523.6 55.5,524.0 56.0,524.4 56.5,524.7 57.0,525.0 57.5,525.3 58.0,525.5 58.5,525.7 59.0,526.3 59.5,526.1 60.0,526.1 60.5,526.2 61.0,526.6 61.5,526.4 62.0,526.6 62.5,526.4 63.0,526.4 63.5,526.8 64.0,526.6 64.5,526.9 65.0,527.0 65.5,526.8 66.0,526.9 66.5,526.9 67.0,526.9 67.5,526.9 68.0,526.9 68.5,526.9 69.0,526.8 69.5,526.7 70.0,526.5 70.5,526.2 71.0,525.7 71.5,525.6 72.0,525.3 72.5,524.8 73.0,524.3 73.5,524.3 74.0,523.2 74.5,522.9 75.0,522.0 75.5,521.1 76.0,519.9 76.5,518.3 77.0,516.6 77.5,515.0 78.0,512.9 78.5,511.1 79.0,508.7 79.5,505.9 80.0,501.9 80.5,497.9 81.0,493.6 81.5,489.2 82.0,485.0 82.5,480.1 83.0,474.7 83.5,470.0 84.0,466.6 84.5,466.3 85.0,467.7 85.5,469.9 86.0,473.7 86.5,479.0 87.0,485.1 87.5,490.2 88.0,494.1 88.5,498.6 89.0,502.4 89.5,505.7 90.0,507.6 90.5,508.8 91.0,509.6 91.5,510.6 92.0,511.4 92.5,512.0 93.0,512.4 93.5,512.9 94.0,513.2 94.5,513.4 95.0,513.4 95.5,513.6 96.0,513.7 96.5,513.9 97.0,514.2 97.5,514.2 98.0,514.3 98.5,514.6 99.0,514.4 99.5,514.5 100.0,514.3 100.5,514.6 101.0,514.5 101.5,514.6 102.0,514.5 102.5,514.4 103.0,514.4 103.5,514.0 104.0,514.1 104.5,513.8 105.0,514.1 105.5,514.0 106.0,514.0 106.5,513.9 107.0,513.7 107.5,513.1 108.0,512.5 108.5,512.2 109.0,512.1 109.5,511.4 110.0,511.0 110.5,510.5 111.0,510.2 111.5,509.9 112.0,509.5 112.5,509.6 113.0,509.2 113.5,509.4 114.0,509.0 114.5,509.0 115.0,508.8 115.5,508.5 116.0,508.7 116.5,509.3 117.0,509.4 117.5,509.9 118.0,510.9 118.5,511.0 119.0,511.9 119.5,512.6 120.0,513.4 120.5,514.1 121.0,514.8 121.5,515.4 122.0,516.4 122.5,517.0 123.0,518.0 123.5,518.3 124.0,519.1 124.5,519.4 125.0,519.6 125.5,520.1 126.0,520.4 126.5,520.6 127.0,520.9 127.5,521.1 128.0,521.2 128.5,521.2 129.0,521.3 129.5,521.1 130.0,521.3 130.5,521.1 131.0,520.6 131.5,520.7 132.0,520.5 132.5,520.3 133.0,520.1 133.5,519.9 134.0,519.6 134.5,518.8 135.0,518.9 135.5,518.0 136.0,517.8 136.5,516.8 137.0,515.7 137.5,514.6 138.0,513.3 138.5,512.2 139.0,510.5 139.5,509.0 140.0,507.6 140.5,506.0 141.0,503.6 141.5,501.5 142.0,498.8 142.5,496.5 143.0,493.6 143.5,491.3 144.0,488.7 144.5,485.5 145.0,482.4 145.5,479.7 146.0,477.7 146.5,477.7 147.0,478.5 147.5,480.1 148.0,482.0 148.5,484.0 149.0,486.2 149.5,489.5 150.0,493.6 150.5,497.7 151.0,501.4 151.5,503.8 152.0,505.5 152.5,507.7 153.0,509.8 153.5,511.4 154.0,512.5 154.5,513.9 155.0,515.2 155.5,515.8 156.0,516.7 156.5,517.7 157.0,518.3 157.5,519.3 158.0,519.8 158.5,520.4 159.0,520.7 159.5,521.2 160.0,521.2 160.5,521.2 161.0,521.4 161.5,521.4 162.0,521.6 162.5,522.1 163.0,521.7 163.5,521.7 164.0,521.9 164.5,522.0 165.0,522.0 165.5,522.0 166.0,521.8 166.5,521.9 167.0,521.6 167.5,522.0 168.0,521.9 168.5,521.8 169.0,521.3 169.5,521.1 170.0,521.3 170.5,520.9 171.0,520.5 171.5,520.2 172.0,519.6 172.5,519.0 173.0,518.6 173.5,517.9 174.0,517.2 174.5,516.1 175.0,514.8 175.5,513.3 176.0,511.5 176.5,509.6 177.0,507.5 177.5,504.5 178.0,501.3 178.5,497.6 179.0,493.7 179.5,490.0 180.0,486.5 180.5,482.8 181.0,480.6 181.5,480.6 182.0,482.7 182.5,486.3 183.0,489.9 183.5,493.4 184.0,497.8 184.5,501.3 185.0,504.9 185.5,507.3 186.0,509.1 186.5,510.9 187.0,512.1 187.5,513.6 188.0,514.9 188.5,515.6 189.0,516.6 189.5,517.0 190.0,517.6 190.5,517.8 191.0,518.3 191.5,518.6 192.0,518.9 192.5,519.2 193.0,519.5 193.5,519.4 194.0,519.8 194.5,519.9 195.0,520.1 195.5,520.3 196.0,520.4 196.5,520.4 197.0,520.5 197.5,520.7 198.0,520.5 198.5,520.1 199.0,520.4 199.5,520.1 200.0,520.1 200.5,520.0 201.0,520.0 201.5,519.5 202.0,519.5 202.5,519.2 203.0,519.0 203.5,518.7 204.0,518.9 204.5,519.0 205.0,518.7 205.5,518.9 206.0,518.8 206.5,519.0 207.0,518.9 207.5,519.1 208.0,519.0 208.5,519.3 209.0,519.6 209.5,519.7 210.0,519.8 210.5,520.3 211.0,521.5 211.5,522.3 212.0,523.5 212.5,524.5 213.0,524.7 213.5,525.4 214.0,525.9 214.5,526.5 215.0,526.9 215.5,527.5 216.0,527.6 216.5,528.0 217.0,527.9 217.5,528.4 218.0,528.5 218.5,528.7 219.0,528.9 219.5,528.7 220.0,528.5 220.5,529.2 221.0,529.0 221.5,529.0 222.0,529.3 222.5,529.2 223.0,529.2 223.5,529.2 224.0,529.3 224.5,529.1 225.0,529.3 225.5,529.6 226.0,529.4 226.5,529.4 227.0,529.7 227.5,529.4 228.0,529.7 228.5,529.5 229.0,529.4 229.5,529.5 230.0,529.5 230.5,529.3 231.0,529.8 231.5,529.6 232.0,529.8 232.5,529.4 233.0,529.5 233.5,529.3 234.0,529.5 234.5,529.6 235.0,529.8 235.5,529.4 236.0,529.4 236.5,529.6 237.0,529.5 237.5,529.3 238.0,529.3 238.5,529.3 239.0,529.5 239.5,529.3 240.0,529.3 240.5,529.5 241.0,529.2 241.5,529.4 242.0,529.0 242.5,529.1 243.0,529.3 243.5,529.2 244.0,528.9 244.5,528.8 245.0,528.7 245.5,529.0 246.0,528.9 246.5,528.9 247.0,528.8 247.5,529.2 248.0,528.9 248.5,528.3 249.0,528.4 249.5,527.9 250.0,527.9 250.5,527.6 251.0,527.3 251.5,527.0 252.0,526.4 252.5,526.6 253.0,526.0 253.5,525.9 254.0,525.8 254.5,525.8 255.0,525.6 255.5,525.7 256.0,525.8 256.5,526.1 257.0,525.7 257.5,525.9 258.0,526.0 258.5,525.9 259.0,526.0 259.5,526.1 260.0,525.9 260.5,525.6 261.0,526.0 261.5,526.2 262.0,526.2 262.5,526.3 263.0,526.4 263.5,526.2 264.0,526.2 264.5,526.1 265.0,526.1 265.5,526.4 266.0,526.1 266.5,526.0 267.0,526.3 267.5,525.8 268.0,526.0 268.5,525.6 269.0,525.6 269.5,525.4 270.0,525.4 270.5,525.1 271.0,525.1 271.5,524.7 272.0,524.8 272.5,524.3 273.0,523.8 273.5,523.7 274.0,523.5 274.5,523.3 275.0,522.6 275.5,522.5 276.0,521.6 276.5,521.0 277.0,520.5 277.5,519.3 278.0,519.1 278.5,517.8 279.0,516.7 279.5,516.0 280.0,514.2 280.5,512.3 281.0,511.1 281.5,510.0 282.0,509.0 282.5,508.1 283.0,507.2 283.5,506.7 284.0,506.5 284.5,506.3 285.0,506.7 285.5,508.1 286.0,509.2 286.5,511.4 287.0,512.5 287.5,513.7 288.0,514.5 288.5,515.3 289.0,516.0 289.5,516.2 290.0,516.9 290.5,517.5 291.0,518.1 291.5,518.5 292.0,518.8 292.5,519.6 293.0,519.8 293.5,519.9 294.0,520.2 294.5,520.3 295.0,520.2 295.5,520.4 296.0,520.9 296.5,521.0 297.0,521.1 297.5,521.1 298.0,521.4 298.5,521.6 299.0,521.8 299.5,521.9 300.0,521.7 300.5,522.2 301.0,522.1 301.5,522.2 302.0,522.0 302.5,522.2 303.0,521.8 303.5,522.2 304.0,521.8 304.5,522.0 305.0,521.8 305.5,521.8 306.0,521.8 306.5,521.5 307.0,521.7 307.5,521.7 308.0,521.5 308.5,521.6 309.0,521.7 309.5,521.2 310.0,521.3 310.5,521.0 311.0,520.7 311.5,520.9 312.0,520.5 312.5,520.6 313.0,520.8 313.5,520.2 314.0,520.1 314.5,520.1 315.0,520.1 315.5,520.0 316.0,519.7 316.5,519.5 317.0,519.6 317.5,519.3 318.0,519.3 318.5,518.8 319.0,519.0 319.5,518.6 320.0,518.4 320.5,518.0 321.0,517.9 321.5,517.8 322.0,517.7 322.5,517.4 323.0,517.0 323.5,516.7 324.0,516.8 324.5,516.3 325.0,516.5 325.5,516.0 326.0,515.6 326.5,515.4 327.0,515.5 327.5,515.0 328.0,514.8 328.5,514.2 329.0,514.2 329.5,513.7 330.0,513.2 330.5,513.1 331.0,512.8 331.5,512.3 332.0,512.6 332.5,511.6 333.0,511.3 333.5,511.2 334.0,510.9 334.5,510.7 335.0,510.3 335.5,510.4 336.0,509.9 336.5,509.7 337.0,509.7 337.5,509.7 338.0,509.7 338.5,509.9 339.0,509.5 339.5,509.4 340.0,509.4 340.5,509.5 341.0,510.0 341.5,510.2 342.0,511.1 342.5,511.4 343.0,512.1 343.5,512.7 344.0,513.0 344.5,513.8 345.0,514.4 345.5,515.2 346.0,515.8 346.5,515.9 347.0,517.0 347.5,517.4 348.0,518.0 348.5,518.6 349.0,519.5 349.5,519.6 350.0,520.0 350.5,520.5 351.0,520.9 351.5,520.9 352.0,521.3 352.5,521.6 353.0,521.9 353.5,522.1 354.0,522.2 354.5,522.6 355.0,522.7 355.5,522.9 356.0,523.2 356.5,523.4 357.0,523.4 357.5,523.6 358.0,523.8 358.5,523.9 359.0,523.6 359.5,523.5 360.0,524.1 360.5,523.7 361.0,523.9 361.5,523.6 362.0,523.8 362.5,523.5 363.0,523.4 363.5,523.3 364.0,523.2 364.5,523.0 365.0,523.1 365.5,523.0 366.0,523.0 366.5,522.9 367.0,522.6 367.5,522.7 368.0,522.6 368.5,522.7 369.0,522.7 369.5,522.3 370.0,521.9 370.5,522.2 371.0,522.1 371.5,521.9 372.0,522.1 372.5,522.0 373.0,522.1 373.5,521.7 374.0,521.9 374.5,521.8 375.0,521.8 375.5,522.0 376.0,521.7 376.5,521.7 377.0,521.8 377.5,521.4 378.0,521.8 378.5,521.5 379.0,521.2 379.5,521.8 380.0,521.8 380.5,521.5 381.0,521.3 381.5,521.2 382.0,521.5 382.5,521.7 383.0,521.2 383.5,521.4 384.0,521.6 384.5,521.5 385.0,521.3 385.5,521.6 386.0,521.1 386.5,521.4 387.0,521.4 387.5,521.1 388.0,521.2 388.5,521.2 389.0,521.7 389.5,521.2 390.0,521.2 390.5,521.2 391.0,521.6 391.5,521.6 392.0,521.1 392.5,521.1 393.0,521.3 393.5,521.3 394.0,521.3 394.5,521.1 395.0,521.0 395.5,521.3 396.0,521.1 396.5,521.7 397.0,521.3 397.5,521.3 398.0,521.3 398.5,521.2 399.0,521.3 399.5,521.1 400.0,521.3 400.5,521.3 401.0,521.3 401.5,520.8 402.0,521.3 402.5,521.1 403.0,521.4 403.5,521.3 404.0,521.3 404.5,521.5 405.0,521.3 405.5,521.5 406.0,521.6 406.5,521.8 407.0,522.0 407.5,521.8 408.0,522.0 408.5,522.1 409.0,522.6 409.5,522.3 410.0,522.6 410.5,522.7 411.0,522.7 411.5,523.1 412.0,523.1 412.5,523.4 413.0,523.2 413.5,523.5 414.0,523.9 414.5,523.8 415.0,523.8 415.5,524.0 416.0,523.7 416.5,524.1 417.0,524.2 417.5,524.3 418.0,524.4 418.5,524.5 419.0,524.4 419.5,524.5 420.0,524.5 420.5,524.8 421.0,524.6 421.5,524.9 422.0,524.9 422.5,525.1 423.0,525.5 423.5,525.1 424.0,525.4 424.5,525.6 425.0,525.2 425.5,525.4 426.0,525.5 426.5,525.4 427.0,525.4 427.5,525.5 428.0,525.5 428.5,525.4 429.0,525.7 429.5,525.6 430.0,525.5 430.5,525.5 431.0,525.2 431.5,525.2 432.0,525.3 432.5,525.5 433.0,525.7 433.5,525.4 434.0,525.3 434.5,525.3 435.0,525.4 435.5,525.2 436.0,525.3 436.5,525.5 437.0,525.6 437.5,525.4 438.0,525.3 438.5,525.3 439.0,525.4 439.5,524.9 440.0,525.3 440.5,525.3 441.0,525.2 441.5,525.2 442.0,525.3 442.5,525.2 443.0,525.3 443.5,525.1 444.0,525.3 444.5,525.3 445.0,525.0 445.5,525.3 446.0,525.2 446.5,525.2 447.0,525.3 447.5,525.2 448.0,525.0 448.5,525.2 449.0,525.2 449.5,525.0 450.0,525.0 450.5,525.0 451.0,525.0 451.5,524.9 452.0,525.1 452.5,525.2 453.0,524.8 453.5,525.0 454.0,524.9 454.5,525.1 455.0,525.1 455.5,525.0 456.0,525.1 456.5,525.1 457.0,525.0 457.5,525.0 458.0,525.1 458.5,524.8 459.0,524.7 459.5,525.0 460.0,525.0 460.5,525.1 461.0,524.8 461.5,524.7 462.0,524.9 462.5,525.0 463.0,524.7 463.5,524.8 464.0,524.7 464.5,524.6 465.0,525.0 465.5,524.7 466.0,525.0 466.5,524.7 467.0,524.5 467.5,524.6 468.0,524.6 468.5,524.6 469.0,524.7 469.5,524.6 470.0,524.9 470.5,524.4 471.0,524.5 471.5,524.7 472.0,524.8 472.5,524.7 473.0,524.6 473.5,524.7 474.0,524.6 474.5,524.6 475.0,524.7 475.5,524.4 476.0,524.6 476.5,524.5 477.0,524.6 477.5,524.6 478.0,524.8 478.5,524.7 479.0,524.6 479.5,524.4 480.0,524.6 480.5,524.2 481.0,524.7 481.5,524.7 482.0,524.6 482.5,524.6 483.0,524.3 483.5,524.5 484.0,524.4 484.5,524.6 485.0,524.6 485.5,524.7 486.0,524.4 486.5,524.4 487.0,524.6 487.5,524.4 488.0,524.4 488.5,524.6 489.0,524.5 489.5,524.4 490.0,524.7 490.5,524.5 491.0,524.3 491.5,524.5 492.0,524.5 492.5,524.4 493.0,524.7 493.5,524.5 494.0,524.6 494.5,524.6 495.0,524.5 495.5,524.5 496.0,524.5 496.5,524.4 497.0,524.7 497.5,524.4 498.0,524.3 498.5,524.6 499.0,524.5 499.5,524.3 500.0,524.6 500.5,524.6 501.0,524.4 501.5,524.3 502.0,524.6 502.5,524.6 503.0,524.6 503.5,524.5 504.0,524.6 504.5,524.8 505.0,524.6 505.5,524.6 506.0,524.7 506.5,524.6 507.0,524.5 507.5,524.6 508.0,524.7 508.5,524.6 509.0,524.6 509.5,524.5 510.0,524.5 510.5,524.3 511.0,524.6 511.5,524.6 512.0,524.4 512.5,524.6 513.0,524.4 513.5,524.6 514.0,524.8 514.5,524.5 515.0,524.4 515.5,524.4 516.0,524.5" stroke-width="2.4"/>
<path d="M57.5,563.0 58.0,563.2 58.5,563.0 59.0,563.5 59.5,563.4 60.0,563.4 60.5,563.7 61.0,563.7 61.5,563.4 62.0,563.5 62.5,563.8 63.0,563.6 63.5,563.6 64.0,563.8 64.5,563.7 65.0,563.8 65.5,563.6 66.0,563.7 66.5,563.7 67.0,563.8 67.5,563.9 68.0,563.6 68.5,563.6 69.0,563.6 69.5,563.6 70.0,563.4 70.5,563.4 71.0,563.5 71.5,563.2 72.0,563.2 72.5,562.9 73.0,562.5 73.5,562.6 74.0,562.4 74.5,562.1 75.0,562.0 75.5,561.9 76.0,561.4 76.5,560.8 77.0,560.3 77.5,559.8 78.0,559.1 78.5,558.1 79.0,557.3 79.5,556.3 80.0,554.8 80.5,552.5 81.0,549.8 81.5,546.2 82.0,542.9 82.5,540.0 83.0,536.6 83.5,532.2 84.0,528.3 84.5,525.4 85.0,524.3 85.5,524.9 86.0,526.0 86.5,528.2 87.0,530.1 87.5,533.6 88.0,538.5 88.5,543.9 89.0,547.7 89.5,549.8 90.0,552.2 90.5,554.0 91.0,555.6 91.5,556.6 92.0,557.1 92.5,556.9 93.0,557.3 93.5,557.4 94.0,557.5 94.5,557.6 95.0,557.6 95.5,557.8 96.0,557.9 96.5,557.9 97.0,558.1 97.5,557.9 98.0,558.1 98.5,558.1 99.0,557.9 99.5,558.1 100.0,557.9 100.5,557.9 101.0,557.7 101.5,557.8 102.0,557.5 102.5,557.0 103.0,557.0 103.5,556.8 104.0,556.7 104.5,556.6 105.0,556.3 105.5,555.7 106.0,555.2 106.5,554.9 107.0,554.3 107.5,553.7 108.0,552.9 108.5,552.2 109.0,551.5 109.5,550.7 110.0,550.1 110.5,549.3 111.0,548.6 111.5,547.9 112.0,546.8 112.5,545.9 113.0,545.3 113.5,544.8 114.0,544.2 114.5,543.8 115.0,543.8 115.5,543.9 116.0,544.4 116.5,544.8 117.0,545.6 117.5,546.7 118.0,547.5 118.5,548.5 119.0,549.4 119.5,550.0 120.0,550.6 120.5,551.6 121.0,552.4 121.5,553.4 122.0,554.2 122.5,554.8 123.0,555.6 123.5,556.1 124.0,556.5 124.5,556.9 125.0,557.2 125.5,557.7 126.0,558.1 126.5,558.1 127.0,558.5 127.5,558.9 128.0,558.9 128.5,559.2 129.0,559.7 129.5,559.8 130.0,559.9 130.5,560.0 131.0,560.1 131.5,559.9 132.0,560.1 132.5,559.8 133.0,559.8 133.5,559.6 134.0,559.6 134.5,559.3 135.0,559.2 135.5,558.9 136.0,558.9 136.5,558.7 137.0,558.2 137.5,557.8 138.0,557.4 138.5,557.0 139.0,556.0 139.5,555.0 140.0,553.9 140.5,552.7 141.0,551.0 141.5,549.3 142.0,547.6 142.5,544.8 143.0,541.5 143.5,537.6 144.0,533.3 144.5,528.9 145.0,525.0 145.5,521.0 146.0,516.6 146.5,512.6 147.0,508.5 147.5,506.1 148.0,505.0 148.5,505.4 149.0,507.2 149.5,509.3 150.0,512.2 150.5,515.0 151.0,519.3 151.5,524.4 152.0,530.3 152.5,536.1 153.0,540.1 153.5,542.7 154.0,545.2 154.5,547.7 155.0,549.8 155.5,551.4 156.0,553.1 156.5,554.2 157.0,555.0 157.5,555.5 158.0,556.2 158.5,556.9 159.0,557.5 159.5,558.0 160.0,558.3 160.5,558.7 161.0,559.0 161.5,559.3 162.0,559.6 162.5,559.9 163.0,560.1 163.5,560.0 164.0,560.1 164.5,559.9 165.0,560.0 165.5,560.1 166.0,560.0 166.5,560.1 167.0,559.8 167.5,560.2 168.0,560.0 168.5,559.9 169.0,560.0 169.5,559.6 170.0,560.0 170.5,560.1 171.0,559.4 171.5,558.9 172.0,557.7 172.5,556.7 173.0,555.5 173.5,554.6 174.0,552.8 174.5,550.9 175.0,548.1 175.5,545.0 176.0,541.1 176.5,537.1 177.0,532.4 177.5,525.0 178.0,516.7 178.5,509.8 179.0,505.0 179.5,502.6 180.0,500.7 180.5,500.0 181.0,503.0 181.5,510.1 182.0,518.2 182.5,524.7 183.0,529.8 183.5,534.8 184.0,538.8 184.5,542.2 185.0,545.2 185.5,547.1 186.0,548.7 186.5,550.5 187.0,551.9 187.5,552.9 188.0,554.2 188.5,554.8 189.0,555.3 189.5,555.8 190.0,555.8 190.5,556.3 191.0,556.9 191.5,557.1 192.0,557.1 192.5,557.5 193.0,557.6 193.5,557.8 194.0,557.8 194.5,558.1 195.0,558.3 195.5,558.1 196.0,558.1 196.5,557.9 197.0,557.8 197.5,557.9 198.0,557.7 198.5,557.5 199.0,557.3 199.5,557.1 200.0,557.2 200.5,557.0 201.0,556.8 201.5,556.6 202.0,556.3 202.5,556.2 203.0,556.0 203.5,555.9 204.0,555.5 204.5,555.3 205.0,554.9 205.5,554.7 206.0,554.2 206.5,554.4 207.0,553.9 207.5,553.8 208.0,553.7 208.5,553.4 209.0,553.5 209.5,553.2 210.0,553.1 210.5,553.2 211.0,552.9 211.5,553.2 212.0,553.8 212.5,554.4 213.0,555.7 213.5,556.6 214.0,557.9 214.5,558.8 215.0,559.3 215.5,560.4 216.0,561.2 216.5,561.5 217.0,562.4 217.5,562.9 218.0,563.3 218.5,563.7 219.0,563.8 219.5,563.9 220.0,564.1 220.5,564.2 221.0,564.3 221.5,564.3 222.0,564.6 222.5,564.8 223.0,564.7 223.5,564.7 224.0,565.0 224.5,564.6 225.0,564.9 225.5,564.8 226.0,564.9 226.5,564.9 227.0,565.0 227.5,565.2 228.0,564.9 228.5,565.0 229.0,565.1 229.5,565.1 230.0,565.1 230.5,565.0 231.0,564.9 231.5,564.9 232.0,564.9 232.5,564.8 233.0,564.7 233.5,564.9 234.0,565.0 234.5,564.9 235.0,565.0 235.5,565.0 236.0,564.9 236.5,564.8 237.0,564.9 237.5,564.8 238.0,564.8 238.5,564.7 239.0,564.7 239.5,564.8 240.0,564.7 240.5,564.8 241.0,564.7 241.5,564.7 242.0,564.7 242.5,564.4 243.0,564.6 243.5,564.6 244.0,564.7 244.5,564.6 245.0,564.8 245.5,564.6 246.0,564.4 246.5,564.1 247.0,564.1 247.5,563.9 248.0,563.8 248.5,563.6 249.0,563.2 249.5,563.2 250.0,562.9 250.5,562.7 251.0,562.4 251.5,562.4 252.0,562.2 252.5,561.9 253.0,562.1 253.5,562.0 254.0,561.8 254.5,562.1 255.0,562.0 255.5,562.1 256.0,561.9 256.5,562.1 257.0,562.2 257.5,562.3 258.0,562.2 258.5,562.0 259.0,562.4 259.5,562.3 260.0,562.6 260.5,562.3 261.0,562.5 261.5,562.3 262.0,562.5 262.5,562.5 263.0,562.5 263.5,562.5 264.0,562.4 264.5,562.6 265.0,562.6 265.5,562.4 266.0,562.2 266.5,562.2 267.0,562.4 267.5,562.2 268.0,562.0 268.5,561.9 269.0,562.1 269.5,561.9 270.0,561.7 270.5,561.9 271.0,561.6 271.5,561.3 272.0,561.2 272.5,561.3 273.0,561.0 273.5,560.9 274.0,560.9 274.5,560.7 275.0,560.4 275.5,559.8 276.0,559.4 276.5,558.8 277.0,558.3 277.5,557.9 278.0,557.3 278.5,556.7 279.0,555.9 279.5,554.5 280.0,552.7 280.5,550.4 281.0,548.0 281.5,545.1 282.0,542.8 282.5,540.1 283.0,536.9 283.5,533.4 284.0,529.9 284.5,526.2 285.0,524.0 285.5,523.0 286.0,524.5 286.5,527.7 287.0,532.0 287.5,536.6 288.0,540.1 288.5,542.7 289.0,545.1 289.5,547.1 290.0,548.8 290.5,549.6 291.0,550.5 291.5,551.4 292.0,552.1 292.5,552.6 293.0,552.8 293.5,553.6 294.0,553.7 294.5,554.4 295.0,554.9 295.5,555.4 296.0,555.7 296.5,556.2 297.0,556.3 297.5,556.7 298.0,557.1 298.5,557.1 299.0,557.3 299.5,557.5 300.0,557.3 300.5,557.5 301.0,557.4 301.5,557.7 302.0,557.6 302.5,557.6 303.0,557.7 303.5,557.5 304.0,557.4 304.5,557.5 305.0,557.5 305.5,557.4 306.0,557.4 306.5,557.2 307.0,557.2 307.5,557.3 308.0,557.1 308.5,557.4 309.0,557.3 309.5,557.1 310.0,557.3 310.5,557.2 311.0,557.3 311.5,557.1 312.0,557.0 312.5,557.1 313.0,556.8 313.5,557.0 314.0,556.9 314.5,556.4 315.0,556.6 315.5,556.6 316.0,556.3 316.5,556.2 317.0,556.1 317.5,555.7 318.0,555.8 318.5,555.6 319.0,555.4 319.5,555.2 320.0,555.1 320.5,555.0 321.0,554.7 321.5,554.4 322.0,554.2 322.5,554.0 323.0,554.0 323.5,553.7 324.0,553.4 324.5,553.4 325.0,553.1 325.5,552.7 326.0,552.6 326.5,552.4 327.0,552.1 327.5,551.9 328.0,551.5 328.5,551.2 329.0,550.9 329.5,550.8 330.0,550.4 330.5,549.9 331.0,549.9 331.5,549.6 332.0,549.2 332.5,548.9 333.0,548.6 333.5,548.2 334.0,547.7 334.5,547.7 335.0,547.0 335.5,546.8 336.0,546.7 336.5,546.0 337.0,545.8 337.5,545.1 338.0,544.5 338.5,543.8 339.0,543.5 339.5,542.7 340.0,542.3 340.5,541.6 341.0,541.3 341.5,540.9 342.0,540.8 342.5,540.6 343.0,540.3 343.5,540.5 344.0,540.3 344.5,540.1 345.0,540.1 345.5,540.2 346.0,539.9 346.5,540.0 347.0,539.9 347.5,540.0 348.0,540.1 348.5,540.4 349.0,541.2 349.5,541.9 350.0,542.8 350.5,543.7 351.0,544.7 351.5,545.4 352.0,546.4 352.5,547.6 353.0,548.7 353.5,549.9 354.0,551.0 354.5,552.1 355.0,553.0 355.5,553.8 356.0,554.0 356.5,554.8 357.0,555.3 357.5,555.9 358.0,556.4 358.5,556.4 359.0,556.9 359.5,557.3 360.0,557.4 360.5,557.7 361.0,558.0 361.5,558.0 362.0,557.9 362.5,558.3 363.0,558.2 363.5,558.4 364.0,558.3 364.5,558.5 365.0,558.7 365.5,558.8 366.0,558.8 366.5,558.8 367.0,558.6 367.5,558.6 368.0,558.9 368.5,558.5 369.0,558.5 369.5,558.5 370.0,558.3 370.5,558.3 371.0,557.9 371.5,557.9 372.0,557.9 372.5,557.2 373.0,557.1 373.5,556.8 374.0,556.6 374.5,556.3 375.0,556.3 375.5,556.1 376.0,555.9 376.5,555.8 377.0,555.5 377.5,555.6 378.0,555.4 378.5,555.5 379.0,555.4 379.5,555.0 380.0,555.2 380.5,555.0 381.0,555.0 381.5,555.1 382.0,555.2 382.5,555.0 383.0,554.9 383.5,554.9 384.0,554.7 384.5,554.5 385.0,554.8 385.5,554.7 386.0,554.6 386.5,554.6 387.0,554.6 387.5,554.6 388.0,554.7 388.5,554.5 389.0,554.6 389.5,554.5 390.0,554.5 390.5,554.4 391.0,554.4 391.5,554.2 392.0,554.4 392.5,554.5 393.0,554.6 393.5,554.4 394.0,554.5 394.5,554.6 395.0,554.6 395.5,554.4 396.0,554.6 396.5,554.9 397.0,554.8 397.5,554.6 398.0,554.7 398.5,554.9 399.0,554.8 399.5,554.9 400.0,554.9 400.5,554.8 401.0,554.9 401.5,554.8 402.0,555.0 402.5,555.0 403.0,555.0 403.5,555.2 404.0,555.2 404.5,555.3 405.0,555.3 405.5,555.3 406.0,555.6 406.5,555.7 407.0,555.9 407.5,555.7 408.0,556.1 408.5,556.2 409.0,556.3 409.5,556.3 410.0,556.9 410.5,556.9 411.0,556.9 411.5,557.1 412.0,557.0 412.5,557.4 413.0,557.5 413.5,557.6 414.0,557.6 414.5,557.8 415.0,558.2 415.5,558.2 416.0,558.3 416.5,558.4 417.0,558.8 417.5,558.7 418.0,558.7 418.5,558.7 419.0,559.0 419.5,559.1 420.0,559.0 420.5,559.3 421.0,559.5 421.5,559.6 422.0,559.5 422.5,559.7 423.0,559.8 423.5,560.2 424.0,560.1 424.5,560.1 425.0,560.4 425.5,560.1 426.0,560.4 426.5,560.5 427.0,560.4 427.5,560.4 428.0,560.3 428.5,560.4 429.0,560.6 429.5,560.6 430.0,560.7 430.5,560.5 431.0,560.9 431.5,560.4 432.0,560.5 432.5,560.3 433.0,560.6 433.5,560.6 434.0,560.9 434.5,560.6 435.0,560.6 435.5,560.2 436.0,560.4 436.5,560.6 437.0,560.6 437.5,560.7 438.0,560.5 438.5,560.7 439.0,560.7 439.5,560.5 440.0,560.8 440.5,560.8 441.0,560.7 441.5,560.8 442.0,560.8 442.5,560.7 443.0,560.8 443.5,560.9 444.0,560.6 444.5,560.8 445.0,560.7 445.5,560.7 446.0,560.7 446.5,560.7 447.0,560.7 447.5,560.7 448.0,560.8 448.5,560.5 449.0,560.8 449.5,560.7 450.0,560.7 450.5,560.9 451.0,560.8 451.5,560.8 452.0,560.8 452.5,560.8 453.0,560.6 453.5,560.8 454.0,560.8 454.5,560.8 455.0,560.7 455.5,560.7 456.0,560.7 456.5,560.9 457.0,560.6 457.5,560.8 458.0,560.7 458.5,560.6 459.0,560.7 459.5,560.6 460.0,560.7 460.5,560.7 461.0,560.6 461.5,560.7 462.0,560.7 462.5,560.7 463.0,560.6 463.5,560.7 464.0,560.6 464.5,560.6 465.0,560.6 465.5,560.6 466.0,560.8 466.5,560.7 467.0,560.6 467.5,560.9 468.0,560.8 468.5,560.4 469.0,560.5 469.5,560.5 470.0,560.8 470.5,560.5 471.0,560.6 471.5,560.6 472.0,560.7 472.5,560.6 473.0,560.7 473.5,560.6 474.0,560.7 474.5,560.6 475.0,560.7 475.5,560.5 476.0,560.6 476.5,560.7 477.0,560.8 477.5,560.6 478.0,560.6 478.5,560.4 479.0,560.7 479.5,560.4 480.0,560.6 480.5,560.6 481.0,560.4 481.5,560.4 482.0,560.5 482.5,560.6 483.0,560.4 483.5,560.5 484.0,560.2 484.5,560.5 485.0,560.4 485.5,560.4 486.0,560.5 486.5,560.4 487.0,560.6 487.5,560.6 488.0,560.6 488.5,560.5 489.0,560.4 489.5,560.6 490.0,560.6 490.5,560.4 491.0,560.5 491.5,560.5 492.0,560.6 492.5,560.4 493.0,560.2 493.5,560.6 494.0,560.6 494.5,560.5 495.0,560.6 495.5,560.5 496.0,560.3 496.5,560.5 497.0,560.4 497.5,560.3 498.0,560.6 498.5,560.5 499.0,560.2 499.5,560.6 500.0,560.5 500.5,560.4 501.0,560.4 501.5,560.6 502.0,560.6 502.5,560.6 503.0,560.6 503.5,560.4 504.0,560.7 504.5,560.8 505.0,560.5 505.5,560.6 506.0,560.6 506.5,560.7 507.0,560.3 507.5,560.6 508.0,560.4 508.5,560.5 509.0,560.6 509.5,560.6 510.0,560.5 510.5,560.6 511.0,560.6 511.5,560.5 512.0,560.7 512.5,560.5 513.0,560.3 513.5,560.5 514.0,560.5 514.5,560.5 515.0,560.3 515.5,560.3 516.0,560.4" stroke-width="2.4"/>
<path d="M57.5,597.5 58.0,597.5 58.5,597.8 59.0,597.8 59.5,597.8 60.0,597.8 60.5,597.6 61.0,597.9 61.5,597.9 62.0,598.0 62.5,598.2 63.0,598.0 63.5,598.2 64.0,597.9 64.5,597.9 65.0,597.9 65.5,598.0 66.0,597.7 66.5,598.0 67.0,598.0 67.5,598.1 68.0,598.0 68.5,598.1 69.0,598.0 69.5,597.9 70.0,597.9 70.5,597.8 71.0,597.7 71.5,597.9 72.0,597.5 72.5,597.7 73.0,597.5 73.5,597.2 74.0,597.0 74.5,597.0 75.0,597.0 75.5,596.8 76.0,596.7 76.5,596.3 77.0,595.9 77.5,595.7 78.0,595.2 78.5,594.6 79.0,593.9 79.5,593.1 80.0,592.6 80.5,591.4 81.0,589.1 81.5,586.3 82.0,583.4 82.5,580.4 83.0,577.3 83.5,573.9 84.0,569.7 84.5,566.4 85.0,564.9 85.5,565.6 86.0,566.8 86.5,568.4 87.0,569.8 87.5,572.8 88.0,576.5 88.5,580.6 89.0,583.9 89.5,586.0 90.0,587.6 90.5,589.1 91.0,590.3 91.5,591.3 92.0,592.2 92.5,592.5 93.0,592.7 93.5,593.0 94.0,593.1 94.5,593.2 95.0,593.3 95.5,593.2 96.0,593.4 96.5,593.5 97.0,593.7 97.5,593.7 98.0,593.6 98.5,593.7 99.0,593.8 99.5,593.8 100.0,593.5 100.5,593.4 101.0,593.2 101.5,593.1 102.0,593.0 102.5,592.8 103.0,592.4 103.5,592.3 104.0,591.9 104.5,591.6 105.0,591.1 105.5,591.1 106.0,590.3 106.5,589.9 107.0,589.2 107.5,588.3 108.0,587.5 108.5,586.9 109.0,585.9 109.5,585.1 110.0,584.3 110.5,583.6 111.0,582.9 111.5,582.4 112.0,581.4 112.5,580.7 113.0,579.8 113.5,579.0 114.0,578.5 114.5,578.0 115.0,578.0 115.5,578.1 116.0,578.5 116.5,579.1 117.0,579.9 117.5,580.5 118.0,581.2 118.5,582.1 119.0,582.6 119.5,583.6 120.0,584.6 120.5,585.2 121.0,586.2 121.5,587.2 122.0,587.7 122.5,588.6 123.0,589.3 123.5,589.9 124.0,590.3 124.5,590.6 125.0,591.0 125.5,591.4 126.0,591.9 126.5,592.4 127.0,592.8 127.5,593.0 128.0,593.5 128.5,593.5 129.0,593.9 129.5,594.3 130.0,594.3 130.5,594.4 131.0,594.6 131.5,594.7 132.0,594.5 132.5,594.2 133.0,594.4 133.5,594.4 134.0,594.0 134.5,594.2 135.0,593.6 135.5,593.6 136.0,593.4 136.5,593.1 137.0,592.7 137.5,592.6 138.0,592.0 138.5,591.6 139.0,590.9 139.5,590.1 140.0,589.0 140.5,587.9 141.0,586.6 141.5,585.7 142.0,584.1 142.5,582.4 143.0,580.5 143.5,577.6 144.0,574.5 144.5,570.4 145.0,566.7 145.5,562.6 146.0,559.1 146.5,555.9 147.0,551.9 147.5,548.2 148.0,544.8 148.5,542.7 149.0,542.6 149.5,543.9 150.0,545.8 150.5,548.3 151.0,550.9 151.5,554.0 152.0,558.4 152.5,563.9 153.0,569.2 153.5,573.3 154.0,576.6 154.5,578.9 155.0,581.2 155.5,583.3 156.0,585.0 156.5,586.8 157.0,587.9 157.5,588.8 158.0,589.2 158.5,589.9 159.0,590.8 159.5,591.4 160.0,591.7 160.5,592.2 161.0,592.6 161.5,592.9 162.0,593.2 162.5,593.4 163.0,593.8 163.5,593.7 164.0,593.8 164.5,593.6 165.0,593.8 165.5,593.9 166.0,593.7 166.5,593.9 167.0,593.8 167.5,594.0 168.0,593.7 168.5,593.7 169.0,593.6 169.5,593.7 170.0,593.8 170.5,593.5 171.0,593.3 171.5,592.4 172.0,591.7 172.5,590.8 173.0,589.4 173.5,588.2 174.0,586.7 174.5,584.7 175.0,582.4 175.5,579.0 176.0,575.7 176.5,572.0 177.0,567.5 177.5,560.2 178.0,551.9 178.5,544.8 179.0,540.1 179.5,537.6 180.0,535.7 180.5,535.1 181.0,538.5 181.5,546.3 182.0,555.6 182.5,562.6 183.0,566.8 183.5,571.1 184.0,574.8 184.5,577.8 185.0,579.9 185.5,581.8 186.0,583.3 186.5,584.9 187.0,585.8 187.5,586.9 188.0,587.7 188.5,588.6 189.0,589.0 189.5,589.6 190.0,590.0 190.5,590.6 191.0,590.7 191.5,591.2 192.0,591.6 192.5,591.7 193.0,591.8 193.5,592.3 194.0,592.4 194.5,592.6 195.0,592.5 195.5,592.5 196.0,592.4 196.5,592.4 197.0,592.3 197.5,592.1 198.0,592.2 198.5,592.0 199.0,591.8 199.5,591.8 200.0,591.4 200.5,591.3 201.0,591.2 201.5,590.8 202.0,590.9 202.5,590.4 203.0,590.3 203.5,590.0 204.0,590.0 204.5,589.6 205.0,589.1 205.5,588.9 206.0,588.6 206.5,588.5 207.0,588.1 207.5,587.9 208.0,587.9 208.5,587.6 209.0,587.6 209.5,587.4 210.0,587.2 210.5,587.0 211.0,586.8 211.5,587.0 212.0,587.0 212.5,587.4 213.0,588.2 213.5,589.3 214.0,590.5 214.5,591.7 215.0,592.1 215.5,593.0 216.0,593.9 216.5,594.4 217.0,594.9 217.5,595.4 218.0,596.0 218.5,596.2 219.0,596.3 219.5,596.2 220.0,596.7 220.5,596.6 221.0,596.9 221.5,597.0 222.0,596.8 222.5,596.9 223.0,597.0 223.5,597.1 224.0,597.4 224.5,597.5 225.0,597.4 225.5,597.4 226.0,597.4 226.5,597.7 227.0,597.5 227.5,597.4 228.0,597.5 228.5,597.6 229.0,597.4 229.5,597.4 230.0,597.3 230.5,597.5 231.0,597.4 231.5,597.5 232.0,597.5 232.5,597.5 233.0,597.4 233.5,597.5 234.0,597.3 234.5,597.4 235.0,597.6 235.5,597.7 236.0,597.3 236.5,597.4 237.0,597.4 237.5,597.3 238.0,597.4 238.5,597.2 239.0,597.4 239.5,597.2 240.0,597.4 240.5,597.3 241.0,597.5 241.5,597.3 242.0,597.2 242.5,597.0 243.0,596.8 243.5,597.1 244.0,597.0 244.5,597.1 245.0,596.9 245.5,597.0 246.0,596.8 246.5,596.7 247.0,596.5 247.5,596.1 248.0,596.0 248.5,595.9 249.0,595.6 249.5,595.4 250.0,594.9 250.5,594.5 251.0,594.4 251.5,594.1 252.0,594.3 252.5,593.9 253.0,593.9 253.5,593.9 254.0,593.8 254.5,593.5 255.0,593.5 255.5,593.9 256.0,594.0 256.5,593.8 257.0,594.0 257.5,594.1 258.0,594.1 258.5,594.0 259.0,594.4 259.5,594.2 260.0,594.4 260.5,594.2 261.0,594.3 261.5,594.6 262.0,594.4 262.5,594.3 263.0,594.5 263.5,594.5 264.0,594.3 264.5,594.5 265.0,594.5 265.5,594.4 266.0,594.5 266.5,594.1 267.0,594.3 267.5,594.1 268.0,593.8 268.5,593.7 269.0,593.6 269.5,593.5 270.0,593.6 270.5,593.3 271.0,593.3 271.5,593.3 272.0,593.1 272.5,593.1 273.0,592.7 273.5,592.6 274.0,592.6 274.5,592.4 275.0,592.0 275.5,591.6 276.0,591.3 276.5,591.1 277.0,590.8 277.5,590.0 278.0,589.6 278.5,588.9 279.0,588.5 279.5,587.3 280.0,585.9 280.5,584.0 281.0,582.1 281.5,579.8 282.0,577.5 282.5,575.0 283.0,571.8 283.5,567.6 284.0,563.0 284.5,558.6 285.0,555.0 285.5,552.6 286.0,552.7 286.5,556.1 287.0,560.8 287.5,566.2 288.0,570.9 288.5,573.8 289.0,576.2 289.5,578.3 290.0,579.9 290.5,581.0 291.0,581.8 291.5,582.6 292.0,583.2 292.5,583.9 293.0,584.3 293.5,584.7 294.0,585.3 294.5,585.7 295.0,586.2 295.5,586.6 296.0,586.8 296.5,587.4 297.0,587.8 297.5,587.9 298.0,588.5 298.5,588.3 299.0,588.7 299.5,588.7 300.0,588.7 300.5,588.9 301.0,588.9 301.5,588.8 302.0,588.6 302.5,588.8 303.0,588.6 303.5,588.7 304.0,588.7 304.5,588.5 305.0,588.7 305.5,588.5 306.0,588.4 306.5,588.4 307.0,588.3 307.5,588.3 308.0,588.4 308.5,588.4 309.0,588.5 309.5,588.5 310.0,588.3 310.5,587.9 311.0,588.2 311.5,588.1 312.0,588.1 312.5,588.1 313.0,588.0 313.5,588.0 314.0,587.9 314.5,588.0 315.0,587.6 315.5,587.5 316.0,587.5 316.5,587.7 317.0,587.0 317.5,587.1 318.0,586.9 318.5,586.9 319.0,586.8 319.5,586.5 320.0,586.7 320.5,586.6 321.0,586.2 321.5,586.2 322.0,585.8 322.5,585.7 323.0,585.7 323.5,585.6 324.0,585.2 324.5,585.2 325.0,585.2 325.5,584.8 326.0,584.5 326.5,584.5 327.0,584.4 327.5,584.1 328.0,584.0 328.5,583.6 329.0,583.5 329.5,583.2 330.0,583.0 330.5,582.8 331.0,582.5 331.5,582.2 332.0,581.8 332.5,581.5 333.0,581.4 333.5,581.2 334.0,580.8 334.5,580.6 335.0,580.2 335.5,579.9 336.0,579.6 336.5,579.3 337.0,579.0 337.5,578.5 338.0,577.8 338.5,577.4 339.0,576.8 339.5,576.4 340.0,575.9 340.5,574.9 341.0,574.7 341.5,574.2 342.0,574.1 342.5,573.4 343.0,573.3 343.5,573.2 344.0,572.9 344.5,572.9 345.0,572.8 345.5,572.8 346.0,572.6 346.5,572.6 347.0,572.5 347.5,572.4 348.0,572.7 348.5,572.3 349.0,572.7 349.5,572.8 350.0,573.4 350.5,574.0 351.0,575.0 351.5,575.9 352.0,576.6 352.5,577.6 353.0,578.0 353.5,579.0 354.0,579.9 354.5,581.0 355.0,582.0 355.5,582.7 356.0,583.7 356.5,584.4 357.0,585.1 357.5,585.3 358.0,585.9 358.5,586.6 359.0,587.0 359.5,587.7 360.0,588.2 360.5,588.4 361.0,588.8 361.5,589.2 362.0,589.4 362.5,589.5 363.0,589.6 363.5,589.5 364.0,589.7 364.5,589.8 365.0,589.9 365.5,589.7 366.0,589.7 366.5,589.8 367.0,589.9 367.5,590.0 368.0,589.8 368.5,589.8 369.0,590.0 369.5,589.7 370.0,590.1 370.5,590.0 371.0,589.8 371.5,589.9 372.0,589.7 372.5,589.5 373.0,589.7 373.5,589.2 374.0,589.1 374.5,588.9 375.0,588.6 375.5,588.5 376.0,588.2 376.5,588.1 377.0,587.8 377.5,587.6 378.0,587.6 378.5,587.2 379.0,587.2 379.5,587.1 380.0,587.1 380.5,586.9 381.0,586.8 381.5,586.9 382.0,586.6 382.5,586.8 383.0,586.4 383.5,586.5 384.0,586.7 384.5,586.5 385.0,586.4 385.5,586.6 386.0,586.4 386.5,586.3 387.0,586.4 387.5,586.4 388.0,586.3 388.5,586.4 389.0,586.3 389.5,586.1 390.0,586.3 390.5,586.3 391.0,586.3 391.5,586.1 392.0,586.4 392.5,586.1 393.0,586.2 393.5,586.2 394.0,586.3 394.5,586.2 395.0,586.3 395.5,586.3 396.0,586.5 396.5,586.2 397.0,586.3 397.5,586.2 398.0,586.2 398.5,586.2 399.0,586.2 399.5,586.4 400.0,586.2 400.5,586.3 401.0,586.1 401.5,586.3 402.0,586.3 402.5,586.3 403.0,586.4 403.5,586.3 404.0,586.3 404.5,586.5 405.0,586.5 405.5,586.8 406.0,586.7 406.5,586.9 407.0,587.1 407.5,587.1 408.0,587.5 408.5,587.7 409.0,587.6 409.5,587.9 410.0,588.1 410.5,588.1 411.0,588.2 411.5,588.6 412.0,588.8 412.5,588.8 413.0,588.9 413.5,589.0 414.0,589.1 414.5,589.5 415.0,589.5 415.5,589.6 416.0,589.6 416.5,589.8 417.0,590.0 417.5,590.0 418.0,590.3 418.5,590.3 419.0,590.2 419.5,590.7 420.0,590.7 420.5,590.7 421.0,591.0 421.5,591.0 422.0,591.4 422.5,591.3 423.0,591.5 423.5,591.7 424.0,591.5 424.5,591.8 425.0,591.9 425.5,591.9 426.0,591.8 426.5,592.0 427.0,592.2 427.5,591.9 428.0,591.9 428.5,592.1 429.0,592.0 429.5,592.0 430.0,592.2 430.5,591.9 431.0,592.1 431.5,591.8 432.0,591.7 432.5,592.0 433.0,592.1 433.5,591.9 434.0,592.2 434.5,592.0 435.0,592.1 435.5,592.0 436.0,591.9 436.5,592.1 437.0,592.2 437.5,592.2 438.0,592.1 438.5,592.2 439.0,592.1 439.5,592.2 440.0,592.0 440.5,591.9 441.0,592.1 441.5,592.1 442.0,591.9 442.5,592.0 443.0,592.1 443.5,592.0 444.0,592.3 444.5,592.1 445.0,592.2 445.5,592.1 446.0,592.1 446.5,592.0 447.0,591.9 447.5,591.8 448.0,591.8 448.5,591.9 449.0,591.8 449.5,592.0 450.0,591.9 450.5,591.9 451.0,591.9 451.5,592.1 452.0,591.9 452.5,591.9 453.0,592.2 453.5,592.0 454.0,592.2 454.5,591.9 455.0,592.0 455.5,592.0 456.0,591.8 456.5,592.2 457.0,592.2 457.5,591.9 458.0,592.1 458.5,592.0 459.0,591.9 459.5,592.2 460.0,591.8 460.5,591.9 461.0,592.1 461.5,591.9 462.0,592.0 462.5,591.8 463.0,591.9 463.5,591.9 464.0,591.7 464.5,591.8 465.0,591.8 465.5,591.8 466.0,591.9 466.5,591.8 467.0,591.6 467.5,591.8 468.0,592.0 468.5,591.8 469.0,591.7 469.5,591.8 470.0,591.8 470.5,591.6 471.0,591.9 471.5,591.7 472.0,592.0 472.5,591.6 473.0,591.6 473.5,591.7 474.0,591.8 474.5,591.7 475.0,591.7 475.5,591.7 476.0,591.7 476.5,591.8 477.0,591.6 477.5,591.7 478.0,591.6 478.5,591.6 479.0,591.5 479.5,591.6 480.0,591.5 480.5,591.4 481.0,591.7 481.5,591.6 482.0,591.6 482.5,591.8 483.0,591.3 483.5,591.6 484.0,591.6 484.5,591.7 485.0,591.5 485.5,591.5 486.0,591.4 486.5,591.6 487.0,591.7 487.5,591.4 488.0,591.5 488.5,591.5 489.0,591.4 489.5,591.3 490.0,591.6 490.5,591.3 491.0,591.6 491.5,591.3 492.0,591.6 492.5,591.7 493.0,591.4 493.5,591.4 494.0,591.5 494.5,591.5 495.0,591.4 495.5,591.5 496.0,591.6 496.5,591.6 497.0,591.6 497.5,591.3 498.0,591.4 498.5,591.5 499.0,591.5 499.5,591.6 500.0,591.3 500.5,591.7 501.0,591.6 501.5,591.6 502.0,591.5 502.5,591.3 503.0,591.3 503.5,591.6 504.0,591.5 504.5,591.7 505.0,591.5 505.5,591.3 506.0,591.6 506.5,591.5 507.0,591.5 507.5,591.6 508.0,591.3 508.5,591.4 509.0,591.7 509.5,591.3 510.0,591.4 510.5,591.3 511.0,591.3 511.5,591.4 512.0,591.4 512.5,591.4 513.0,591.4 513.5,591.5 514.0,591.2 514.5,591.4 515.0,591.5 515.5,591.3 516.0,591.6" stroke-width="2.4"/>
<path d="M57.5,633.8 58.0,633.7 58.5,633.8 59.0,633.8 59.5,633.7 60.0,633.7 60.5,633.6 61.0,633.8 61.5,633.8 62.0,633.6 62.5,633.8 63.0,633.9 63.5,633.6 64.0,634.0 64.5,633.9 65.0,633.9 65.5,633.7 66.0,634.0 66.5,633.7 67.0,633.8 67.5,633.7 68.0,633.6 68.5,633.8 69.0,633.9 69.5,633.6 70.0,633.7 70.5,633.7 71.0,633.6 71.5,633.6 72.0,633.8 72.5,633.8 73.0,633.6 73.5,633.5 74.0,633.4 74.5,633.1 75.0,633.2 75.5,633.0 76.0,632.9 76.5,632.6 77.0,632.7 77.5,632.5 78.0,632.4 78.5,632.1 79.0,632.0 79.5,631.5 80.0,630.9 80.5,630.8 81.0,630.2 81.5,629.4 82.0,628.9 82.5,627.5 83.0,625.0 83.5,622.3 84.0,619.6 84.5,617.7 85.0,615.1 85.5,613.3 86.0,612.5 86.5,613.2 87.0,614.7 87.5,616.5 88.0,618.9 88.5,622.9 89.0,626.8 89.5,628.7 90.0,629.1 90.5,629.4 91.0,629.6 91.5,629.7 92.0,629.7 92.5,629.9 93.0,630.0 93.5,629.9 94.0,629.9 94.5,630.0 95.0,630.0 95.5,629.9 96.0,629.9 96.5,629.9 97.0,629.8 97.5,629.7 98.0,629.5 98.5,629.6 99.0,629.8 99.5,629.5 100.0,629.4 100.5,629.5 101.0,629.5 101.5,629.6 102.0,629.3 102.5,629.3 103.0,629.1 103.5,629.1 104.0,629.0 104.5,629.1 105.0,629.0 105.5,628.9 106.0,628.7 106.5,628.7 107.0,628.3 107.5,627.9 108.0,627.3 108.5,626.8 109.0,626.1 109.5,625.6 110.0,624.4 110.5,623.8 111.0,622.9 111.5,622.0 112.0,620.9 112.5,619.6 113.0,618.3 113.5,616.9 114.0,615.7 114.5,614.8 115.0,613.8 115.5,613.9 116.0,614.0 116.5,614.9 117.0,615.9 117.5,617.1 118.0,618.5 118.5,619.7 119.0,620.4 119.5,621.4 120.0,622.4 120.5,623.0 121.0,623.7 121.5,624.5 122.0,625.3 122.5,625.9 123.0,626.0 123.5,626.6 124.0,626.9 124.5,627.5 125.0,627.5 125.5,628.0 126.0,628.3 126.5,628.6 127.0,629.0 127.5,628.9 128.0,629.0 128.5,629.5 129.0,629.3 129.5,629.5 130.0,629.6 130.5,629.3 131.0,629.4 131.5,629.5 132.0,629.4 132.5,629.6 133.0,629.2 133.5,629.4 134.0,629.2 134.5,629.2 135.0,629.1 135.5,629.2 136.0,629.1 136.5,629.0 137.0,628.8 137.5,628.5 138.0,628.6 138.5,628.0 139.0,627.9 139.5,627.0 140.0,626.2 140.5,625.4 141.0,624.7 141.5,623.5 142.0,622.5 142.5,621.1 143.0,620.1 143.5,618.4 144.0,615.8 144.5,612.5 145.0,609.0 145.5,605.4 146.0,601.9 146.5,598.1 147.0,594.8 147.5,591.9 148.0,587.9 148.5,584.3 149.0,581.4 149.5,580.6 150.0,581.1 150.5,583.2 151.0,586.1 151.5,589.1 152.0,592.5 152.5,596.3 153.0,601.6 153.5,606.8 154.0,611.6 154.5,615.0 155.0,617.2 155.5,619.4 156.0,621.3 156.5,622.8 157.0,624.5 157.5,625.6 158.0,626.4 158.5,626.7 159.0,627.3 159.5,627.5 160.0,628.0 160.5,628.1 161.0,628.6 161.5,629.0 162.0,629.0 162.5,629.3 163.0,629.7 163.5,629.6 164.0,629.5 164.5,629.6 165.0,629.6 165.5,629.4 166.0,629.7 166.5,629.5 167.0,629.4 167.5,629.3 168.0,629.0 168.5,629.0 169.0,629.0 169.5,628.8 170.0,628.8 170.5,628.6 171.0,628.4 171.5,628.3 172.0,627.8 172.5,627.7 173.0,627.1 173.5,626.4 174.0,625.8 174.5,624.6 175.0,623.0 175.5,620.4 176.0,617.7 176.5,614.5 177.0,610.1 177.5,602.1 178.0,592.6 178.5,583.6 179.0,576.7 179.5,570.5 180.0,567.4 180.5,570.0 181.0,576.5 181.5,584.1 182.0,590.8 182.5,599.0 183.0,607.0 183.5,613.1 184.0,616.2 184.5,618.4 185.0,619.9 185.5,621.9 186.0,622.9 186.5,623.7 187.0,624.6 187.5,624.8 188.0,625.3 188.5,625.6 189.0,625.6 189.5,625.9 190.0,626.2 190.5,626.5 191.0,626.8 191.5,626.9 192.0,627.0 192.5,627.3 193.0,627.4 193.5,627.4 194.0,627.4 194.5,627.3 195.0,627.5 195.5,627.7 196.0,627.5 196.5,627.6 197.0,627.2 197.5,627.4 198.0,627.2 198.5,627.4 199.0,627.3 199.5,627.2 200.0,627.3 200.5,627.0 201.0,627.1 201.5,626.9 202.0,626.7 202.5,626.7 203.0,626.7 203.5,626.5 204.0,626.5 204.5,626.4 205.0,626.2 205.5,625.8 206.0,625.9 206.5,625.8 207.0,625.3 207.5,625.2 208.0,624.6 208.5,624.6 209.0,624.4 209.5,624.0 210.0,623.8 210.5,623.4 211.0,623.6 211.5,623.2 212.0,623.2 212.5,623.3 213.0,623.0 213.5,623.4 214.0,624.4 214.5,625.4 215.0,626.6 215.5,627.6 216.0,628.0 216.5,628.5 217.0,628.9 217.5,629.5 218.0,629.6 218.5,629.9 219.0,630.0 219.5,630.1 220.0,630.0 220.5,630.1 221.0,630.3 221.5,630.3 222.0,630.3 222.5,630.3 223.0,630.1 223.5,630.3 224.0,630.4 224.5,630.4 225.0,630.4 225.5,630.2 226.0,630.5 226.5,630.4 227.0,630.5 227.5,630.6 228.0,630.5 228.5,630.5 229.0,630.4 229.5,630.6 230.0,630.3 230.5,630.4 231.0,630.2 231.5,630.5 232.0,630.4 232.5,630.4 233.0,630.4 233.5,630.7 234.0,630.6 234.5,630.6 235.0,630.4 235.5,630.6 236.0,630.5 236.5,630.4 237.0,630.3 237.5,630.5 238.0,630.1 238.5,630.3 239.0,630.1 239.5,630.4 240.0,630.4 240.5,630.5 241.0,630.2 241.5,630.4 242.0,630.5 242.5,630.2 243.0,630.1 243.5,630.2 244.0,630.1 244.5,630.3 245.0,630.1 245.5,630.2 246.0,630.1 246.5,629.9 247.0,630.0 247.5,630.0 248.0,629.9 248.5,629.8 249.0,629.5 249.5,629.4 250.0,628.8 250.5,628.7 251.0,628.6 251.5,628.2 252.0,627.9 252.5,627.6 253.0,627.5 253.5,627.5 254.0,627.3 254.5,627.5 255.0,627.5 255.5,627.3 256.0,627.3 256.5,627.6 257.0,627.6 257.5,627.8 258.0,627.9 258.5,627.3 259.0,627.6 259.5,627.9 260.0,627.8 260.5,628.0 261.0,628.0 261.5,627.9 262.0,628.0 262.5,627.9 263.0,627.8 263.5,628.0 264.0,628.1 264.5,628.1 265.0,627.9 265.5,628.2 266.0,628.1 266.5,628.1 267.0,627.7 267.5,627.8 268.0,627.8 268.5,627.8 269.0,627.6 269.5,627.7 270.0,627.9 270.5,627.6 271.0,627.9 271.5,627.4 272.0,627.5 272.5,627.4 273.0,627.2 273.5,627.3 274.0,627.2 274.5,627.1 275.0,627.1 275.5,627.0 276.0,626.6 276.5,626.7 277.0,626.2 277.5,625.9 278.0,625.9 278.5,625.6 279.0,624.9 279.5,624.6 280.0,624.0 280.5,623.6 281.0,622.8 281.5,622.0 282.0,620.0 282.5,617.6 283.0,614.3 283.5,610.9 284.0,607.0 284.5,602.8 285.0,596.9 285.5,590.9 286.0,585.7 286.5,583.8 287.0,585.9 287.5,591.0 288.0,597.2 288.5,603.0 289.0,606.8 289.5,610.5 290.0,613.6 290.5,615.7 291.0,616.3 291.5,617.0 292.0,617.6 292.5,617.9 293.0,618.5 293.5,619.2 294.0,619.9 294.5,620.5 295.0,621.2 295.5,621.7 296.0,622.3 296.5,622.6 297.0,622.7 297.5,622.7 298.0,622.9 298.5,623.0 299.0,623.0 299.5,622.9 300.0,623.0 300.5,623.0 301.0,623.0 301.5,622.9 302.0,623.2 302.5,623.0 303.0,623.0 303.5,622.9 304.0,623.0 304.5,623.1 305.0,622.9 305.5,623.0 306.0,623.0 306.5,622.9 307.0,623.2 307.5,622.9 308.0,623.1 308.5,622.9 309.0,623.0 309.5,622.9 310.0,622.9 310.5,623.0 311.0,622.7 311.5,622.8 312.0,622.9 312.5,623.1 313.0,622.8 313.5,622.6 314.0,622.8 314.5,622.6 315.0,622.4 315.5,622.3 316.0,622.2 316.5,622.3 317.0,622.0 317.5,621.8 318.0,621.9 318.5,621.9 319.0,621.5 319.5,621.6 320.0,621.2 320.5,621.3 321.0,621.1 321.5,621.0 322.0,620.6 322.5,620.8 323.0,620.5 323.5,620.4 324.0,620.1 324.5,620.3 325.0,619.9 325.5,619.9 326.0,619.7 326.5,619.5 327.0,619.5 327.5,619.3 328.0,619.2 328.5,618.8 329.0,618.8 329.5,618.4 330.0,618.4 330.5,618.0 331.0,618.0 331.5,617.8 332.0,617.5 332.5,617.3 333.0,617.1 333.5,617.1 334.0,616.7 334.5,616.5 335.0,616.3 335.5,616.2 336.0,615.9 336.5,615.6 337.0,615.0 337.5,615.1 338.0,614.6 338.5,614.5 339.0,614.0 339.5,613.7 340.0,613.2 340.5,612.8 341.0,612.5 341.5,611.9 342.0,611.8 342.5,611.2 343.0,610.8 343.5,610.3 344.0,610.1 344.5,609.6 345.0,609.5 345.5,609.0 346.0,608.9 346.5,608.6 347.0,608.4 347.5,608.3 348.0,608.0 348.5,607.7 349.0,607.7 349.5,607.5 350.0,607.5 350.5,607.3 351.0,607.6 351.5,608.1 352.0,608.6 352.5,609.2 353.0,610.0 353.5,610.9 354.0,611.7 354.5,612.5 355.0,613.7 355.5,614.7 356.0,615.8 356.5,617.2 357.0,618.1 357.5,618.8 358.0,619.5 358.5,619.9 359.0,620.7 359.5,621.2 360.0,621.5 360.5,622.0 361.0,622.2 361.5,622.5 362.0,623.0 362.5,623.1 363.0,622.9 363.5,623.1 364.0,623.1 364.5,622.9 365.0,623.2 365.5,623.2 366.0,623.2 366.5,623.1 367.0,623.0 367.5,623.3 368.0,623.4 368.5,623.6 369.0,623.0 369.5,623.2 370.0,623.4 370.5,623.3 371.0,623.3 371.5,623.0 372.0,622.9 372.5,623.1 373.0,622.7 373.5,622.7 374.0,622.5 374.5,622.5 375.0,622.4 375.5,622.4 376.0,622.1 376.5,622.1 377.0,621.8 377.5,621.6 378.0,621.3 378.5,621.4 379.0,621.1 379.5,621.3 380.0,620.9 380.5,620.9 381.0,620.8 381.5,620.3 382.0,620.5 382.5,620.5 383.0,620.5 383.5,620.4 384.0,620.5 384.5,620.4 385.0,620.4 385.5,620.4 386.0,620.0 386.5,620.3 387.0,620.1 387.5,619.9 388.0,620.1 388.5,620.2 389.0,620.1 389.5,620.1 390.0,620.0 390.5,620.2 391.0,620.1 391.5,620.0 392.0,619.9 392.5,620.0 393.0,619.8 393.5,620.1 394.0,620.1 394.5,620.0 395.0,619.8 395.5,619.9 396.0,620.2 396.5,620.2 397.0,620.1 397.5,620.2 398.0,620.1 398.5,619.9 399.0,619.9 399.5,620.1 400.0,620.1 400.5,619.7 401.0,620.0 401.5,619.9 402.0,619.8 402.5,619.9 403.0,620.0 403.5,620.0 404.0,620.0 404.5,620.1 405.0,620.0 405.5,619.9 406.0,620.3 406.5,620.3 407.0,620.0 407.5,620.0 408.0,620.1 408.5,620.3 409.0,620.4 409.5,620.3 410.0,620.5 410.5,620.6 411.0,620.8 411.5,620.8 412.0,620.9 412.5,621.0 413.0,620.9 413.5,621.2 414.0,621.1 414.5,621.5 415.0,621.6 415.5,621.6 416.0,621.7 416.5,622.1 417.0,622.1 417.5,622.1 418.0,622.1 418.5,622.3 419.0,622.2 419.5,622.4 420.0,622.2 420.5,622.6 421.0,622.4 421.5,622.7 422.0,622.8 422.5,623.1 423.0,623.0 423.5,623.0 424.0,623.2 424.5,623.3 425.0,623.4 425.5,623.3 426.0,623.5 426.5,623.4 427.0,623.6 427.5,623.6 428.0,623.8 428.5,623.6 429.0,623.9 429.5,623.9 430.0,623.8 430.5,623.6 431.0,623.8 431.5,623.7 432.0,623.8 432.5,623.8 433.0,623.8 433.5,623.8 434.0,623.5 434.5,623.8 435.0,623.7 435.5,623.8 436.0,623.4 436.5,623.6 437.0,623.7 437.5,623.5 438.0,623.8 438.5,623.8 439.0,623.8 439.5,623.7 440.0,623.7 440.5,623.9 441.0,623.7 441.5,624.0 442.0,623.8 442.5,623.7 443.0,623.9 443.5,623.9 444.0,623.5 444.5,623.8 445.0,623.7 445.5,623.7 446.0,624.0 446.5,623.9 447.0,624.0 447.5,623.9 448.0,623.8 448.5,623.7 449.0,623.8 449.5,623.8 450.0,623.7 450.5,623.7 451.0,623.9 451.5,623.8 452.0,624.0 452.5,623.7 453.0,623.8 453.5,623.8 454.0,624.0 454.5,623.7 455.0,623.7 455.5,623.8 456.0,623.7 456.5,623.9 457.0,623.8 457.5,623.8 458.0,623.7 458.5,623.4 459.0,623.5 459.5,623.6 460.0,623.5 460.5,623.7 461.0,623.8 461.5,623.5 462.0,623.4 462.5,623.6 463.0,623.7 463.5,623.5 464.0,623.4 464.5,623.5 465.0,623.3 465.5,623.3 466.0,623.4 466.5,623.2 467.0,623.3 467.5,623.3 468.0,623.2 468.5,623.4 469.0,623.5 469.5,623.3 470.0,623.1 470.5,623.2 471.0,623.3 471.5,623.1 472.0,623.1 472.5,623.1 473.0,623.1 473.5,623.1 474.0,623.1 474.5,623.1 475.0,623.2 475.5,623.2 476.0,623.1 476.5,623.1 477.0,623.1 477.5,623.0 478.0,623.1 478.5,622.8 479.0,623.0 479.5,622.9 480.0,623.0 480.5,623.1 481.0,623.1 481.5,623.2 482.0,622.6 482.5,623.0 483.0,622.9 483.5,623.1 484.0,622.8 484.5,622.9 485.0,622.8 485.5,622.8 486.0,622.7 486.5,622.9 487.0,622.8 487.5,622.8 488.0,623.0 488.5,622.7 489.0,622.9 489.5,622.8 490.0,622.8 490.5,622.8 491.0,622.7 491.5,623.1 492.0,622.6 492.5,622.7 493.0,622.7 493.5,622.9 494.0,622.8 494.5,622.8 495.0,622.7 495.5,622.7 496.0,622.8 496.5,622.9 497.0,622.6 497.5,622.4 498.0,622.8 498.5,622.7 499.0,622.7 499.5,622.5 500.0,622.7 500.5,622.7 501.0,622.8 501.5,622.9 502.0,622.6 502.5,622.6 503.0,622.6 503.5,622.6 504.0,622.3 504.5,622.5 505.0,622.5 505.5,622.8 506.0,622.7 506.5,622.5 507.0,622.5 507.5,622.5 508.0,622.4 508.5,622.6 509.0,622.7 509.5,622.5 510.0,622.3 510.5,622.5 511.0,622.6 511.5,622.5 512.0,622.4 512.5,622.5 513.0,622.8 513.5,622.6 514.0,622.6 514.5,622.4 515.0,622.5 515.5,622.4 516.0,622.6" stroke-width="2.4"/>
<path d="M51.2,727.2 51.8,727.1 52.2,727.1 52.8,726.0 53.2,725.1 53.8,723.7 54.2,722.5 54.8,720.6 55.2,718.9 55.8,716.5 56.2,712.8 56.8,708.1 57.2,703.9 57.8,699.6 58.2,695.6 58.8,690.6 59.2,685.5 59.8,680.5 60.2,676.8 60.8,673.7 61.2,670.2 61.8,668.0 62.2,666.0 62.8,666.4 63.2,667.8 63.8,670.4 64.2,673.2 64.8,677.0 65.2,682.4 65.8,689.1 66.2,695.0 66.8,699.3 67.2,703.5 67.8,706.8 68.2,709.7 68.8,711.2 69.2,712.3 69.8,713.3 70.2,713.8 70.8,714.3 71.2,714.8 71.8,715.3 72.2,716.1 72.8,716.6 73.2,717.1 73.8,717.6 74.2,718.2 74.8,718.7 75.2,718.9 75.8,719.5 76.2,720.5 76.8,720.9 77.2,721.8 77.8,722.6 78.2,723.8 78.8,725.2 79.2,726.9 79.8,728.1 80.2,729.6 80.8,730.6 81.2,731.5 81.8,732.7 82.2,734.0 82.8,735.3 83.2,736.2 83.8,736.6 84.2,737.8 84.8,738.2 85.2,738.8 85.8,739.4 86.2,739.6 86.8,740.4 87.2,740.6 87.8,740.8 88.2,741.4 88.8,741.4 89.2,741.6 89.8,741.8 90.2,742.1 90.8,742.3 91.2,742.1 91.8,742.6 92.2,742.3 92.8,742.5 93.2,742.5 93.8,742.6 94.2,742.4 94.8,742.7 95.2,742.6 95.8,742.6 96.2,742.6 96.8,742.9 97.2,742.8 97.8,742.9 98.2,742.8 98.8,742.7 99.2,742.8 99.8,743.2 100.2,743.1 100.8,743.1 101.2,743.1 101.8,742.9 102.2,743.2 102.8,742.8 103.2,743.0 103.8,743.0 104.2,743.0 104.8,742.9 105.2,743.3 105.8,742.9 106.2,743.3 106.8,743.2 107.2,743.2 107.8,743.2 108.2,743.1 108.8,743.1 109.2,743.4 109.8,743.2 110.2,743.1 110.8,743.4 111.2,743.5 111.8,743.0 112.2,743.2 112.8,743.2 113.2,743.1 113.8,743.0 114.2,743.3 114.8,743.1 115.2,743.2 115.8,742.8 116.2,742.8 116.8,742.8 117.2,742.8 117.8,742.8 118.2,742.6 118.8,742.2 119.2,742.3 119.8,742.6 120.2,742.1 120.8,742.2 121.2,741.9 121.8,741.9 122.2,741.7 122.8,741.1 123.2,741.0 123.8,740.9 124.2,740.2 124.8,739.9 125.2,739.6 125.8,739.2 126.2,738.5 126.8,738.4 127.2,737.5 127.8,736.8 128.2,736.0 128.8,735.2 129.2,734.7 129.8,734.0 130.2,733.8 130.8,733.8 131.2,734.0 131.8,734.4 132.2,734.7 132.8,735.6 133.2,735.9 133.8,736.6 134.2,736.9 134.8,736.9 135.2,737.2 135.8,737.3 136.2,737.5 136.8,737.5 137.2,737.9 137.8,737.8 138.2,738.0 138.8,737.8 139.2,737.9 139.8,738.0 140.2,737.8 140.8,737.9 141.2,738.2 141.8,737.9 142.2,737.9 142.8,737.7 143.2,738.0 143.8,737.7 144.2,737.6 144.8,737.8 145.2,737.6 145.8,737.4 146.2,737.5 146.8,737.7 147.2,737.5 147.8,737.6 148.2,737.6 148.8,737.6 149.2,737.7 149.8,737.5 150.2,737.7 150.8,737.5 151.2,737.7 151.8,737.7 152.2,737.8 152.8,738.2 153.2,737.9 153.8,738.0 154.2,738.2 154.8,738.3 155.2,738.4 155.8,738.5 156.2,738.6 156.8,738.6 157.2,738.6 157.8,739.0 158.2,739.0 158.8,739.0 159.2,739.6 159.8,739.6 160.2,739.6 160.8,739.5 161.2,739.8 161.8,739.9 162.2,740.0 162.8,740.4 163.2,740.4 163.8,740.3 164.2,740.6 164.8,740.4 165.2,740.9 165.8,741.0 166.2,741.2 166.8,740.7 167.2,741.4 167.8,741.1 168.2,741.3 168.8,741.1 169.2,741.3 169.8,741.3 170.2,741.2 170.8,741.1 171.2,740.5 171.8,739.9 172.2,739.3 172.8,738.6 173.2,738.4 173.8,737.9 174.2,738.0 174.8,737.4 175.2,737.4 175.8,736.7 176.2,737.1 176.8,737.2 177.2,737.8 177.8,738.5 178.2,739.1 178.8,740.1 179.2,740.5 179.8,741.0 180.2,741.6 180.8,741.7 181.2,742.2 181.8,742.1 182.2,742.5 182.8,742.8 183.2,742.9 183.8,743.3 184.2,743.8 184.8,743.4 185.2,743.8 185.8,743.7 186.2,743.5 186.8,743.6 187.2,743.7 187.8,743.6 188.2,743.9 188.8,744.1 189.2,743.7 189.8,744.0 190.2,743.9 190.8,744.3 191.2,744.4 191.8,744.2 192.2,744.2 192.8,744.2 193.2,744.3 193.8,744.5 194.2,744.4 194.8,744.4 195.2,744.6 195.8,744.4 196.2,744.4 196.8,744.3 197.2,744.2 197.8,744.5 198.2,744.4 198.8,744.6 199.2,744.3 199.8,744.3 200.2,744.5 200.8,744.4 201.2,744.4 201.8,744.5 202.2,744.4 202.8,744.5 203.2,744.9 203.8,744.6 204.2,744.5 204.8,744.6 205.2,744.5 205.8,744.7 206.2,744.8 206.8,744.6 207.2,744.6 207.8,744.8 208.2,744.4 208.8,744.9 209.2,744.6 209.8,744.4 210.2,744.7 210.8,744.6 211.2,744.5 211.8,744.6 212.2,744.8 212.8,744.8 213.2,744.5 213.8,744.8 214.2,744.7 214.8,744.8 215.2,744.9 215.8,744.9 216.2,745.0 216.8,744.7 217.2,744.9 217.8,744.9 218.2,744.8 218.8,744.8 219.2,744.7 219.8,744.7 220.2,745.2 220.8,744.8 221.2,744.9 221.8,744.9 222.2,744.9 222.8,745.0 223.2,745.0 223.8,744.8 224.2,745.1 224.8,745.0 225.2,744.9 225.8,744.9 226.2,745.1 226.8,745.2 227.2,744.9 227.8,745.0 228.2,744.9 228.8,744.8 229.2,745.0 229.8,745.1 230.2,745.3 230.8,744.9 231.2,744.8 231.8,744.7 232.2,744.8 232.8,745.1 233.2,745.1 233.8,745.3 234.2,745.1 234.8,745.0 235.2,745.1 235.8,745.2 236.2,744.7 236.8,744.7 237.2,745.0 237.8,745.1 238.2,744.7 238.8,744.9 239.2,744.8 239.8,745.0 240.2,745.2 240.8,745.1 241.2,745.1 241.8,744.9 242.2,744.9 242.8,745.1 243.2,744.9 243.8,745.0 244.2,745.0 244.8,744.8 245.2,744.6 245.8,745.1 246.2,744.9 246.8,745.0 247.2,745.0 247.8,744.7 248.2,744.9 248.8,744.8 249.2,744.8 249.8,744.8 250.2,744.9 250.8,744.9 251.2,744.7 251.8,744.9 252.2,745.1 252.8,744.8 253.2,745.0 253.8,744.8 254.2,744.7 254.8,744.7 255.2,745.0 255.8,744.8 256.2,744.6 256.8,744.9 257.2,744.7 257.8,744.8 258.2,744.5 258.8,744.6 259.2,744.7 259.8,744.8 260.2,744.8 260.8,744.7 261.2,744.6 261.8,744.9 262.2,744.6 262.8,744.6 263.2,744.4 263.8,744.8 264.2,744.8 264.8,744.8 265.2,744.5 265.8,744.8 266.2,744.6 266.8,744.3 267.2,744.6 267.8,744.5 268.2,744.6 268.8,744.4 269.2,744.3 269.8,744.5 270.2,744.9 270.8,744.4 271.2,744.4 271.8,744.3 272.2,744.2 272.8,744.3 273.2,744.5 273.8,744.1 274.2,744.2 274.8,744.2 275.2,744.4 275.8,744.2 276.2,744.2 276.8,744.5 277.2,744.4 277.8,744.2 278.2,744.0 278.8,744.1 279.2,743.7 279.8,743.7 280.2,743.9 280.8,743.9 281.2,744.0 281.8,743.8 282.2,743.7 282.8,743.8 283.2,743.8 283.8,743.9 284.2,743.9 284.8,743.9 285.2,744.0 285.8,743.8 286.2,743.8 286.8,743.9 287.2,743.8 287.8,743.5 288.2,743.9 288.8,743.8 289.2,743.6 289.8,743.9 290.2,743.6 290.8,744.0 291.2,743.3 291.8,743.6 292.2,743.3 292.8,743.2 293.2,743.2 293.8,743.0 294.2,742.8 294.8,742.6 295.2,742.1 295.8,742.0 296.2,741.7 296.8,741.6 297.2,741.0 297.8,741.3 298.2,741.0 298.8,740.9 299.2,740.7 299.8,740.4 300.2,740.3 300.8,740.3 301.2,740.0 301.8,740.1 302.2,740.1 302.8,740.1 303.2,739.9 303.8,740.2 304.2,739.7 304.8,739.8 305.2,739.7 305.8,739.4 306.2,739.6 306.8,739.2 307.2,739.4 307.8,739.3 308.2,739.3 308.8,739.4 309.2,739.5 309.8,739.3 310.2,739.4 310.8,739.2 311.2,739.1 311.8,739.3 312.2,739.1 312.8,739.4 313.2,739.6 313.8,739.7 314.2,739.8 314.8,739.6 315.2,740.0 315.8,740.1 316.2,740.1 316.8,740.2 317.2,740.5 317.8,740.8 318.2,740.8 318.8,740.9 319.2,741.3 319.8,741.2 320.2,741.3 320.8,741.7 321.2,741.9 321.8,741.7 322.2,741.8 322.8,741.9 323.2,742.0 323.8,742.2 324.2,742.6 324.8,742.8 325.2,742.6 325.8,742.8 326.2,743.0 326.8,743.1 327.2,743.1 327.8,743.2 328.2,743.2 328.8,743.6 329.2,743.7 329.8,743.7 330.2,743.9 330.8,743.8 331.2,743.9 331.8,743.6 332.2,744.3 332.8,743.9 333.2,744.3 333.8,744.4 334.2,744.3 334.8,744.4 335.2,744.4 335.8,744.5 336.2,744.5 336.8,744.3 337.2,744.6 337.8,744.4 338.2,744.8 338.8,744.8 339.2,744.9 339.8,744.7 340.2,744.6 340.8,744.9 341.2,744.8 341.8,744.9 342.2,744.8 342.8,744.8 343.2,745.1 343.8,745.0 344.2,745.0 344.8,745.3 345.2,745.2 345.8,745.0 346.2,745.2 346.8,744.9 347.2,744.9 347.8,745.0 348.2,745.0 348.8,745.0 349.2,745.2 349.8,744.8 350.2,745.1 350.8,745.0 351.2,745.0 351.8,744.8 352.2,744.8 352.8,744.8 353.2,744.8 353.8,744.7 354.2,744.9 354.8,744.7 355.2,744.6 355.8,744.8 356.2,744.8 356.8,744.6 357.2,744.7 357.8,744.6 358.2,744.6 358.8,744.5 359.2,744.7 359.8,744.7 360.2,744.6 360.8,744.7 361.2,744.6 361.8,744.8 362.2,744.6 362.8,744.5 363.2,744.6 363.8,744.5 364.2,744.3 364.8,744.4 365.2,744.6 365.8,744.4 366.2,744.6 366.8,744.2 367.2,744.4 367.8,744.3 368.2,744.2 368.8,744.3 369.2,744.2 369.8,744.6 370.2,744.4 370.8,744.2 371.2,744.5 371.8,744.2 372.2,744.2 372.8,744.3 373.2,744.2 373.8,744.1 374.2,744.0 374.8,744.1 375.2,744.0 375.8,743.9 376.2,744.0 376.8,743.9 377.2,743.8 377.8,743.8 378.2,744.1 378.8,744.1 379.2,743.9 379.8,743.8 380.2,743.8 380.8,743.9 381.2,744.0 381.8,743.7 382.2,743.6 382.8,743.7 383.2,743.8 383.8,743.8 384.2,744.0 384.8,743.5 385.2,743.7 385.8,743.8 386.2,743.6 386.8,743.7 387.2,743.5 387.8,743.7 388.2,743.9 388.8,744.1 389.2,743.8 389.8,744.0 390.2,744.2 390.8,744.1 391.2,744.1 391.8,744.1 392.2,744.0 392.8,744.0 393.2,744.1 393.8,744.2 394.2,744.1 394.8,744.3 395.2,744.3 395.8,744.2 396.2,744.3 396.8,744.0 397.2,744.1 397.8,744.3 398.2,744.2 398.8,744.1 399.2,744.3 399.8,744.1 400.2,744.4 400.8,744.4 401.2,744.3 401.8,744.4 402.2,744.3 402.8,744.5 403.2,744.2 403.8,744.5 404.2,744.4 404.8,744.4 405.2,744.3 405.8,744.3 406.2,744.5 406.8,744.4 407.2,744.4 407.8,744.7 408.2,744.3 408.8,744.3 409.2,744.3 409.8,744.2 410.2,744.5 410.8,744.5 411.2,744.3 411.8,744.3 412.2,744.5 412.8,744.4 413.2,744.7 413.8,744.7 414.2,744.5 414.8,744.5 415.2,744.6 415.8,744.3 416.2,744.6 416.8,744.7 417.2,744.3 417.8,744.5 418.2,744.7 418.8,744.6 419.2,744.5 419.8,744.8 420.2,744.6 420.8,744.7 421.2,744.5 421.8,744.6 422.2,744.4 422.8,744.4 423.2,744.5 423.8,744.7 424.2,744.8 424.8,744.5 425.2,744.8 425.8,744.5 426.2,744.5 426.8,744.7 427.2,744.7 427.8,744.6 428.2,744.7 428.8,744.7 429.2,744.8 429.8,744.6 430.2,744.6 430.8,745.1 431.2,744.8 431.8,744.6 432.2,744.8 432.8,744.8 433.2,744.8 433.8,744.5 434.2,744.7 434.8,744.8 435.2,744.9 435.8,744.9 436.2,744.8 436.8,744.6 437.2,745.0 437.8,744.6 438.2,744.8 438.8,744.9 439.2,744.7 439.8,745.0 440.2,744.8 440.8,744.9 441.2,744.9 441.8,744.8 442.2,744.6 442.8,744.9 443.2,744.9 443.8,744.8 444.2,744.8 444.8,744.7 445.2,744.6 445.8,744.9 446.2,744.6 446.8,744.9 447.2,744.7 447.8,744.7 448.2,744.6 448.8,744.7 449.2,744.8 449.8,744.8 450.2,744.8 450.8,744.8 451.2,744.7 451.8,744.8 452.2,744.7 452.8,744.9 453.2,744.9 453.8,744.8 454.2,745.0 454.8,744.7 455.2,744.7 455.8,744.8 456.2,745.1 456.8,744.8 457.2,744.8 457.8,744.8 458.2,744.9 458.8,744.8 459.2,745.0 459.8,744.9 460.2,745.0 460.8,744.5 461.2,744.7 461.8,744.8 462.2,744.6 462.8,744.7 463.2,744.9 463.8,744.9 464.2,744.9 464.8,744.6 465.2,745.0 465.8,744.7 466.2,744.9 466.8,744.7 467.2,744.9 467.8,744.8 468.2,744.7 468.8,744.7 469.2,744.8 469.8,745.0 470.2,744.7 470.8,744.9 471.2,744.8 471.8,744.8 472.2,744.9 472.8,744.9 473.2,744.8 473.8,744.7 474.2,744.7 474.8,744.9 475.2,745.0 475.8,744.9 476.2,744.8 476.8,744.8 477.2,744.7 477.8,744.8 478.2,744.7 478.8,744.7 479.2,744.7 479.8,744.6 480.2,744.8 480.8,744.8 481.2,745.0 481.8,744.7 482.2,745.2 482.8,744.8 483.2,744.7 483.8,744.9 484.2,744.7 484.8,744.9 485.2,744.7 485.8,744.6 486.2,745.1 486.8,744.9 487.2,744.8 487.8,744.7 488.2,744.7 488.8,744.7 489.2,744.8 489.8,744.8 490.2,744.5 490.8,745.0 491.2,744.9 491.8,744.9 492.2,744.6 492.8,744.7 493.2,744.7 493.8,744.8 494.2,744.5 494.8,744.9 495.2,744.7 495.8,744.4 496.2,744.8 496.8,744.6 497.2,744.9 497.8,744.5 498.2,744.7 498.8,744.6 499.2,744.8 499.8,744.6 500.2,744.6 500.8,744.7 501.2,744.6 501.8,744.9 502.2,744.7 502.8,744.7 503.2,744.8 503.8,744.8 504.2,744.8 504.8,744.7 505.2,744.7 505.8,744.7 506.2,744.8 506.8,744.7 507.2,744.9 507.8,744.6 508.2,744.6 508.8,744.8 509.2,744.8 509.8,744.9 510.2,744.8 510.8,744.8 511.2,745.0 511.8,744.9 512.2,744.6 512.8,744.8 513.2,744.6 513.8,744.8 514.2,744.7 514.8,744.7 515.2,744.6 515.8,744.8 516.2,744.8" stroke-width="2.4"/>
<path d="M51.2,762.6 51.8,762.5 52.2,762.2 52.8,762.0 53.2,761.7 53.8,760.9 54.2,760.3 54.8,759.8 55.2,759.1 55.8,758.5 56.2,757.7 56.8,756.6 57.2,754.6 57.8,752.8 58.2,750.5 58.8,747.7 59.2,744.9 59.8,741.7 60.2,738.3 60.8,734.3 61.2,729.3 61.8,723.8 62.2,719.1 62.8,714.3 63.2,710.6 63.8,706.3 64.2,702.7 64.8,699.7 65.2,697.7 65.8,697.4 66.2,698.7 66.8,701.2 67.2,703.6 67.8,706.9 68.2,712.3 68.8,718.6 69.2,724.9 69.8,730.3 70.2,735.0 70.8,739.9 71.2,742.6 71.8,743.8 72.2,744.7 72.8,745.3 73.2,745.8 73.8,746.5 74.2,746.6 74.8,746.4 75.2,746.7 75.8,747.1 76.2,747.1 76.8,747.1 77.2,747.4 77.8,747.6 78.2,748.1 78.8,748.6 79.2,749.3 79.8,749.9 80.2,751.0 80.8,751.6 81.2,752.9 81.8,754.3 82.2,755.7 82.8,757.1 83.2,758.6 83.8,760.0 84.2,760.9 84.8,762.4 85.2,763.9 85.8,764.5 86.2,765.6 86.8,766.6 87.2,767.1 87.8,767.6 88.2,768.2 88.8,768.6 89.2,769.0 89.8,769.5 90.2,769.8 90.8,770.2 91.2,770.6 91.8,770.7 92.2,771.0 92.8,771.0 93.2,771.3 93.8,771.5 94.2,771.3 94.8,771.4 95.2,771.3 95.8,771.5 96.2,771.6 96.8,771.7 97.2,771.7 97.8,772.0 98.2,772.0 98.8,772.0 99.2,772.2 99.8,771.8 100.2,771.7 100.8,771.9 101.2,771.9 101.8,771.9 102.2,771.9 102.8,772.1 103.2,772.2 103.8,772.0 104.2,772.1 104.8,772.0 105.2,772.0 105.8,772.2 106.2,772.0 106.8,772.1 107.2,772.0 107.8,771.9 108.2,772.1 108.8,772.4 109.2,772.0 109.8,772.2 110.2,772.2 110.8,772.1 111.2,772.0 111.8,772.0 112.2,771.8 112.8,771.9 113.2,772.1 113.8,772.1 114.2,771.9 114.8,772.2 115.2,771.7 115.8,771.8 116.2,771.9 116.8,771.7 117.2,771.8 117.8,771.9 118.2,771.6 118.8,771.6 119.2,771.8 119.8,771.9 120.2,771.6 120.8,771.7 121.2,771.2 121.8,771.3 122.2,771.5 122.8,771.3 123.2,770.9 123.8,770.4 124.2,769.8 124.8,769.5 125.2,768.8 125.8,768.0 126.2,767.4 126.8,766.6 127.2,765.8 127.8,765.0 128.2,764.1 128.8,763.1 129.2,762.4 129.8,761.4 130.2,760.7 130.8,760.4 131.2,760.1 131.8,760.2 132.2,760.8 132.8,761.6 133.2,762.3 133.8,763.3 134.2,764.0 134.8,764.7 135.2,765.2 135.8,765.5 136.2,766.0 136.8,766.3 137.2,766.9 137.8,766.9 138.2,767.2 138.8,767.2 139.2,767.4 139.8,767.5 140.2,767.7 140.8,767.5 141.2,767.5 141.8,767.4 142.2,767.5 142.8,767.6 143.2,767.2 143.8,767.5 144.2,767.3 144.8,767.1 145.2,767.2 145.8,767.3 146.2,767.3 146.8,767.0 147.2,767.1 147.8,767.3 148.2,767.2 148.8,767.3 149.2,767.2 149.8,767.0 150.2,767.1 150.8,766.9 151.2,767.1 151.8,767.2 152.2,767.1 152.8,767.0 153.2,766.9 153.8,767.1 154.2,766.8 154.8,767.1 155.2,767.4 155.8,767.2 156.2,767.0 156.8,767.2 157.2,767.2 157.8,767.5 158.2,767.1 158.8,767.4 159.2,767.4 159.8,767.6 160.2,767.6 160.8,767.5 161.2,767.8 161.8,767.7 162.2,768.0 162.8,768.0 163.2,768.1 163.8,768.1 164.2,768.2 164.8,768.3 165.2,768.5 165.8,768.3 166.2,769.0 166.8,768.9 167.2,769.1 167.8,769.0 168.2,769.2 168.8,769.3 169.2,769.8 169.8,769.9 170.2,769.9 170.8,769.8 171.2,769.1 171.8,768.4 172.2,767.6 172.8,767.3 173.2,767.0 173.8,766.3 174.2,765.9 174.8,765.2 175.2,765.2 175.8,764.5 176.2,764.7 176.8,765.1 177.2,765.3 177.8,765.8 178.2,766.9 178.8,767.7 179.2,768.6 179.8,769.4 180.2,769.9 180.8,770.2 181.2,770.3 181.8,770.7 182.2,770.8 182.8,771.3 183.2,771.4 183.8,771.8 184.2,772.0 184.8,772.1 185.2,772.2 185.8,772.3 186.2,772.7 186.8,772.7 187.2,772.9 187.8,772.8 188.2,773.1 188.8,773.1 189.2,773.3 189.8,773.6 190.2,773.5 190.8,773.6 191.2,773.3 191.8,773.6 192.2,773.5 192.8,773.7 193.2,774.0 193.8,774.2 194.2,774.0 194.8,773.8 195.2,774.3 195.8,774.4 196.2,774.2 196.8,774.0 197.2,774.5 197.8,774.4 198.2,774.4 198.8,774.2 199.2,774.4 199.8,774.7 200.2,774.4 200.8,774.6 201.2,774.5 201.8,774.6 202.2,774.7 202.8,774.5 203.2,774.6 203.8,774.6 204.2,774.5 204.8,774.7 205.2,774.6 205.8,774.5 206.2,774.9 206.8,774.8 207.2,774.7 207.8,774.8 208.2,774.5 208.8,774.7 209.2,774.8 209.8,774.8 210.2,774.6 210.8,774.8 211.2,774.8 211.8,774.6 212.2,775.1 212.8,774.7 213.2,774.6 213.8,774.8 214.2,775.0 214.8,774.6 215.2,775.1 215.8,775.0 216.2,774.9 216.8,774.9 217.2,775.1 217.8,774.7 218.2,774.9 218.8,774.8 219.2,775.0 219.8,774.8 220.2,774.9 220.8,774.9 221.2,775.0 221.8,775.1 222.2,774.8 222.8,774.9 223.2,775.0 223.8,775.1 224.2,775.2 224.8,774.9 225.2,774.8 225.8,774.9 226.2,775.0 226.8,775.1 227.2,775.0 227.8,775.1 228.2,775.0 228.8,775.2 229.2,775.0 229.8,775.2 230.2,775.2 230.8,774.8 231.2,775.0 231.8,774.9 232.2,774.9 232.8,775.0 233.2,774.8 233.8,775.1 234.2,775.3 234.8,775.3 235.2,775.0 235.8,775.1 236.2,774.9 236.8,775.0 237.2,774.9 237.8,775.0 238.2,775.0 238.8,775.0 239.2,774.9 239.8,775.2 240.2,774.9 240.8,775.1 241.2,775.0 241.8,774.9 242.2,775.1 242.8,774.9 243.2,774.8 243.8,775.0 244.2,774.7 244.8,774.9 245.2,774.6 245.8,774.9 246.2,774.4 246.8,774.6 247.2,774.7 247.8,774.8 248.2,774.6 248.8,774.9 249.2,774.7 249.8,774.6 250.2,774.4 250.8,774.8 251.2,774.6 251.8,774.6 252.2,774.6 252.8,774.7 253.2,774.5 253.8,774.7 254.2,774.5 254.8,774.4 255.2,774.5 255.8,774.8 256.2,774.5 256.8,774.3 257.2,774.5 257.8,774.5 258.2,774.3 258.8,774.4 259.2,774.4 259.8,774.1 260.2,774.4 260.8,774.0 261.2,774.3 261.8,774.1 262.2,774.1 262.8,774.1 263.2,774.0 263.8,774.2 264.2,774.1 264.8,774.3 265.2,773.9 265.8,774.0 266.2,774.0 266.8,773.9 267.2,773.8 267.8,773.8 268.2,773.9 268.8,774.1 269.2,773.5 269.8,773.8 270.2,773.5 270.8,774.0 271.2,773.6 271.8,773.8 272.2,773.3 272.8,773.6 273.2,773.5 273.8,773.5 274.2,773.6 274.8,773.4 275.2,773.5 275.8,773.2 276.2,772.9 276.8,773.1 277.2,773.1 277.8,772.8 278.2,772.9 278.8,772.8 279.2,772.6 279.8,772.5 280.2,772.8 280.8,772.6 281.2,772.5 281.8,772.6 282.2,772.2 282.8,772.2 283.2,772.3 283.8,772.4 284.2,772.2 284.8,772.1 285.2,772.1 285.8,772.1 286.2,772.1 286.8,771.7 287.2,772.3 287.8,771.9 288.2,772.1 288.8,772.3 289.2,772.2 289.8,772.3 290.2,772.5 290.8,772.4 291.2,772.4 291.8,772.3 292.2,772.3 292.8,772.1 293.2,771.8 293.8,771.7 294.2,771.6 294.8,771.2 295.2,770.9 295.8,770.9 296.2,770.7 296.8,770.3 297.2,770.2 297.8,770.4 298.2,770.0 298.8,769.8 299.2,769.9 299.8,769.8 300.2,769.4 300.8,769.7 301.2,769.1 301.8,768.9 302.2,768.9 302.8,769.1 303.2,769.0 303.8,769.2 304.2,769.0 304.8,768.7 305.2,768.4 305.8,768.3 306.2,768.5 306.8,768.2 307.2,768.3 307.8,768.2 308.2,768.2 308.8,768.5 309.2,768.1 309.8,768.3 310.2,768.0 310.8,767.8 311.2,768.2 311.8,767.6 312.2,768.1 312.8,768.0 313.2,768.1 313.8,768.1 314.2,768.4 314.8,768.3 315.2,768.5 315.8,768.8 316.2,769.1 316.8,769.1 317.2,769.3 317.8,769.2 318.2,769.6 318.8,769.6 319.2,769.8 319.8,769.9 320.2,769.9 320.8,770.2 321.2,770.1 321.8,770.6 322.2,770.9 322.8,771.0 323.2,770.8 323.8,771.1 324.2,771.4 324.8,771.5 325.2,771.7 325.8,771.9 326.2,771.9 326.8,772.3 327.2,772.4 327.8,772.6 328.2,772.5 328.8,772.8 329.2,772.9 329.8,773.1 330.2,772.8 330.8,773.0 331.2,773.0 331.8,773.4 332.2,773.2 332.8,773.1 333.2,773.3 333.8,773.6 334.2,773.9 334.8,773.9 335.2,773.9 335.8,773.6 336.2,773.9 336.8,774.0 337.2,774.1 337.8,774.0 338.2,774.2 338.8,774.0 339.2,774.2 339.8,774.2 340.2,774.5 340.8,774.0 341.2,774.1 341.8,774.4 342.2,774.4 342.8,774.7 343.2,774.5 343.8,774.5 344.2,774.4 344.8,774.5 345.2,774.6 345.8,774.5 346.2,774.5 346.8,774.5 347.2,774.1 347.8,774.1 348.2,774.6 348.8,774.6 349.2,774.5 349.8,774.4 350.2,774.5 350.8,774.3 351.2,774.3 351.8,774.4 352.2,774.2 352.8,774.3 353.2,774.4 353.8,774.2 354.2,774.5 354.8,774.3 355.2,774.2 355.8,774.1 356.2,774.4 356.8,774.1 357.2,774.4 357.8,774.4 358.2,774.0 358.8,774.2 359.2,774.4 359.8,774.1 360.2,774.0 360.8,774.1 361.2,773.9 361.8,774.0 362.2,773.7 362.8,773.8 363.2,773.9 363.8,773.8 364.2,773.8 364.8,773.6 365.2,773.6 365.8,773.8 366.2,773.7 366.8,773.8 367.2,773.6 367.8,773.6 368.2,773.5 368.8,773.7 369.2,773.5 369.8,773.4 370.2,773.6 370.8,773.3 371.2,773.5 371.8,773.5 372.2,773.5 372.8,773.0 373.2,773.2 373.8,773.2 374.2,773.1 374.8,773.0 375.2,773.3 375.8,772.9 376.2,772.8 376.8,772.9 377.2,772.8 377.8,772.9 378.2,772.8 378.8,772.7 379.2,772.5 379.8,773.1 380.2,772.7 380.8,772.5 381.2,772.6 381.8,772.5 382.2,772.7 382.8,772.5 383.2,772.4 383.8,772.6 384.2,772.5 384.8,772.9 385.2,772.3 385.8,772.2 386.2,772.6 386.8,772.4 387.2,772.7 387.8,772.4 388.2,772.7 388.8,772.5 389.2,772.8 389.8,772.5 390.2,772.4 390.8,772.6 391.2,772.7 391.8,773.0 392.2,772.8 392.8,773.0 393.2,773.0 393.8,772.6 394.2,773.1 394.8,772.9 395.2,773.0 395.8,773.0 396.2,772.9 396.8,773.1 397.2,772.9 397.8,772.8 398.2,773.2 398.8,773.0 399.2,773.1 399.8,773.2 400.2,773.3 400.8,773.0 401.2,773.0 401.8,773.3 402.2,773.1 402.8,773.3 403.2,773.2 403.8,773.2 404.2,773.3 404.8,773.2 405.2,773.2 405.8,773.5 406.2,773.4 406.8,773.2 407.2,773.2 407.8,773.1 408.2,773.3 408.8,773.2 409.2,773.3 409.8,773.2 410.2,773.2 410.8,773.2 411.2,773.4 411.8,773.5 412.2,773.5 412.8,773.4 413.2,773.5 413.8,773.5 414.2,773.8 414.8,773.5 415.2,773.5 415.8,773.6 416.2,773.5 416.8,773.6 417.2,773.5 417.8,773.4 418.2,773.8 418.8,773.4 419.2,773.5 419.8,773.8 420.2,773.9 420.8,773.8 421.2,773.7 421.8,773.8 422.2,773.8 422.8,773.8 423.2,773.7 423.8,773.9 424.2,773.8 424.8,774.0 425.2,774.0 425.8,773.9 426.2,774.2 426.8,773.9 427.2,773.9 427.8,774.3 428.2,774.2 428.8,774.2 429.2,774.1 429.8,774.0 430.2,774.1 430.8,773.8 431.2,774.5 431.8,774.3 432.2,774.1 432.8,774.2 433.2,774.5 433.8,774.3 434.2,774.6 434.8,774.5 435.2,774.4 435.8,774.7 436.2,774.6 436.8,774.5 437.2,774.3 437.8,774.9 438.2,774.5 438.8,774.4 439.2,774.5 439.8,774.5 440.2,774.6 440.8,774.7 441.2,774.5 441.8,774.6 442.2,774.5 442.8,774.5 443.2,774.6 443.8,774.2 444.2,774.1 444.8,774.5 445.2,774.3 445.8,774.2 446.2,774.6 446.8,774.4 447.2,774.4 447.8,774.5 448.2,774.3 448.8,774.5 449.2,774.4 449.8,774.3 450.2,774.3 450.8,774.6 451.2,774.4 451.8,774.5 452.2,774.3 452.8,774.3 453.2,774.2 453.8,774.4 454.2,774.3 454.8,774.3 455.2,774.5 455.8,774.3 456.2,774.4 456.8,774.5 457.2,774.2 457.8,774.4 458.2,774.3 458.8,774.4 459.2,774.5 459.8,774.1 460.2,774.0 460.8,774.4 461.2,774.0 461.8,774.1 462.2,774.2 462.8,774.2 463.2,774.2 463.8,774.1 464.2,774.1 464.8,774.2 465.2,773.9 465.8,774.1 466.2,773.6 466.8,774.1 467.2,774.1 467.8,773.9 468.2,774.0 468.8,774.2 469.2,774.3 469.8,773.9 470.2,774.1 470.8,774.1 471.2,773.9 471.8,774.0 472.2,774.1 472.8,774.2 473.2,774.1 473.8,774.3 474.2,774.3 474.8,773.9 475.2,774.0 475.8,773.8 476.2,773.9 476.8,773.9 477.2,774.1 477.8,774.4 478.2,773.8 478.8,774.1 479.2,773.9 479.8,774.1 480.2,774.1 480.8,773.9 481.2,773.9 481.8,773.7 482.2,773.8 482.8,774.1 483.2,774.1 483.8,774.1 484.2,773.9 484.8,774.0 485.2,773.8 485.8,773.8 486.2,774.1 486.8,774.1 487.2,774.0 487.8,774.0 488.2,773.9 488.8,774.2 489.2,774.2 489.8,773.9 490.2,774.2 490.8,773.6 491.2,774.1 491.8,774.2 492.2,774.0 492.8,774.0 493.2,773.8 493.8,773.9 494.2,774.3 494.8,774.2 495.2,774.1 495.8,773.9 496.2,773.9 496.8,774.1 497.2,773.9 497.8,773.9 498.2,774.0 498.8,774.3 499.2,773.8 499.8,774.0 500.2,773.9 500.8,774.1 501.2,774.1 501.8,773.9 502.2,774.3 502.8,773.8 503.2,773.8 503.8,773.9 504.2,774.2 504.8,774.0 505.2,774.1 505.8,774.1 506.2,773.8 506.8,773.8 507.2,774.1 507.8,774.0 508.2,774.1 508.8,774.1 509.2,774.1 509.8,774.1 510.2,774.0 510.8,774.0 511.2,774.3 511.8,774.1 512.2,774.2 512.8,774.3 513.2,774.1 513.8,774.1 514.2,773.9 514.8,773.8 515.2,774.0 515.8,774.0 516.2,773.8" stroke-width="2.4"/>
<path d="M51.2,797.2 51.8,797.1 52.2,797.0 52.8,796.7 53.2,796.9 53.8,796.8 54.2,796.0 54.8,796.2 55.2,795.7 55.8,795.4 56.2,794.6 56.8,794.6 57.2,794.0 57.8,793.4 58.2,792.4 58.8,791.0 59.2,789.2 59.8,787.2 60.2,785.1 60.8,782.4 61.2,780.3 61.8,777.1 62.2,773.8 62.8,770.1 63.2,765.9 63.8,761.5 64.2,756.8 64.8,752.8 65.2,746.7 65.8,740.5 66.2,734.7 66.8,731.0 67.2,729.2 67.8,728.2 68.2,727.8 68.8,728.3 69.2,732.1 69.8,737.5 70.2,742.6 70.8,748.3 71.2,754.5 71.8,760.1 72.2,764.6 72.8,769.7 73.2,773.5 73.8,776.4 74.2,778.1 74.8,779.5 75.2,780.2 75.8,780.8 76.2,781.4 76.8,782.1 77.2,781.9 77.8,782.1 78.2,782.1 78.8,782.5 79.2,782.5 79.8,782.7 80.2,782.8 80.8,782.8 81.2,783.1 81.8,783.3 82.2,783.7 82.8,784.4 83.2,784.9 83.8,785.3 84.2,786.0 84.8,787.3 85.2,787.8 85.8,788.8 86.2,790.1 86.8,791.4 87.2,792.4 87.8,793.7 88.2,794.4 88.8,795.3 89.2,795.9 89.8,797.1 90.2,797.7 90.8,798.4 91.2,799.3 91.8,799.5 92.2,800.6 92.8,800.7 93.2,800.7 93.8,801.4 94.2,801.7 94.8,801.6 95.2,801.6 95.8,802.0 96.2,802.1 96.8,801.8 97.2,802.2 97.8,802.4 98.2,802.2 98.8,802.5 99.2,802.4 99.8,802.6 100.2,802.9 100.8,803.0 101.2,802.8 101.8,802.9 102.2,802.8 102.8,803.0 103.2,803.3 103.8,803.1 104.2,803.0 104.8,803.1 105.2,803.3 105.8,803.4 106.2,803.2 106.8,803.6 107.2,803.6 107.8,803.5 108.2,803.6 108.8,803.8 109.2,803.5 109.8,803.6 110.2,803.8 110.8,803.7 111.2,803.6 111.8,803.7 112.2,803.9 112.8,803.8 113.2,803.7 113.8,803.7 114.2,803.6 114.8,803.6 115.2,804.0 115.8,803.7 116.2,803.9 116.8,803.7 117.2,803.8 117.8,803.8 118.2,803.9 118.8,804.0 119.2,803.8 119.8,803.5 120.2,803.8 120.8,804.0 121.2,803.8 121.8,803.7 122.2,803.8 122.8,803.5 123.2,803.4 123.8,803.2 124.2,802.9 124.8,802.3 125.2,801.3 125.8,800.5 126.2,799.7 126.8,799.0 127.2,798.3 127.8,797.2 128.2,796.4 128.8,794.6 129.2,793.7 129.8,792.4 130.2,790.9 130.8,790.0 131.2,789.2 131.8,789.0 132.2,788.9 132.8,789.4 133.2,790.1 133.8,791.4 134.2,792.4 134.8,793.8 135.2,794.9 135.8,795.3 136.2,795.9 136.8,796.6 137.2,797.6 137.8,797.8 138.2,798.5 138.8,799.0 139.2,799.7 139.8,799.6 140.2,799.9 140.8,799.9 141.2,800.1 141.8,800.0 142.2,800.1 142.8,800.0 143.2,800.3 143.8,800.3 144.2,800.4 144.8,800.1 145.2,800.5 145.8,800.4 146.2,800.7 146.8,800.7 147.2,800.4 147.8,800.5 148.2,800.4 148.8,800.5 149.2,800.6 149.8,800.5 150.2,800.4 150.8,800.7 151.2,800.2 151.8,800.5 152.2,800.3 152.8,800.3 153.2,800.3 153.8,800.3 154.2,800.1 154.8,800.4 155.2,800.1 155.8,800.0 156.2,799.8 156.8,800.0 157.2,799.7 157.8,799.7 158.2,799.9 158.8,799.8 159.2,799.4 159.8,799.3 160.2,799.8 160.8,799.4 161.2,799.3 161.8,799.1 162.2,799.1 162.8,798.9 163.2,798.8 163.8,798.6 164.2,798.7 164.8,798.5 165.2,798.4 165.8,798.3 166.2,798.1 166.8,798.2 167.2,798.0 167.8,797.8 168.2,797.9 168.8,797.8 169.2,797.6 169.8,797.7 170.2,797.6 170.8,797.1 171.2,796.7 171.8,796.3 172.2,795.4 172.8,794.8 173.2,794.1 173.8,793.7 174.2,793.2 174.8,792.9 175.2,792.3 175.8,792.1 176.2,791.9 176.8,792.1 177.2,793.0 177.8,793.7 178.2,795.4 178.8,796.4 179.2,797.3 179.8,798.3 180.2,798.9 180.8,799.5 181.2,800.3 181.8,800.7 182.2,801.0 182.8,801.4 183.2,802.0 183.8,802.5 184.2,802.5 184.8,803.1 185.2,803.4 185.8,803.6 186.2,804.1 186.8,804.0 187.2,804.3 187.8,804.2 188.2,804.6 188.8,804.4 189.2,804.6 189.8,804.8 190.2,805.0 190.8,805.0 191.2,804.9 191.8,805.3 192.2,805.4 192.8,805.7 193.2,805.5 193.8,805.8 194.2,806.0 194.8,805.9 195.2,805.8 195.8,805.8 196.2,805.9 196.8,806.1 197.2,806.0 197.8,806.3 198.2,806.0 198.8,806.3 199.2,806.4 199.8,806.1 200.2,806.5 200.8,806.2 201.2,805.9 201.8,806.2 202.2,806.3 202.8,806.2 203.2,806.3 203.8,806.5 204.2,806.3 204.8,806.3 205.2,806.4 205.8,806.3 206.2,806.4 206.8,806.2 207.2,806.1 207.8,806.3 208.2,806.2 208.8,806.2 209.2,806.2 209.8,806.3 210.2,805.9 210.8,806.2 211.2,806.1 211.8,806.1 212.2,806.4 212.8,806.1 213.2,806.4 213.8,806.1 214.2,806.4 214.8,806.3 215.2,806.2 215.8,806.4 216.2,805.8 216.8,806.3 217.2,806.2 217.8,806.4 218.2,806.2 218.8,806.3 219.2,806.2 219.8,806.3 220.2,806.4 220.8,806.0 221.2,806.5 221.8,806.2 222.2,806.6 222.8,806.2 223.2,806.3 223.8,806.5 224.2,806.2 224.8,806.4 225.2,806.2 225.8,806.3 226.2,806.2 226.8,806.3 227.2,806.5 227.8,806.2 228.2,806.3 228.8,806.2 229.2,806.3 229.8,806.3 230.2,806.3 230.8,806.3 231.2,806.6 231.8,806.0 232.2,806.2 232.8,806.3 233.2,806.4 233.8,806.1 234.2,806.6 234.8,806.3 235.2,806.6 235.8,806.4 236.2,806.2 236.8,806.1 237.2,806.3 237.8,806.3 238.2,806.0 238.8,806.2 239.2,806.1 239.8,806.2 240.2,806.0 240.8,806.0 241.2,806.1 241.8,806.2 242.2,806.0 242.8,805.8 243.2,805.9 243.8,806.2 244.2,806.2 244.8,806.0 245.2,806.1 245.8,805.9 246.2,806.0 246.8,806.0 247.2,806.2 247.8,806.0 248.2,805.8 248.8,805.9 249.2,805.8 249.8,806.1 250.2,806.0 250.8,805.9 251.2,805.8 251.8,806.0 252.2,805.9 252.8,805.6 253.2,805.8 253.8,805.8 254.2,805.8 254.8,805.8 255.2,805.8 255.8,805.8 256.2,805.8 256.8,805.7 257.2,805.5 257.8,805.3 258.2,805.4 258.8,805.5 259.2,805.6 259.8,805.8 260.2,805.6 260.8,805.3 261.2,805.5 261.8,805.3 262.2,805.2 262.8,805.3 263.2,805.5 263.8,805.3 264.2,805.4 264.8,805.2 265.2,805.2 265.8,805.2 266.2,805.4 266.8,805.2 267.2,805.3 267.8,805.3 268.2,805.3 268.8,805.1 269.2,805.2 269.8,805.1 270.2,804.8 270.8,804.9 271.2,804.9 271.8,805.2 272.2,804.7 272.8,804.6 273.2,804.8 273.8,804.8 274.2,804.6 274.8,804.4 275.2,804.1 275.8,804.7 276.2,804.4 276.8,804.4 277.2,804.2 277.8,804.1 278.2,804.1 278.8,804.3 279.2,804.2 279.8,804.4 280.2,803.9 280.8,803.9 281.2,803.9 281.8,804.0 282.2,804.0 282.8,803.7 283.2,803.8 283.8,803.7 284.2,803.6 284.8,803.9 285.2,803.7 285.8,803.9 286.2,804.0 286.8,804.1 287.2,804.4 287.8,804.3 288.2,804.3 288.8,804.3 289.2,804.5 289.8,804.6 290.2,804.5 290.8,804.3 291.2,804.3 291.8,804.1 292.2,804.4 292.8,804.0 293.2,803.5 293.8,803.4 294.2,803.3 294.8,803.0 295.2,802.6 295.8,802.0 296.2,802.3 296.8,801.7 297.2,801.7 297.8,801.5 298.2,801.0 298.8,800.8 299.2,800.7 299.8,800.5 300.2,800.4 300.8,800.3 301.2,800.5 301.8,800.3 302.2,799.9 302.8,799.8 303.2,799.9 303.8,799.8 304.2,799.6 304.8,799.2 305.2,799.7 305.8,799.2 306.2,799.3 306.8,799.1 307.2,799.0 307.8,798.9 308.2,798.9 308.8,799.1 309.2,799.2 309.8,798.9 310.2,798.9 310.8,798.9 311.2,798.9 311.8,798.7 312.2,798.9 312.8,798.7 313.2,798.7 313.8,798.3 314.2,798.7 314.8,798.5 315.2,798.8 315.8,798.8 316.2,798.6 316.8,798.7 317.2,798.7 317.8,798.7 318.2,798.8 318.8,798.8 319.2,798.7 319.8,798.7 320.2,799.3 320.8,799.3 321.2,799.7 321.8,800.2 322.2,800.7 322.8,801.1 323.2,801.3 323.8,801.8 324.2,802.1 324.8,802.6 325.2,802.6 325.8,802.8 326.2,802.8 326.8,803.2 327.2,803.3 327.8,803.4 328.2,803.7 328.8,804.2 329.2,804.3 329.8,804.3 330.2,804.3 330.8,804.6 331.2,804.5 331.8,804.9 332.2,805.1 332.8,805.0 333.2,805.1 333.8,805.1 334.2,805.1 334.8,805.4 335.2,805.2 335.8,805.3 336.2,805.6 336.8,805.5 337.2,805.7 337.8,805.8 338.2,805.8 338.8,805.9 339.2,805.9 339.8,806.0 340.2,805.9 340.8,805.8 341.2,806.0 341.8,806.0 342.2,805.8 342.8,806.2 343.2,806.2 343.8,805.9 344.2,806.0 344.8,806.1 345.2,806.1 345.8,806.4 346.2,806.2 346.8,806.3 347.2,806.1 347.8,806.2 348.2,806.3 348.8,806.1 349.2,805.9 349.8,806.3 350.2,806.3 350.8,806.3 351.2,806.4 351.8,806.0 352.2,806.0 352.8,805.8 353.2,806.2 353.8,806.1 354.2,806.0 354.8,806.3 355.2,806.0 355.8,806.0 356.2,805.9 356.8,806.0 357.2,805.8 357.8,806.0 358.2,806.1 358.8,805.8 359.2,806.0 359.8,805.5 360.2,805.8 360.8,805.7 361.2,805.7 361.8,805.8 362.2,806.0 362.8,805.9 363.2,805.7 363.8,805.6 364.2,805.4 364.8,805.5 365.2,805.4 365.8,805.3 366.2,805.5 366.8,805.6 367.2,805.2 367.8,805.5 368.2,805.4 368.8,805.6 369.2,805.1 369.8,805.3 370.2,804.9 370.8,805.0 371.2,805.1 371.8,805.0 372.2,805.1 372.8,804.7 373.2,804.8 373.8,804.8 374.2,804.8 374.8,804.9 375.2,804.9 375.8,804.4 376.2,804.7 376.8,804.5 377.2,804.5 377.8,804.6 378.2,804.5 378.8,804.1 379.2,804.5 379.8,804.3 380.2,804.2 380.8,804.4 381.2,804.2 381.8,803.8 382.2,804.2 382.8,804.4 383.2,804.1 383.8,804.0 384.2,804.2 384.8,804.0 385.2,804.2 385.8,804.2 386.2,804.0 386.8,803.8 387.2,804.1 387.8,804.1 388.2,804.0 388.8,804.2 389.2,804.2 389.8,803.9 390.2,804.3 390.8,804.2 391.2,804.2 391.8,804.6 392.2,804.3 392.8,804.4 393.2,804.3 393.8,804.3 394.2,804.5 394.8,804.5 395.2,804.7 395.8,804.7 396.2,804.4 396.8,804.5 397.2,804.6 397.8,804.6 398.2,804.6 398.8,804.8 399.2,804.7 399.8,804.8 400.2,804.8 400.8,804.7 401.2,804.5 401.8,804.7 402.2,804.8 402.8,804.9 403.2,804.7 403.8,804.8 404.2,804.8 404.8,804.8 405.2,805.1 405.8,805.1 406.2,805.1 406.8,805.1 407.2,804.7 407.8,805.1 408.2,804.9 408.8,805.0 409.2,804.9 409.8,804.9 410.2,804.7 410.8,804.6 411.2,804.9 411.8,804.9 412.2,805.0 412.8,805.0 413.2,805.1 413.8,805.1 414.2,805.0 414.8,804.9 415.2,805.0 415.8,805.2 416.2,804.9 416.8,804.9 417.2,805.1 417.8,805.0 418.2,805.0 418.8,805.1 419.2,805.0 419.8,804.8 420.2,805.1 420.8,804.6 421.2,805.1 421.8,804.9 422.2,804.9 422.8,805.0 423.2,804.8 423.8,804.8 424.2,804.7 424.8,804.9 425.2,804.9 425.8,804.7 426.2,805.1 426.8,804.9 427.2,805.1 427.8,805.0 428.2,805.0 428.8,805.1 429.2,804.9 429.8,805.1 430.2,805.1 430.8,805.0 431.2,805.3 431.8,805.2 432.2,805.1 432.8,805.0 433.2,805.0 433.8,805.0 434.2,805.0 434.8,805.2 435.2,805.1 435.8,805.0 436.2,805.0 436.8,805.0 437.2,805.2 437.8,805.0 438.2,805.0 438.8,805.2 439.2,804.9 439.8,804.8 440.2,805.1 440.8,805.2 441.2,805.1 441.8,804.9 442.2,805.0 442.8,804.8 443.2,805.0 443.8,805.0 444.2,804.9 444.8,805.1 445.2,805.1 445.8,805.0 446.2,805.1 446.8,805.0 447.2,805.0 447.8,805.2 448.2,805.2 448.8,804.7 449.2,804.9 449.8,804.8 450.2,804.9 450.8,804.9 451.2,805.0 451.8,804.7 452.2,804.9 452.8,804.8 453.2,804.7 453.8,804.9 454.2,804.8 454.8,804.9 455.2,804.7 455.8,805.0 456.2,804.7 456.8,804.7 457.2,804.6 457.8,804.8 458.2,805.1 458.8,804.8 459.2,804.6 459.8,804.6 460.2,804.7 460.8,804.6 461.2,805.1 461.8,804.7 462.2,804.6 462.8,804.8 463.2,804.6 463.8,804.6 464.2,804.6 464.8,804.6 465.2,804.7 465.8,804.6 466.2,804.6 466.8,804.8 467.2,804.3 467.8,804.8 468.2,804.5 468.8,804.8 469.2,804.6 469.8,804.4 470.2,804.4 470.8,804.5 471.2,804.4 471.8,804.5 472.2,804.8 472.8,804.5 473.2,804.6 473.8,804.5 474.2,804.5 474.8,804.5 475.2,804.7 475.8,804.8 476.2,804.6 476.8,804.2 477.2,804.4 477.8,804.7 478.2,804.6 478.8,804.6 479.2,804.6 479.8,804.4 480.2,804.3 480.8,804.4 481.2,804.5 481.8,804.5 482.2,804.6 482.8,804.5 483.2,804.4 483.8,804.6 484.2,804.3 484.8,804.5 485.2,804.4 485.8,804.4 486.2,804.4 486.8,804.5 487.2,804.3 487.8,804.3 488.2,804.5 488.8,804.5 489.2,804.3 489.8,804.6 490.2,804.5 490.8,804.5 491.2,804.5 491.8,804.5 492.2,804.4 492.8,804.1 493.2,804.2 493.8,804.5 494.2,804.3 494.8,804.6 495.2,804.5 495.8,804.3 496.2,804.5 496.8,804.0 497.2,804.5 497.8,804.4 498.2,804.3 498.8,804.2 499.2,804.2 499.8,804.2 500.2,804.4 500.8,804.3 501.2,804.2 501.8,804.2 502.2,804.4 502.8,804.3 503.2,804.2 503.8,804.5 504.2,804.4 504.8,804.2 505.2,804.4 505.8,804.2 506.2,804.3 506.8,804.4 507.2,804.4 507.8,804.2 508.2,804.5 508.8,804.4 509.2,804.4 509.8,804.3 510.2,804.2 510.8,804.2 511.2,804.5 511.8,804.3 512.2,804.2 512.8,804.2 513.2,804.1 513.8,804.2 514.2,803.9 514.8,804.0 515.2,804.1 515.8,804.6 516.2,804.2" stroke-width="2.4"/>
<path d="M51.2,838.8 51.8,838.7 52.2,839.0 52.8,838.7 53.2,838.5 53.8,838.4 54.2,838.3 54.8,838.0 55.2,838.0 55.8,837.9 56.2,837.4 56.8,837.6 57.2,837.3 57.8,836.9 58.2,836.7 58.8,836.3 59.2,835.7 59.8,835.2 60.2,834.1 60.8,832.7 61.2,831.1 61.8,829.6 62.2,828.1 62.8,826.1 63.2,823.8 63.8,821.2 64.2,817.4 64.8,813.4 65.2,809.0 65.8,804.2 66.2,800.1 66.8,795.1 67.2,789.1 67.8,783.4 68.2,777.5 68.8,773.8 69.2,771.5 69.8,770.0 70.2,768.9 70.8,769.1 71.2,770.8 71.8,774.2 72.2,778.1 72.8,782.3 73.2,788.4 73.8,795.7 74.2,802.3 74.8,807.2 75.2,811.2 75.8,815.3 76.2,818.5 76.8,820.5 77.2,821.7 77.8,822.1 78.2,822.9 78.8,823.5 79.2,823.3 79.8,823.7 80.2,823.9 80.8,823.7 81.2,823.4 81.8,823.4 82.2,823.0 82.8,823.1 83.2,823.0 83.8,822.9 84.2,823.1 84.8,823.4 85.2,824.6 85.8,825.3 86.2,826.4 86.8,827.4 87.2,828.3 87.8,829.2 88.2,830.1 88.8,830.9 89.2,831.8 89.8,833.0 90.2,833.5 90.8,834.8 91.2,835.3 91.8,836.1 92.2,836.8 92.8,837.2 93.2,837.6 93.8,838.1 94.2,838.4 94.8,838.7 95.2,839.0 95.8,839.2 96.2,839.7 96.8,840.3 97.2,840.3 97.8,840.6 98.2,840.6 98.8,840.6 99.2,841.0 99.8,841.2 100.2,841.2 100.8,841.2 101.2,841.5 101.8,841.7 102.2,841.6 102.8,842.1 103.2,841.9 103.8,842.0 104.2,842.0 104.8,842.4 105.2,842.1 105.8,842.4 106.2,842.5 106.8,842.7 107.2,842.7 107.8,842.5 108.2,842.8 108.8,842.7 109.2,842.5 109.8,843.2 110.2,843.0 110.8,843.0 111.2,843.1 111.8,843.0 112.2,842.9 112.8,843.1 113.2,843.1 113.8,843.2 114.2,842.8 114.8,843.1 115.2,842.7 115.8,843.0 116.2,842.8 116.8,843.0 117.2,843.0 117.8,842.9 118.2,842.9 118.8,842.8 119.2,842.7 119.8,842.8 120.2,842.6 120.8,842.4 121.2,842.5 121.8,842.2 122.2,842.3 122.8,842.2 123.2,842.4 123.8,842.3 124.2,841.6 124.8,841.1 125.2,840.7 125.8,839.7 126.2,838.9 126.8,837.7 127.2,836.5 127.8,835.9 128.2,834.3 128.8,833.4 129.2,832.1 129.8,830.5 130.2,828.8 130.8,827.4 131.2,826.5 131.8,825.5 132.2,825.1 132.8,825.1 133.2,825.6 133.8,826.7 134.2,827.8 134.8,828.7 135.2,830.3 135.8,831.5 136.2,832.3 136.8,833.4 137.2,834.4 137.8,835.2 138.2,836.3 138.8,837.4 139.2,837.9 139.8,838.6 140.2,839.2 140.8,839.8 141.2,840.2 141.8,840.0 142.2,840.1 142.8,840.3 143.2,840.4 143.8,840.9 144.2,840.8 144.8,840.4 145.2,840.8 145.8,841.0 146.2,840.9 146.8,841.0 147.2,841.1 147.8,841.2 148.2,841.4 148.8,840.8 149.2,841.3 149.8,841.5 150.2,841.3 150.8,841.2 151.2,841.3 151.8,841.3 152.2,841.2 152.8,841.0 153.2,840.7 153.8,840.8 154.2,840.8 154.8,840.3 155.2,840.0 155.8,840.2 156.2,840.2 156.8,839.7 157.2,839.8 157.8,839.4 158.2,839.3 158.8,839.3 159.2,838.8 159.8,838.9 160.2,838.6 160.8,838.7 161.2,838.2 161.8,838.1 162.2,837.9 162.8,837.5 163.2,837.3 163.8,837.0 164.2,837.0 164.8,836.5 165.2,836.3 165.8,836.0 166.2,835.9 166.8,835.8 167.2,835.5 167.8,835.4 168.2,835.3 168.8,835.2 169.2,835.3 169.8,835.0 170.2,835.0 170.8,834.6 171.2,833.3 171.8,832.5 172.2,831.0 172.8,830.3 173.2,829.8 173.8,829.1 174.2,828.2 174.8,827.8 175.2,827.5 175.8,826.8 176.2,826.2 176.8,826.1 177.2,826.6 177.8,827.8 178.2,829.6 178.8,831.3 179.2,833.3 179.8,834.5 180.2,835.6 180.8,836.7 181.2,837.4 181.8,838.6 182.2,839.4 182.8,839.9 183.2,840.7 183.8,841.4 184.2,841.9 184.8,842.4 185.2,842.5 185.8,843.1 186.2,843.3 186.8,843.5 187.2,843.7 187.8,843.6 188.2,844.1 188.8,844.1 189.2,844.6 189.8,844.2 190.2,844.8 190.8,844.6 191.2,844.8 191.8,845.0 192.2,844.8 192.8,845.0 193.2,845.2 193.8,845.0 194.2,844.9 194.8,845.4 195.2,845.5 195.8,845.6 196.2,845.5 196.8,845.6 197.2,845.7 197.8,845.6 198.2,845.8 198.8,845.3 199.2,845.8 199.8,845.7 200.2,845.7 200.8,845.9 201.2,845.9 201.8,846.2 202.2,846.2 202.8,846.2 203.2,846.4 203.8,846.1 204.2,845.8 204.8,846.0 205.2,846.2 205.8,846.2 206.2,846.2 206.8,846.2 207.2,845.9 207.8,846.3 208.2,846.3 208.8,846.4 209.2,846.3 209.8,846.3 210.2,846.4 210.8,846.1 211.2,846.3 211.8,846.3 212.2,846.6 212.8,846.6 213.2,846.7 213.8,846.4 214.2,846.4 214.8,846.5 215.2,846.6 215.8,846.5 216.2,846.1 216.8,846.6 217.2,846.5 217.8,846.3 218.2,846.5 218.8,846.6 219.2,846.5 219.8,846.6 220.2,846.7 220.8,846.5 221.2,846.8 221.8,846.6 222.2,846.5 222.8,846.6 223.2,846.6 223.8,846.9 224.2,846.8 224.8,846.7 225.2,846.8 225.8,846.7 226.2,846.7 226.8,846.9 227.2,846.8 227.8,846.8 228.2,846.8 228.8,846.8 229.2,846.9 229.8,846.8 230.2,846.9 230.8,846.6 231.2,847.1 231.8,846.8 232.2,846.7 232.8,847.0 233.2,847.1 233.8,847.1 234.2,847.0 234.8,846.9 235.2,846.9 235.8,847.2 236.2,846.9 236.8,847.1 237.2,847.1 237.8,847.1 238.2,846.7 238.8,847.0 239.2,846.6 239.8,847.1 240.2,847.1 240.8,846.9 241.2,846.8 241.8,846.9 242.2,846.8 242.8,847.1 243.2,847.0 243.8,847.3 244.2,846.9 244.8,846.8 245.2,847.3 245.8,846.9 246.2,846.8 246.8,847.1 247.2,847.2 247.8,847.0 248.2,847.1 248.8,847.1 249.2,846.9 249.8,847.0 250.2,847.1 250.8,846.9 251.2,847.2 251.8,846.7 252.2,846.8 252.8,846.9 253.2,846.8 253.8,846.8 254.2,847.0 254.8,847.1 255.2,846.6 255.8,846.7 256.2,846.6 256.8,846.8 257.2,846.7 257.8,846.7 258.2,846.7 258.8,846.8 259.2,846.6 259.8,846.7 260.2,846.5 260.8,846.9 261.2,846.6 261.8,846.8 262.2,846.9 262.8,846.6 263.2,846.4 263.8,846.6 264.2,846.4 264.8,846.6 265.2,846.4 265.8,846.5 266.2,846.5 266.8,846.2 267.2,846.6 267.8,846.8 268.2,846.2 268.8,846.3 269.2,846.1 269.8,846.3 270.2,846.2 270.8,846.3 271.2,846.3 271.8,846.2 272.2,845.9 272.8,845.7 273.2,845.9 273.8,845.9 274.2,846.0 274.8,846.0 275.2,845.8 275.8,845.6 276.2,845.6 276.8,845.4 277.2,845.4 277.8,845.2 278.2,845.3 278.8,845.0 279.2,844.9 279.8,845.0 280.2,845.0 280.8,844.9 281.2,844.5 281.8,844.4 282.2,844.3 282.8,844.6 283.2,844.5 283.8,844.4 284.2,844.4 284.8,844.3 285.2,844.2 285.8,843.9 286.2,844.1 286.8,843.9 287.2,843.5 287.8,843.6 288.2,843.6 288.8,843.6 289.2,843.1 289.8,843.1 290.2,843.0 290.8,842.7 291.2,842.7 291.8,842.6 292.2,842.3 292.8,842.4 293.2,842.1 293.8,841.9 294.2,841.8 294.8,841.9 295.2,841.8 295.8,841.4 296.2,841.3 296.8,840.9 297.2,841.1 297.8,841.2 298.2,840.9 298.8,840.9 299.2,840.7 299.8,840.4 300.2,840.5 300.8,840.6 301.2,840.4 301.8,840.1 302.2,840.0 302.8,840.1 303.2,840.0 303.8,840.1 304.2,839.7 304.8,839.5 305.2,839.7 305.8,839.4 306.2,839.5 306.8,839.4 307.2,839.4 307.8,839.7 308.2,839.4 308.8,839.2 309.2,839.0 309.8,839.3 310.2,839.0 310.8,838.8 311.2,839.0 311.8,838.7 312.2,838.9 312.8,839.0 313.2,838.5 313.8,838.6 314.2,838.5 314.8,838.4 315.2,838.5 315.8,838.0 316.2,838.1 316.8,838.4 317.2,838.0 317.8,837.9 318.2,838.0 318.8,838.0 319.2,838.1 319.8,838.1 320.2,838.3 320.8,838.4 321.2,838.7 321.8,839.0 322.2,839.1 322.8,839.8 323.2,840.3 323.8,840.4 324.2,840.9 324.8,841.3 325.2,841.4 325.8,841.7 326.2,841.8 326.8,842.1 327.2,842.5 327.8,842.9 328.2,842.8 328.8,843.4 329.2,843.4 329.8,843.5 330.2,843.5 330.8,844.0 331.2,844.3 331.8,844.1 332.2,844.4 332.8,844.6 333.2,844.7 333.8,844.8 334.2,844.9 334.8,845.1 335.2,845.1 335.8,845.1 336.2,845.1 336.8,845.2 337.2,845.0 337.8,845.4 338.2,845.4 338.8,845.7 339.2,845.7 339.8,845.8 340.2,845.7 340.8,845.9 341.2,845.9 341.8,845.7 342.2,845.7 342.8,845.8 343.2,846.1 343.8,846.2 344.2,846.2 344.8,846.3 345.2,846.3 345.8,846.0 346.2,846.1 346.8,846.2 347.2,846.3 347.8,846.3 348.2,846.1 348.8,846.5 349.2,846.3 349.8,846.3 350.2,846.2 350.8,846.3 351.2,845.9 351.8,846.1 352.2,846.1 352.8,846.2 353.2,846.2 353.8,846.1 354.2,846.7 354.8,845.7 355.2,845.9 355.8,846.3 356.2,846.1 356.8,845.7 357.2,846.1 357.8,846.0 358.2,846.1 358.8,846.1 359.2,845.8 359.8,845.7 360.2,845.7 360.8,845.7 361.2,845.5 361.8,845.7 362.2,845.6 362.8,845.5 363.2,845.2 363.8,845.6 364.2,845.4 364.8,845.4 365.2,845.6 365.8,845.3 366.2,845.6 366.8,845.4 367.2,845.1 367.8,845.3 368.2,845.2 368.8,845.2 369.2,845.1 369.8,845.2 370.2,845.2 370.8,845.1 371.2,845.2 371.8,844.8 372.2,844.9 372.8,844.9 373.2,844.9 373.8,845.0 374.2,844.7 374.8,844.8 375.2,844.6 375.8,844.6 376.2,844.3 376.8,844.4 377.2,844.3 377.8,844.7 378.2,844.2 378.8,844.3 379.2,844.4 379.8,844.2 380.2,843.9 380.8,843.9 381.2,844.1 381.8,843.7 382.2,843.8 382.8,843.9 383.2,843.4 383.8,843.5 384.2,843.4 384.8,843.5 385.2,843.6 385.8,843.3 386.2,843.3 386.8,843.5 387.2,843.4 387.8,843.2 388.2,843.0 388.8,842.9 389.2,843.1 389.8,843.0 390.2,843.1 390.8,843.0 391.2,843.1 391.8,842.8 392.2,843.1 392.8,842.8 393.2,843.3 393.8,842.9 394.2,843.0 394.8,842.9 395.2,843.3 395.8,843.1 396.2,843.3 396.8,843.3 397.2,843.1 397.8,843.1 398.2,843.1 398.8,843.2 399.2,843.4 399.8,843.4 400.2,843.5 400.8,843.3 401.2,843.3 401.8,843.7 402.2,843.6 402.8,843.6 403.2,843.6 403.8,843.7 404.2,843.9 404.8,843.7 405.2,843.7 405.8,843.6 406.2,843.8 406.8,843.7 407.2,843.7 407.8,844.0 408.2,844.1 408.8,844.1 409.2,844.0 409.8,844.1 410.2,844.2 410.8,844.7 411.2,844.5 411.8,844.7 412.2,844.6 412.8,844.5 413.2,845.0 413.8,844.9 414.2,844.9 414.8,845.1 415.2,845.0 415.8,845.1 416.2,845.0 416.8,845.2 417.2,845.1 417.8,845.1 418.2,845.4 418.8,845.3 419.2,845.4 419.8,845.5 420.2,845.5 420.8,845.7 421.2,845.6 421.8,845.7 422.2,845.7 422.8,845.4 423.2,845.5 423.8,845.8 424.2,845.6 424.8,845.6 425.2,845.9 425.8,845.9 426.2,845.8 426.8,846.0 427.2,845.5 427.8,845.9 428.2,846.1 428.8,846.1 429.2,846.0 429.8,846.2 430.2,846.1 430.8,846.0 431.2,846.1 431.8,846.2 432.2,846.2 432.8,846.0 433.2,845.7 433.8,846.5 434.2,846.1 434.8,845.8 435.2,846.0 435.8,846.2 436.2,845.9 436.8,846.3 437.2,846.2 437.8,846.4 438.2,846.1 438.8,846.2 439.2,846.5 439.8,846.4 440.2,846.2 440.8,846.2 441.2,846.3 441.8,846.0 442.2,846.3 442.8,846.3 443.2,846.1 443.8,846.1 444.2,846.2 444.8,846.4 445.2,846.1 445.8,846.2 446.2,846.1 446.8,846.2 447.2,846.3 447.8,846.0 448.2,845.8 448.8,846.1 449.2,846.4 449.8,846.0 450.2,846.2 450.8,846.1 451.2,846.0 451.8,846.1 452.2,846.0 452.8,846.0 453.2,846.0 453.8,845.9 454.2,846.0 454.8,846.3 455.2,846.1 455.8,846.2 456.2,845.8 456.8,846.4 457.2,846.1 457.8,846.0 458.2,845.9 458.8,845.8 459.2,845.9 459.8,846.1 460.2,845.9 460.8,846.3 461.2,845.8 461.8,845.6 462.2,845.8 462.8,846.0 463.2,846.0 463.8,845.6 464.2,845.7 464.8,846.0 465.2,845.5 465.8,845.8 466.2,845.6 466.8,845.7 467.2,845.6 467.8,845.8 468.2,845.9 468.8,845.6 469.2,845.8 469.8,845.7 470.2,845.5 470.8,845.5 471.2,845.7 471.8,845.6 472.2,845.5 472.8,845.7 473.2,845.6 473.8,845.4 474.2,845.7 474.8,845.6 475.2,845.6 475.8,845.6 476.2,845.3 476.8,845.5 477.2,845.4 477.8,845.4 478.2,845.7 478.8,845.4 479.2,845.7 479.8,845.4 480.2,845.4 480.8,845.6 481.2,845.5 481.8,845.2 482.2,845.5 482.8,845.3 483.2,845.4 483.8,845.4 484.2,845.3 484.8,845.1 485.2,845.4 485.8,845.3 486.2,845.3 486.8,845.2 487.2,845.3 487.8,845.3 488.2,845.3 488.8,845.5 489.2,845.3 489.8,845.3 490.2,845.1 490.8,845.3 491.2,845.6 491.8,845.0 492.2,845.4 492.8,845.3 493.2,845.2 493.8,845.2 494.2,845.3 494.8,845.0 495.2,845.5 495.8,845.3 496.2,845.4 496.8,845.3 497.2,845.3 497.8,845.3 498.2,845.2 498.8,845.4 499.2,845.2 499.8,845.2 500.2,845.1 500.8,845.1 501.2,845.3 501.8,845.1 502.2,845.3 502.8,845.1 503.2,844.9 503.8,845.2 504.2,845.1 504.8,845.1 505.2,845.3 505.8,845.2 506.2,844.9 506.8,845.1 507.2,845.0 507.8,845.0 508.2,845.3 508.8,844.7 509.2,845.0 509.8,845.0 510.2,845.2 510.8,845.2 511.2,844.9 511.8,844.6 512.2,845.3 512.8,844.9 513.2,845.0 513.8,845.0 514.2,845.0 514.8,845.0 515.2,844.9 515.8,845.1 516.2,845.1" stroke-width="2.4"/>
<path d="M51.2,870.4 51.8,870.5 52.2,870.9 52.8,871.1 53.2,871.0 53.8,871.2 54.2,870.8 54.8,871.2 55.2,871.2 55.8,871.2 56.2,871.4 56.8,871.4 57.2,871.2 57.8,871.2 58.2,871.5 58.8,871.2 59.2,871.1 59.8,871.2 60.2,870.8 60.8,870.8 61.2,870.4 61.8,869.9 62.2,869.2 62.8,868.7 63.2,868.0 63.8,867.7 64.2,866.7 64.8,865.9 65.2,864.6 65.8,863.0 66.2,860.8 66.8,858.9 67.2,856.5 67.8,853.6 68.2,850.8 68.8,847.8 69.2,844.2 69.8,840.3 70.2,835.9 70.8,831.8 71.2,827.4 71.8,822.5 72.2,817.5 72.8,812.0 73.2,807.6 73.8,804.9 74.2,803.7 74.8,802.4 75.2,803.3 75.8,808.1 76.2,814.4 76.8,820.6 77.2,827.5 77.8,834.5 78.2,840.2 78.8,844.9 79.2,849.5 79.8,852.9 80.2,854.5 80.8,854.8 81.2,855.6 81.8,856.0 82.2,856.6 82.8,856.6 83.2,856.8 83.8,856.9 84.2,857.2 84.8,857.4 85.2,857.5 85.8,857.6 86.2,857.7 86.8,857.7 87.2,857.9 87.8,858.1 88.2,858.5 88.8,859.0 89.2,859.8 89.8,860.2 90.2,860.7 90.8,861.5 91.2,862.0 91.8,862.9 92.2,863.5 92.8,863.9 93.2,864.8 93.8,865.1 94.2,865.6 94.8,866.3 95.2,866.9 95.8,867.3 96.2,867.9 96.8,868.1 97.2,868.8 97.8,868.8 98.2,869.3 98.8,869.3 99.2,869.7 99.8,869.6 100.2,870.0 100.8,870.1 101.2,870.0 101.8,870.3 102.2,870.1 102.8,870.4 103.2,870.6 103.8,870.6 104.2,870.8 104.8,870.6 105.2,870.6 105.8,871.1 106.2,870.8 106.8,871.4 107.2,871.3 107.8,871.4 108.2,871.4 108.8,871.4 109.2,871.6 109.8,871.8 110.2,871.8 110.8,871.9 111.2,872.3 111.8,872.2 112.2,872.5 112.8,872.6 113.2,872.9 113.8,872.9 114.2,872.5 114.8,873.0 115.2,873.0 115.8,873.4 116.2,873.0 116.8,873.0 117.2,873.0 117.8,873.0 118.2,872.9 118.8,873.2 119.2,873.0 119.8,873.0 120.2,873.1 120.8,872.6 121.2,873.0 121.8,872.7 122.2,872.7 122.8,872.5 123.2,872.5 123.8,872.4 124.2,872.4 124.8,872.0 125.2,871.5 125.8,870.9 126.2,869.9 126.8,868.9 127.2,868.0 127.8,867.1 128.2,866.2 128.8,865.1 129.2,863.9 129.8,862.2 130.2,860.1 130.8,858.1 131.2,856.0 131.8,854.5 132.2,853.0 132.8,852.0 133.2,851.0 133.8,849.9 134.2,849.5 134.8,848.8 135.2,848.7 135.8,849.9 136.2,851.1 136.8,853.3 137.2,855.1 137.8,856.6 138.2,858.2 138.8,859.8 139.2,861.3 139.8,862.8 140.2,864.2 140.8,865.4 141.2,866.4 141.8,867.2 142.2,867.8 142.8,868.3 143.2,868.8 143.8,868.9 144.2,869.4 144.8,870.1 145.2,870.2 145.8,870.4 146.2,870.5 146.8,870.9 147.2,871.1 147.8,871.1 148.2,871.1 148.8,871.5 149.2,871.2 149.8,871.3 150.2,871.3 150.8,871.1 151.2,871.3 151.8,871.0 152.2,871.0 152.8,871.3 153.2,871.0 153.8,871.0 154.2,870.8 154.8,871.0 155.2,870.9 155.8,870.7 156.2,870.8 156.8,870.7 157.2,870.4 157.8,870.5 158.2,870.3 158.8,870.1 159.2,870.3 159.8,869.7 160.2,870.0 160.8,869.7 161.2,869.8 161.8,869.5 162.2,869.3 162.8,869.1 163.2,868.6 163.8,868.6 164.2,868.3 164.8,868.2 165.2,868.0 165.8,867.7 166.2,867.4 166.8,867.3 167.2,866.9 167.8,866.6 168.2,866.7 168.8,866.0 169.2,865.6 169.8,865.2 170.2,864.7 170.8,864.2 171.2,863.6 171.8,862.3 172.2,861.8 172.8,860.7 173.2,859.6 173.8,858.6 174.2,858.0 174.8,856.4 175.2,855.3 175.8,854.5 176.2,852.9 176.8,852.4 177.2,852.2 177.8,852.1 178.2,852.7 178.8,854.0 179.2,855.0 179.8,856.6 180.2,858.3 180.8,859.2 181.2,860.1 181.8,861.8 182.2,862.5 182.8,863.7 183.2,864.7 183.8,865.6 184.2,866.3 184.8,867.2 185.2,867.5 185.8,868.3 186.2,869.1 186.8,869.5 187.2,870.0 187.8,870.6 188.2,871.1 188.8,871.6 189.2,871.8 189.8,872.1 190.2,872.4 190.8,872.7 191.2,872.8 191.8,873.2 192.2,873.3 192.8,873.6 193.2,873.7 193.8,873.7 194.2,873.9 194.8,874.2 195.2,874.1 195.8,874.3 196.2,874.7 196.8,874.8 197.2,874.7 197.8,874.8 198.2,874.9 198.8,875.0 199.2,874.9 199.8,874.9 200.2,874.8 200.8,875.2 201.2,875.3 201.8,875.4 202.2,875.2 202.8,875.3 203.2,875.4 203.8,875.4 204.2,875.5 204.8,875.4 205.2,875.3 205.8,875.7 206.2,875.3 206.8,875.6 207.2,875.4 207.8,875.7 208.2,875.4 208.8,875.6 209.2,875.5 209.8,875.8 210.2,875.6 210.8,875.5 211.2,875.6 211.8,875.7 212.2,875.8 212.8,875.6 213.2,876.1 213.8,875.6 214.2,875.8 214.8,875.8 215.2,875.8 215.8,875.9 216.2,875.7 216.8,875.8 217.2,875.9 217.8,875.8 218.2,876.1 218.8,875.9 219.2,876.2 219.8,875.9 220.2,876.3 220.8,876.0 221.2,876.4 221.8,876.1 222.2,876.1 222.8,876.2 223.2,875.6 223.8,876.0 224.2,876.1 224.8,876.0 225.2,876.3 225.8,876.6 226.2,875.8 226.8,876.1 227.2,876.2 227.8,876.1 228.2,876.3 228.8,876.2 229.2,876.3 229.8,876.5 230.2,876.3 230.8,876.3 231.2,876.2 231.8,876.1 232.2,876.3 232.8,876.2 233.2,876.2 233.8,876.2 234.2,876.1 234.8,876.3 235.2,876.2 235.8,876.0 236.2,876.2 236.8,876.4 237.2,876.4 237.8,876.2 238.2,876.3 238.8,876.2 239.2,876.6 239.8,876.3 240.2,876.2 240.8,876.4 241.2,876.2 241.8,876.2 242.2,876.0 242.8,876.1 243.2,876.1 243.8,876.1 244.2,876.1 244.8,876.3 245.2,876.1 245.8,876.5 246.2,876.2 246.8,876.1 247.2,876.3 247.8,876.2 248.2,876.2 248.8,876.2 249.2,876.5 249.8,876.1 250.2,876.4 250.8,876.3 251.2,876.4 251.8,876.3 252.2,876.6 252.8,876.2 253.2,876.3 253.8,876.2 254.2,876.3 254.8,876.1 255.2,876.2 255.8,876.1 256.2,876.1 256.8,876.3 257.2,876.3 257.8,876.3 258.2,876.2 258.8,876.1 259.2,876.3 259.8,876.1 260.2,876.0 260.8,876.4 261.2,876.2 261.8,876.2 262.2,876.4 262.8,876.1 263.2,876.3 263.8,875.9 264.2,875.8 264.8,875.8 265.2,876.1 265.8,876.0 266.2,875.9 266.8,875.6 267.2,875.7 267.8,875.9 268.2,875.8 268.8,875.6 269.2,875.7 269.8,876.0 270.2,875.5 270.8,875.3 271.2,875.4 271.8,875.5 272.2,875.6 272.8,875.3 273.2,875.0 273.8,875.1 274.2,875.3 274.8,874.9 275.2,875.1 275.8,874.7 276.2,874.8 276.8,874.6 277.2,874.3 277.8,874.3 278.2,874.2 278.8,873.9 279.2,873.6 279.8,873.6 280.2,873.5 280.8,873.3 281.2,872.9 281.8,872.6 282.2,872.6 282.8,872.5 283.2,872.4 283.8,872.0 284.2,871.9 284.8,871.7 285.2,871.5 285.8,871.9 286.2,871.4 286.8,871.1 287.2,871.1 287.8,871.0 288.2,870.7 288.8,870.5 289.2,870.5 289.8,870.4 290.2,870.5 290.8,870.5 291.2,870.0 291.8,870.1 292.2,870.1 292.8,870.4 293.2,870.2 293.8,870.0 294.2,870.0 294.8,870.0 295.2,869.7 295.8,870.1 296.2,870.0 296.8,869.9 297.2,869.8 297.8,869.7 298.2,869.6 298.8,869.4 299.2,869.7 299.8,869.4 300.2,869.5 300.8,869.3 301.2,869.2 301.8,869.3 302.2,869.1 302.8,868.9 303.2,869.0 303.8,869.0 304.2,868.7 304.8,868.6 305.2,868.4 305.8,868.6 306.2,868.3 306.8,868.0 307.2,868.2 307.8,868.2 308.2,867.8 308.8,867.5 309.2,867.3 309.8,867.3 310.2,867.7 310.8,867.1 311.2,867.0 311.8,867.1 312.2,867.1 312.8,866.9 313.2,866.9 313.8,866.9 314.2,867.0 314.8,866.8 315.2,866.6 315.8,866.5 316.2,866.5 316.8,866.3 317.2,866.4 317.8,866.6 318.2,866.3 318.8,866.2 319.2,866.3 319.8,866.1 320.2,866.5 320.8,866.6 321.2,866.8 321.8,867.0 322.2,867.4 322.8,867.8 323.2,868.0 323.8,868.5 324.2,869.0 324.8,869.5 325.2,869.9 325.8,869.9 326.2,870.2 326.8,870.5 327.2,870.7 327.8,870.9 328.2,871.3 328.8,871.7 329.2,871.6 329.8,872.1 330.2,872.1 330.8,872.6 331.2,872.6 331.8,872.6 332.2,872.7 332.8,873.0 333.2,873.3 333.8,873.2 334.2,873.4 334.8,873.4 335.2,873.5 335.8,873.7 336.2,873.7 336.8,874.0 337.2,873.9 337.8,874.4 338.2,874.2 338.8,874.3 339.2,874.6 339.8,874.5 340.2,874.8 340.8,874.6 341.2,874.6 341.8,874.7 342.2,875.1 342.8,874.6 343.2,875.0 343.8,875.2 344.2,874.9 344.8,875.2 345.2,875.1 345.8,875.1 346.2,875.0 346.8,875.0 347.2,874.9 347.8,875.0 348.2,875.1 348.8,875.0 349.2,875.2 349.8,875.1 350.2,875.0 350.8,875.0 351.2,875.1 351.8,875.0 352.2,875.3 352.8,875.0 353.2,875.1 353.8,874.8 354.2,875.0 354.8,875.2 355.2,875.1 355.8,875.1 356.2,875.0 356.8,874.9 357.2,875.0 357.8,874.8 358.2,875.0 358.8,875.3 359.2,875.0 359.8,874.9 360.2,875.2 360.8,875.1 361.2,874.9 361.8,875.0 362.2,875.0 362.8,874.9 363.2,875.0 363.8,875.0 364.2,874.9 364.8,875.0 365.2,875.2 365.8,875.2 366.2,875.0 366.8,874.6 367.2,874.9 367.8,874.7 368.2,874.8 368.8,874.6 369.2,875.0 369.8,874.7 370.2,874.8 370.8,874.2 371.2,874.7 371.8,874.4 372.2,874.5 372.8,874.2 373.2,874.1 373.8,873.8 374.2,873.9 374.8,873.6 375.2,873.7 375.8,873.5 376.2,873.6 376.8,873.8 377.2,873.5 377.8,873.4 378.2,873.3 378.8,873.1 379.2,873.0 379.8,873.1 380.2,873.0 380.8,872.7 381.2,873.0 381.8,872.9 382.2,872.6 382.8,872.7 383.2,872.5 383.8,872.6 384.2,872.3 384.8,872.2 385.2,872.5 385.8,872.5 386.2,872.3 386.8,872.4 387.2,872.4 387.8,872.3 388.2,872.8 388.8,872.6 389.2,872.4 389.8,872.5 390.2,872.5 390.8,872.6 391.2,872.4 391.8,872.6 392.2,872.5 392.8,872.6 393.2,872.8 393.8,872.7 394.2,872.7 394.8,872.8 395.2,872.8 395.8,872.9 396.2,872.9 396.8,872.6 397.2,872.8 397.8,872.5 398.2,873.0 398.8,872.8 399.2,872.7 399.8,872.8 400.2,872.7 400.8,872.9 401.2,873.1 401.8,872.8 402.2,872.9 402.8,872.9 403.2,873.0 403.8,873.1 404.2,872.7 404.8,873.0 405.2,872.9 405.8,872.9 406.2,873.2 406.8,873.4 407.2,873.1 407.8,873.4 408.2,873.1 408.8,873.4 409.2,873.5 409.8,873.4 410.2,873.7 410.8,873.8 411.2,873.7 411.8,873.8 412.2,874.1 412.8,874.2 413.2,874.2 413.8,874.4 414.2,874.4 414.8,874.4 415.2,874.4 415.8,874.6 416.2,874.7 416.8,875.0 417.2,874.9 417.8,874.8 418.2,874.7 418.8,874.8 419.2,875.0 419.8,874.9 420.2,874.9 420.8,874.9 421.2,875.0 421.8,874.9 422.2,874.9 422.8,875.2 423.2,875.1 423.8,875.2 424.2,875.4 424.8,875.1 425.2,875.2 425.8,875.5 426.2,875.5 426.8,875.5 427.2,875.0 427.8,875.2 428.2,875.3 428.8,875.2 429.2,875.2 429.8,875.6 430.2,875.1 430.8,875.2 431.2,875.3 431.8,875.8 432.2,875.4 432.8,875.3 433.2,875.3 433.8,875.4 434.2,875.6 434.8,875.4 435.2,875.5 435.8,875.4 436.2,875.7 436.8,875.8 437.2,875.5 437.8,875.4 438.2,875.3 438.8,875.6 439.2,875.4 439.8,875.8 440.2,875.6 440.8,875.3 441.2,875.4 441.8,875.3 442.2,875.6 442.8,875.7 443.2,875.5 443.8,875.4 444.2,875.7 444.8,875.5 445.2,875.5 445.8,875.3 446.2,875.5 446.8,875.5 447.2,875.3 447.8,875.6 448.2,875.5 448.8,875.5 449.2,874.9 449.8,875.7 450.2,875.3 450.8,875.4 451.2,875.2 451.8,875.3 452.2,875.3 452.8,875.5 453.2,875.2 453.8,875.4 454.2,875.4 454.8,875.3 455.2,875.3 455.8,875.4 456.2,875.1 456.8,875.2 457.2,875.2 457.8,875.3 458.2,875.6 458.8,875.1 459.2,875.5 459.8,875.1 460.2,875.2 460.8,875.3 461.2,874.9 461.8,875.4 462.2,875.2 462.8,875.2 463.2,875.5 463.8,875.1 464.2,875.2 464.8,874.9 465.2,875.2 465.8,875.1 466.2,875.1 466.8,875.1 467.2,875.2 467.8,875.0 468.2,875.2 468.8,875.1 469.2,874.8 469.8,875.1 470.2,875.1 470.8,874.9 471.2,874.9 471.8,875.0 472.2,875.1 472.8,875.1 473.2,874.8 473.8,875.0 474.2,874.8 474.8,875.0 475.2,875.1 475.8,874.9 476.2,874.9 476.8,874.6 477.2,874.9 477.8,874.7 478.2,875.0 478.8,875.0 479.2,875.0 479.8,875.1 480.2,875.0 480.8,875.0 481.2,875.0 481.8,875.1 482.2,874.9 482.8,875.3 483.2,875.0 483.8,875.1 484.2,875.0 484.8,875.1 485.2,874.9 485.8,875.1 486.2,874.9 486.8,875.2 487.2,874.9 487.8,875.0 488.2,874.8 488.8,874.9 489.2,874.8 489.8,874.8 490.2,875.1 490.8,874.8 491.2,874.8 491.8,875.0 492.2,875.4 492.8,874.6 493.2,875.1 493.8,875.0 494.2,875.1 494.8,875.0 495.2,875.1 495.8,875.2 496.2,874.9 496.8,874.7 497.2,874.8 497.8,875.0 498.2,875.1 498.8,875.1 499.2,874.8 499.8,875.0 500.2,874.9 500.8,875.0 501.2,875.0 501.8,874.9 502.2,875.1 502.8,874.8 503.2,875.3 503.8,875.0 504.2,875.1 504.8,875.0 505.2,875.1 505.8,874.9 506.2,874.8 506.8,875.1 507.2,874.6 507.8,874.7 508.2,875.1 508.8,875.1 509.2,875.1 509.8,874.8 510.2,874.5 510.8,874.7 511.2,874.8 511.8,875.4 512.2,874.7 512.8,875.0 513.2,875.0 513.8,875.2 514.2,875.1 514.8,875.0 515.2,875.2 515.8,874.9 516.2,875.1" stroke-width="2.4"/>
<path d="M51.2,910.6 51.8,910.4 52.2,910.7 52.8,910.7 53.2,910.9 53.8,911.0 54.2,911.0 54.8,911.1 55.2,911.0 55.8,911.1 56.2,911.3 56.8,911.2 57.2,911.2 57.8,911.1 58.2,911.0 58.8,911.0 59.2,911.3 59.8,911.5 60.2,911.2 60.8,910.7 61.2,910.5 61.8,910.2 62.2,909.9 62.8,909.5 63.2,909.0 63.8,908.8 64.2,908.6 64.8,907.6 65.2,907.1 65.8,906.5 66.2,905.4 66.8,904.4 67.2,903.0 67.8,901.3 68.2,900.1 68.8,897.7 69.2,896.1 69.8,893.9 70.2,890.9 70.8,887.3 71.2,883.3 71.8,878.8 72.2,874.1 72.8,869.7 73.2,865.4 73.8,860.2 74.2,854.3 74.8,849.5 75.2,845.8 75.8,844.3 76.2,843.3 76.8,842.5 77.2,843.3 77.8,849.1 78.2,856.6 78.8,863.1 79.2,869.8 79.8,876.9 80.2,882.7 80.8,887.1 81.2,890.5 81.8,894.0 82.2,896.5 82.8,898.4 83.2,899.0 83.8,899.3 84.2,899.7 84.8,900.5 85.2,900.6 85.8,900.7 86.2,900.8 86.8,901.0 87.2,901.1 87.8,901.2 88.2,901.4 88.8,901.6 89.2,901.4 89.8,901.5 90.2,901.8 90.8,901.8 91.2,901.9 91.8,902.2 92.2,902.2 92.8,902.1 93.2,902.2 93.8,902.5 94.2,902.8 94.8,902.6 95.2,903.4 95.8,904.1 96.2,904.3 96.8,904.9 97.2,905.1 97.8,905.8 98.2,906.3 98.8,906.9 99.2,907.0 99.8,907.3 100.2,907.9 100.8,907.7 101.2,908.1 101.8,908.3 102.2,908.3 102.8,908.7 103.2,908.8 103.8,909.0 104.2,909.4 104.8,909.0 105.2,909.5 105.8,909.6 106.2,909.8 106.8,909.8 107.2,909.9 107.8,910.0 108.2,910.2 108.8,910.3 109.2,910.2 109.8,910.5 110.2,910.5 110.8,910.5 111.2,910.8 111.8,910.8 112.2,910.9 112.8,910.9 113.2,910.7 113.8,911.2 114.2,911.1 114.8,911.0 115.2,911.0 115.8,911.3 116.2,911.3 116.8,911.4 117.2,911.3 117.8,911.1 118.2,911.2 118.8,911.3 119.2,911.0 119.8,911.1 120.2,911.0 120.8,910.9 121.2,911.4 121.8,910.5 122.2,910.8 122.8,910.5 123.2,910.8 123.8,910.3 124.2,910.2 124.8,910.1 125.2,910.0 125.8,909.5 126.2,909.2 126.8,908.3 127.2,907.6 127.8,906.4 128.2,905.2 128.8,904.2 129.2,902.9 129.8,901.6 130.2,900.5 130.8,898.8 131.2,897.1 131.8,895.1 132.2,892.6 132.8,890.7 133.2,888.8 133.8,887.6 134.2,886.4 134.8,884.9 135.2,884.2 135.8,883.5 136.2,884.2 136.8,885.5 137.2,887.0 137.8,889.0 138.2,890.9 138.8,892.9 139.2,894.2 139.8,896.1 140.2,898.2 140.8,900.0 141.2,902.1 141.8,903.3 142.2,904.6 142.8,905.2 143.2,905.7 143.8,906.5 144.2,906.9 144.8,907.3 145.2,907.9 145.8,908.2 146.2,908.7 146.8,909.0 147.2,909.3 147.8,909.6 148.2,909.5 148.8,909.4 149.2,909.5 149.8,909.4 150.2,909.3 150.8,909.6 151.2,909.4 151.8,909.4 152.2,909.4 152.8,909.5 153.2,909.4 153.8,909.2 154.2,909.5 154.8,909.5 155.2,909.5 155.8,909.8 156.2,909.4 156.8,909.8 157.2,909.6 157.8,909.4 158.2,909.8 158.8,909.5 159.2,909.7 159.8,909.3 160.2,909.7 160.8,909.5 161.2,909.2 161.8,909.3 162.2,908.6 162.8,908.8 163.2,907.9 163.8,907.8 164.2,907.4 164.8,906.5 165.2,906.7 165.8,906.3 166.2,905.9 166.8,905.7 167.2,905.3 167.8,905.6 168.2,905.2 168.8,905.2 169.2,905.4 169.8,905.3 170.2,904.6 170.8,904.5 171.2,904.0 171.8,903.1 172.2,901.8 172.8,900.8 173.2,899.8 173.8,898.9 174.2,897.6 174.8,895.8 175.2,894.5 175.8,892.9 176.2,891.6 176.8,890.4 177.2,889.6 177.8,889.3 178.2,888.9 178.8,888.6 179.2,889.3 179.8,891.6 180.2,894.1 180.8,896.3 181.2,898.0 181.8,899.0 182.2,900.0 182.8,901.1 183.2,901.9 183.8,902.4 184.2,902.5 184.8,903.1 185.2,903.1 185.8,903.2 186.2,903.5 186.8,903.9 187.2,903.5 187.8,903.9 188.2,904.0 188.8,904.3 189.2,904.1 189.8,904.4 190.2,904.5 190.8,904.9 191.2,905.7 191.8,906.4 192.2,906.6 192.8,907.3 193.2,908.1 193.8,908.9 194.2,909.1 194.8,909.8 195.2,910.1 195.8,910.4 196.2,911.1 196.8,911.4 197.2,911.8 197.8,911.8 198.2,912.4 198.8,912.7 199.2,913.3 199.8,912.9 200.2,913.0 200.8,913.2 201.2,913.3 201.8,913.3 202.2,913.4 202.8,913.0 203.2,913.3 203.8,913.3 204.2,913.4 204.8,913.2 205.2,913.6 205.8,913.5 206.2,913.7 206.8,913.6 207.2,913.7 207.8,913.9 208.2,913.6 208.8,913.5 209.2,913.8 209.8,913.7 210.2,913.8 210.8,913.8 211.2,913.6 211.8,913.8 212.2,913.9 212.8,914.1 213.2,914.1 213.8,914.3 214.2,914.1 214.8,914.4 215.2,914.4 215.8,914.1 216.2,914.1 216.8,914.0 217.2,914.2 217.8,914.2 218.2,914.3 218.8,914.6 219.2,914.6 219.8,914.4 220.2,914.2 220.8,914.4 221.2,914.4 221.8,914.3 222.2,914.4 222.8,914.5 223.2,914.3 223.8,914.3 224.2,914.4 224.8,914.5 225.2,914.6 225.8,914.3 226.2,914.6 226.8,914.5 227.2,914.5 227.8,914.5 228.2,914.4 228.8,914.1 229.2,914.3 229.8,914.5 230.2,914.5 230.8,914.5 231.2,914.5 231.8,914.5 232.2,914.4 232.8,914.7 233.2,914.3 233.8,914.4 234.2,914.3 234.8,914.4 235.2,914.6 235.8,914.7 236.2,914.6 236.8,914.6 237.2,914.6 237.8,914.5 238.2,914.5 238.8,914.2 239.2,914.2 239.8,914.4 240.2,914.3 240.8,914.2 241.2,914.4 241.8,914.1 242.2,914.2 242.8,914.1 243.2,913.9 243.8,914.3 244.2,913.7 244.8,913.8 245.2,913.8 245.8,914.1 246.2,914.0 246.8,913.7 247.2,913.9 247.8,913.7 248.2,913.5 248.8,913.7 249.2,913.6 249.8,913.5 250.2,913.6 250.8,913.6 251.2,913.3 251.8,913.7 252.2,913.4 252.8,913.3 253.2,913.5 253.8,913.4 254.2,913.4 254.8,913.3 255.2,913.1 255.8,913.2 256.2,913.1 256.8,912.9 257.2,912.9 257.8,913.1 258.2,913.1 258.8,912.7 259.2,913.2 259.8,913.0 260.2,913.0 260.8,912.8 261.2,912.9 261.8,912.9 262.2,912.6 262.8,912.9 263.2,913.1 263.8,912.6 264.2,912.4 264.8,912.6 265.2,912.8 265.8,912.7 266.2,912.5 266.8,912.5 267.2,912.3 267.8,912.6 268.2,912.2 268.8,912.5 269.2,912.3 269.8,912.4 270.2,912.5 270.8,912.4 271.2,912.4 271.8,912.4 272.2,912.2 272.8,912.1 273.2,911.9 273.8,912.2 274.2,912.3 274.8,912.3 275.2,911.7 275.8,911.7 276.2,911.7 276.8,911.7 277.2,911.0 277.8,910.9 278.2,910.6 278.8,910.1 279.2,909.8 279.8,909.4 280.2,908.9 280.8,909.1 281.2,908.6 281.8,908.2 282.2,908.3 282.8,907.9 283.2,907.9 283.8,907.5 284.2,907.6 284.8,907.4 285.2,907.0 285.8,907.1 286.2,907.0 286.8,906.7 287.2,906.4 287.8,906.3 288.2,906.4 288.8,906.4 289.2,905.9 289.8,906.4 290.2,906.3 290.8,906.5 291.2,906.3 291.8,906.3 292.2,906.5 292.8,906.3 293.2,906.6 293.8,906.4 294.2,906.6 294.8,906.8 295.2,906.9 295.8,906.8 296.2,907.2 296.8,907.2 297.2,907.4 297.8,907.2 298.2,907.3 298.8,907.5 299.2,907.3 299.8,907.5 300.2,907.4 300.8,907.7 301.2,907.3 301.8,907.5 302.2,907.0 302.8,907.2 303.2,907.2 303.8,907.0 304.2,906.8 304.8,906.6 305.2,906.6 305.8,906.5 306.2,906.3 306.8,906.1 307.2,905.9 307.8,906.0 308.2,905.9 308.8,905.7 309.2,905.5 309.8,905.3 310.2,905.1 310.8,905.0 311.2,904.8 311.8,904.5 312.2,904.4 312.8,904.5 313.2,904.1 313.8,904.4 314.2,904.0 314.8,904.0 315.2,903.8 315.8,903.5 316.2,903.5 316.8,903.3 317.2,903.2 317.8,903.1 318.2,903.1 318.8,902.8 319.2,902.8 319.8,902.5 320.2,902.7 320.8,902.5 321.2,902.5 321.8,902.5 322.2,902.6 322.8,902.7 323.2,903.9 323.8,904.2 324.2,904.3 324.8,904.9 325.2,905.2 325.8,906.0 326.2,906.3 326.8,906.7 327.2,906.8 327.8,907.3 328.2,907.6 328.8,907.7 329.2,908.5 329.8,908.5 330.2,909.0 330.8,909.3 331.2,909.6 331.8,909.9 332.2,910.0 332.8,909.9 333.2,910.4 333.8,910.9 334.2,910.6 334.8,910.9 335.2,910.9 335.8,910.9 336.2,911.1 336.8,911.4 337.2,911.4 337.8,911.4 338.2,911.6 338.8,911.3 339.2,911.4 339.8,911.4 340.2,911.8 340.8,912.1 341.2,912.2 341.8,912.0 342.2,912.2 342.8,912.3 343.2,912.5 343.8,912.1 344.2,912.1 344.8,912.4 345.2,912.3 345.8,912.2 346.2,912.4 346.8,912.8 347.2,912.5 347.8,912.4 348.2,912.6 348.8,912.3 349.2,912.5 349.8,912.4 350.2,912.5 350.8,912.5 351.2,912.5 351.8,912.3 352.2,912.4 352.8,912.6 353.2,912.3 353.8,912.6 354.2,912.4 354.8,912.2 355.2,912.5 355.8,912.4 356.2,912.2 356.8,912.4 357.2,912.1 357.8,912.1 358.2,912.1 358.8,912.3 359.2,912.4 359.8,912.1 360.2,912.2 360.8,912.1 361.2,912.1 361.8,912.2 362.2,912.0 362.8,912.1 363.2,912.0 363.8,911.8 364.2,911.9 364.8,912.0 365.2,911.3 365.8,911.5 366.2,911.6 366.8,911.5 367.2,911.2 367.8,911.2 368.2,910.9 368.8,910.9 369.2,910.8 369.8,910.7 370.2,910.4 370.8,910.4 371.2,910.0 371.8,910.2 372.2,910.2 372.8,909.7 373.2,909.8 373.8,909.4 374.2,909.7 374.8,909.5 375.2,909.5 375.8,909.3 376.2,909.2 376.8,909.4 377.2,909.3 377.8,909.3 378.2,909.2 378.8,908.9 379.2,909.3 379.8,908.6 380.2,909.0 380.8,909.0 381.2,909.0 381.8,908.6 382.2,908.8 382.8,908.5 383.2,909.0 383.8,908.2 384.2,908.6 384.8,908.6 385.2,908.3 385.8,908.3 386.2,908.8 386.8,908.2 387.2,908.2 387.8,908.3 388.2,908.2 388.8,907.8 389.2,907.9 389.8,907.9 390.2,907.9 390.8,908.0 391.2,908.0 391.8,908.0 392.2,908.1 392.8,908.0 393.2,908.1 393.8,908.1 394.2,908.1 394.8,908.1 395.2,908.3 395.8,908.3 396.2,908.6 396.8,908.3 397.2,908.3 397.8,908.4 398.2,908.3 398.8,908.4 399.2,908.3 399.8,908.3 400.2,908.1 400.8,908.6 401.2,908.3 401.8,908.7 402.2,908.4 402.8,908.4 403.2,908.5 403.8,908.6 404.2,908.8 404.8,908.7 405.2,908.7 405.8,909.2 406.2,908.6 406.8,909.0 407.2,909.1 407.8,909.2 408.2,909.5 408.8,909.3 409.2,909.1 409.8,909.7 410.2,909.4 410.8,909.5 411.2,909.8 411.8,909.7 412.2,909.9 412.8,910.1 413.2,910.0 413.8,910.4 414.2,910.2 414.8,910.4 415.2,910.3 415.8,910.8 416.2,910.9 416.8,910.9 417.2,910.9 417.8,910.9 418.2,911.4 418.8,911.1 419.2,911.1 419.8,911.3 420.2,911.2 420.8,911.1 421.2,911.6 421.8,911.3 422.2,911.3 422.8,911.5 423.2,911.3 423.8,911.2 424.2,911.1 424.8,911.6 425.2,911.8 425.8,911.3 426.2,911.7 426.8,911.4 427.2,911.9 427.8,911.7 428.2,911.8 428.8,911.7 429.2,911.6 429.8,911.7 430.2,911.9 430.8,911.8 431.2,911.7 431.8,912.1 432.2,911.9 432.8,911.9 433.2,911.9 433.8,911.9 434.2,912.0 434.8,911.8 435.2,912.4 435.8,911.9 436.2,911.8 436.8,912.1 437.2,911.9 437.8,911.9 438.2,911.8 438.8,911.9 439.2,912.0 439.8,911.8 440.2,912.0 440.8,912.2 441.2,912.1 441.8,912.0 442.2,911.8 442.8,912.2 443.2,912.0 443.8,912.2 444.2,911.7 444.8,911.9 445.2,912.0 445.8,912.0 446.2,912.0 446.8,912.0 447.2,911.6 447.8,912.2 448.2,912.0 448.8,912.1 449.2,911.9 449.8,911.9 450.2,911.5 450.8,911.9 451.2,911.6 451.8,912.0 452.2,911.7 452.8,911.9 453.2,911.9 453.8,911.8 454.2,911.6 454.8,912.2 455.2,911.5 455.8,911.6 456.2,911.5 456.8,911.9 457.2,911.8 457.8,911.6 458.2,911.5 458.8,911.6 459.2,911.7 459.8,911.8 460.2,911.5 460.8,911.6 461.2,911.9 461.8,911.8 462.2,911.6 462.8,911.5 463.2,911.6 463.8,911.4 464.2,911.5 464.8,911.5 465.2,911.5 465.8,911.5 466.2,911.6 466.8,911.5 467.2,911.4 467.8,911.3 468.2,911.3 468.8,911.6 469.2,911.4 469.8,911.6 470.2,911.2 470.8,911.5 471.2,911.7 471.8,911.2 472.2,911.5 472.8,911.2 473.2,911.3 473.8,911.2 474.2,911.3 474.8,911.3 475.2,911.1 475.8,911.4 476.2,911.2 476.8,911.2 477.2,911.5 477.8,911.4 478.2,911.1 478.8,911.3 479.2,911.2 479.8,911.0 480.2,911.4 480.8,911.0 481.2,911.2 481.8,910.9 482.2,911.3 482.8,911.2 483.2,911.3 483.8,911.3 484.2,911.3 484.8,911.2 485.2,911.1 485.8,911.0 486.2,911.5 486.8,911.2 487.2,911.5 487.8,911.4 488.2,911.2 488.8,911.2 489.2,911.3 489.8,911.3 490.2,911.3 490.8,911.3 491.2,911.3 491.8,911.2 492.2,911.1 492.8,911.3 493.2,911.1 493.8,911.3 494.2,911.2 494.8,911.1 495.2,911.1 495.8,911.1 496.2,911.2 496.8,911.2 497.2,911.4 497.8,911.2 498.2,911.2 498.8,911.1 499.2,911.3 499.8,911.1 500.2,911.2 500.8,911.3 501.2,911.4 501.8,911.4 502.2,911.4 502.8,911.3 503.2,911.2 503.8,911.4 504.2,911.2 504.8,911.0 505.2,911.3 505.8,911.2 506.2,911.4 506.8,911.2 507.2,911.1 507.8,911.3 508.2,911.3 508.8,911.1 509.2,911.0 509.8,911.1 510.2,911.4 510.8,911.5 511.2,911.4 511.8,911.1 512.2,911.2 512.8,911.2 513.2,911.3 513.8,911.1 514.2,911.4 514.8,911.4 515.2,911.1 515.8,911.2 516.2,911.3" stroke-width="2.4"/>
<path d="M53.0,956.4 53.5,956.7 54.0,956.7 54.5,957.0 55.0,957.6 55.5,958.0 56.0,958.2 56.5,958.2 57.0,958.7 57.5,959.0 58.0,959.1 58.5,959.2 59.0,959.9 59.5,959.9 60.0,960.1 60.5,960.5 61.0,960.5 61.5,960.4 62.0,960.7 62.5,961.1 63.0,961.1 63.5,961.2 64.0,961.7 64.5,961.6 65.0,961.8 65.5,961.9 66.0,961.6 66.5,961.9 67.0,962.0 67.5,962.0 68.0,962.1 68.5,961.8 69.0,961.6 69.5,961.6 70.0,961.4 70.5,961.0 71.0,960.9 71.5,960.8 72.0,960.2 72.5,959.7 73.0,959.7 73.5,959.3 74.0,958.4 74.5,957.8 75.0,956.5 75.5,955.2 76.0,953.4 76.5,951.7 77.0,949.9 77.5,947.4 78.0,945.1 78.5,941.8 79.0,938.1 79.5,933.4 80.0,928.4 80.5,922.8 81.0,917.6 81.5,911.9 82.0,905.5 82.5,899.1 83.0,893.9 83.5,891.4 84.0,890.3 84.5,889.6 85.0,890.8 85.5,894.1 86.0,898.0 86.5,902.2 87.0,907.7 87.5,913.3 88.0,919.8 88.5,924.9 89.0,929.6 89.5,933.6 90.0,937.8 90.5,941.0 91.0,943.3 91.5,944.2 92.0,945.0 92.5,945.3 93.0,945.8 93.5,946.2 94.0,946.7 94.5,946.8 95.0,947.2 95.5,947.2 96.0,947.1 96.5,947.0 97.0,947.1 97.5,946.7 98.0,947.0 98.5,946.7 99.0,947.0 99.5,946.7 100.0,946.6 100.5,946.5 101.0,946.6 101.5,946.6 102.0,946.5 102.5,946.2 103.0,946.2 103.5,946.0 104.0,946.0 104.5,945.8 105.0,945.5 105.5,945.3 106.0,945.4 106.5,945.1 107.0,944.7 107.5,944.4 108.0,944.3 108.5,943.8 109.0,943.7 109.5,943.2 110.0,942.6 110.5,941.8 111.0,941.8 111.5,941.3 112.0,940.4 112.5,940.5 113.0,940.2 113.5,940.3 114.0,940.5 114.5,940.5 115.0,940.1 115.5,940.1 116.0,940.1 116.5,940.7 117.0,941.3 117.5,942.0 118.0,942.6 118.5,943.3 119.0,944.3 119.5,945.1 120.0,945.8 120.5,946.8 121.0,947.5 121.5,948.6 122.0,949.8 122.5,950.8 123.0,951.3 123.5,952.2 124.0,952.7 124.5,953.2 125.0,954.0 125.5,954.5 126.0,954.5 126.5,955.4 127.0,955.7 127.5,955.9 128.0,956.2 128.5,956.3 129.0,956.4 129.5,956.2 130.0,956.0 130.5,955.8 131.0,955.8 131.5,955.1 132.0,955.1 132.5,955.1 133.0,954.5 133.5,954.0 134.0,953.4 134.5,952.6 135.0,951.9 135.5,951.1 136.0,949.2 136.5,948.0 137.0,946.6 137.5,944.9 138.0,942.8 138.5,941.2 139.0,938.6 139.5,935.6 140.0,931.4 140.5,927.3 141.0,922.7 141.5,918.3 142.0,914.9 142.5,911.7 143.0,908.2 143.5,905.0 144.0,902.3 144.5,901.4 145.0,900.9 145.5,900.7 146.0,900.7 146.5,900.4 147.0,901.9 147.5,903.5 148.0,906.3 148.5,908.7 149.0,911.4 149.5,914.5 150.0,918.1 150.5,922.3 151.0,926.0 151.5,929.8 152.0,932.5 152.5,935.2 153.0,937.2 153.5,939.9 154.0,941.9 154.5,944.0 155.0,945.5 155.5,947.2 156.0,948.4 156.5,949.0 157.0,950.0 157.5,950.7 158.0,951.3 158.5,952.2 159.0,952.7 159.5,953.0 160.0,953.9 160.5,954.2 161.0,954.6 161.5,954.8 162.0,955.0 162.5,954.9 163.0,954.9 163.5,955.1 164.0,954.8 164.5,954.7 165.0,954.3 165.5,954.6 166.0,954.4 166.5,954.4 167.0,954.5 167.5,954.3 168.0,954.4 168.5,954.8 169.0,954.9 169.5,955.0 170.0,955.0 170.5,954.8 171.0,954.2 171.5,952.7 172.0,951.3 172.5,949.6 173.0,947.7 173.5,945.9 174.0,944.0 174.5,941.7 175.0,938.6 175.5,935.4 176.0,932.0 176.5,928.7 177.0,925.0 177.5,921.3 178.0,917.0 178.5,912.9 179.0,909.2 179.5,907.6 180.0,906.7 180.5,905.4 181.0,905.1 181.5,905.8 182.0,908.6 182.5,913.2 183.0,917.4 183.5,922.0 184.0,927.0 184.5,932.1 185.0,936.5 185.5,939.9 186.0,942.3 186.5,944.5 187.0,946.6 187.5,948.3 188.0,949.7 188.5,950.9 189.0,951.7 189.5,952.1 190.0,953.0 190.5,953.4 191.0,954.3 191.5,954.5 192.0,954.9 192.5,955.3 193.0,955.6 193.5,955.3 194.0,955.5 194.5,955.4 195.0,955.7 195.5,955.3 196.0,955.5 196.5,955.3 197.0,955.6 197.5,955.3 198.0,955.1 198.5,955.4 199.0,955.0 199.5,955.0 200.0,955.3 200.5,955.2 201.0,954.6 201.5,954.4 202.0,954.5 202.5,953.9 203.0,953.4 203.5,953.1 204.0,952.8 204.5,952.5 205.0,952.2 205.5,952.0 206.0,952.1 206.5,952.0 207.0,952.0 207.5,952.1 208.0,952.2 208.5,952.0 209.0,951.8 209.5,952.1 210.0,952.6 210.5,952.8 211.0,954.2 211.5,955.3 212.0,956.8 212.5,957.2 213.0,958.3 213.5,959.3 214.0,960.2 214.5,961.1 215.0,962.1 215.5,962.3 216.0,962.7 216.5,963.4 217.0,963.3 217.5,963.2 218.0,963.1 218.5,963.7 219.0,963.8 219.5,964.1 220.0,964.0 220.5,964.3 221.0,964.5 221.5,964.1 222.0,964.2 222.5,964.4 223.0,964.4 223.5,964.4 224.0,964.7 224.5,964.6 225.0,964.7 225.5,964.4 226.0,964.1 226.5,964.4 227.0,964.4 227.5,964.5 228.0,964.5 228.5,964.4 229.0,964.6 229.5,964.5 230.0,964.4 230.5,964.5 231.0,964.4 231.5,964.9 232.0,964.7 232.5,964.3 233.0,964.2 233.5,964.5 234.0,964.5 234.5,964.4 235.0,964.3 235.5,964.3 236.0,964.8 236.5,964.6 237.0,964.5 237.5,964.4 238.0,964.4 238.5,964.4 239.0,964.5 239.5,964.3 240.0,964.5 240.5,964.6 241.0,964.3 241.5,964.2 242.0,964.6 242.5,964.2 243.0,964.2 243.5,964.3 244.0,964.1 244.5,963.9 245.0,963.8 245.5,963.5 246.0,963.5 246.5,963.5 247.0,963.4 247.5,963.0 248.0,963.1 248.5,963.1 249.0,962.8 249.5,962.8 250.0,962.4 250.5,962.3 251.0,962.4 251.5,962.2 252.0,961.9 252.5,961.5 253.0,961.6 253.5,961.2 254.0,961.1 254.5,961.3 255.0,961.0 255.5,960.9 256.0,960.7 256.5,960.4 257.0,960.9 257.5,960.8 258.0,961.0 258.5,960.8 259.0,961.1 259.5,961.4 260.0,961.5 260.5,961.4 261.0,961.4 261.5,961.7 262.0,961.8 262.5,962.0 263.0,962.0 263.5,962.1 264.0,962.0 264.5,961.8 265.0,962.1 265.5,961.9 266.0,962.0 266.5,962.1 267.0,962.0 267.5,961.8 268.0,961.9 268.5,962.0 269.0,961.8 269.5,961.5 270.0,961.7 270.5,961.6 271.0,961.5 271.5,961.0 272.0,961.0 272.5,961.1 273.0,961.0 273.5,960.8 274.0,960.4 274.5,960.0 275.0,959.5 275.5,958.9 276.0,958.3 276.5,957.7 277.0,957.1 277.5,956.2 278.0,955.1 278.5,953.7 279.0,952.3 279.5,950.1 280.0,948.0 280.5,946.2 281.0,944.3 281.5,942.9 282.0,941.5 282.5,939.9 283.0,938.4 283.5,937.5 284.0,937.8 284.5,938.2 285.0,939.5 285.5,940.5 286.0,942.2 286.5,943.6 287.0,944.7 287.5,945.7 288.0,947.3 288.5,948.2 289.0,949.2 289.5,950.2 290.0,951.0 290.5,951.7 291.0,952.1 291.5,952.9 292.0,953.1 292.5,953.3 293.0,953.5 293.5,954.0 294.0,954.4 294.5,954.3 295.0,954.6 295.5,954.6 296.0,954.7 296.5,955.4 297.0,955.1 297.5,955.2 298.0,955.5 298.5,955.4 299.0,955.6 299.5,955.3 300.0,955.9 300.5,955.7 301.0,955.9 301.5,955.7 302.0,955.7 302.5,955.8 303.0,955.8 303.5,955.8 304.0,955.9 304.5,955.7 305.0,955.7 305.5,955.7 306.0,955.5 306.5,955.5 307.0,955.7 307.5,955.3 308.0,955.3 308.5,955.1 309.0,955.0 309.5,954.9 310.0,955.1 310.5,955.1 311.0,954.6 311.5,954.8 312.0,954.7 312.5,954.7 313.0,954.4 313.5,954.4 314.0,954.3 314.5,953.7 315.0,954.1 315.5,953.7 316.0,953.5 316.5,953.4 317.0,953.1 317.5,952.6 318.0,952.6 318.5,952.4 319.0,951.9 319.5,951.7 320.0,950.9 320.5,951.2 321.0,950.9 321.5,950.4 322.0,950.2 322.5,950.0 323.0,949.6 323.5,949.5 324.0,948.9 324.5,948.8 325.0,948.2 325.5,948.1 326.0,947.5 326.5,947.2 327.0,946.8 327.5,946.2 328.0,946.1 328.5,945.7 329.0,945.2 329.5,944.8 330.0,944.7 330.5,944.2 331.0,944.0 331.5,943.6 332.0,943.2 332.5,942.8 333.0,942.7 333.5,942.2 334.0,942.0 334.5,941.7 335.0,941.6 335.5,941.1 336.0,941.1 336.5,941.2 337.0,941.4 337.5,941.3 338.0,941.3 338.5,941.5 339.0,941.6 339.5,942.1 340.0,942.0 340.5,942.5 341.0,942.8 341.5,942.9 342.0,943.9 342.5,944.6 343.0,945.4 343.5,946.2 344.0,946.5 344.5,947.2 345.0,947.7 345.5,948.6 346.0,949.1 346.5,949.7 347.0,950.4 347.5,951.1 348.0,951.6 348.5,952.5 349.0,952.6 349.5,953.0 350.0,953.8 350.5,954.3 351.0,954.4 351.5,955.1 352.0,955.4 352.5,955.6 353.0,956.0 353.5,956.6 354.0,956.7 354.5,956.9 355.0,956.9 355.5,957.0 356.0,957.0 356.5,957.3 357.0,957.2 357.5,957.3 358.0,957.3 358.5,957.1 359.0,957.7 359.5,957.2 360.0,957.4 360.5,957.2 361.0,957.4 361.5,957.3 362.0,957.5 362.5,957.7 363.0,957.4 363.5,957.5 364.0,957.5 364.5,957.5 365.0,957.6 365.5,957.7 366.0,957.2 366.5,957.6 367.0,957.2 367.5,957.2 368.0,957.0 368.5,957.3 369.0,956.9 369.5,956.9 370.0,956.6 370.5,956.5 371.0,956.4 371.5,956.4 372.0,956.3 372.5,955.8 373.0,955.5 373.5,955.7 374.0,955.5 374.5,955.2 375.0,955.3 375.5,954.8 376.0,954.5 376.5,954.7 377.0,954.6 377.5,954.4 378.0,954.2 378.5,954.2 379.0,954.3 379.5,954.2 380.0,954.1 380.5,954.0 381.0,954.1 381.5,953.9 382.0,953.8 382.5,953.6 383.0,953.9 383.5,953.5 384.0,953.4 384.5,953.7 385.0,953.4 385.5,953.6 386.0,953.4 386.5,953.2 387.0,953.4 387.5,953.2 388.0,953.5 388.5,952.9 389.0,953.0 389.5,952.8 390.0,953.2 390.5,952.9 391.0,953.0 391.5,953.1 392.0,952.7 392.5,953.0 393.0,953.1 393.5,953.2 394.0,953.1 394.5,953.2 395.0,952.9 395.5,953.1 396.0,953.2 396.5,953.4 397.0,953.2 397.5,953.4 398.0,953.2 398.5,953.5 399.0,953.8 399.5,953.7 400.0,953.8 400.5,953.6 401.0,953.7 401.5,954.0 402.0,954.1 402.5,954.6 403.0,954.4 403.5,954.5 404.0,954.6 404.5,954.7 405.0,954.8 405.5,954.7 406.0,955.2 406.5,955.3 407.0,955.2 407.5,955.5 408.0,955.6 408.5,955.8 409.0,956.0 409.5,955.9 410.0,956.2 410.5,956.2 411.0,956.7 411.5,956.7 412.0,956.9 412.5,957.0 413.0,957.3 413.5,957.1 414.0,957.6 414.5,957.8 415.0,957.9 415.5,958.0 416.0,958.6 416.5,958.6 417.0,958.7 417.5,958.8 418.0,959.4 418.5,959.2 419.0,959.1 419.5,959.6 420.0,959.7 420.5,959.4 421.0,959.9 421.5,959.8 422.0,960.1 422.5,959.8 423.0,960.2 423.5,959.9 424.0,960.0 424.5,960.2 425.0,960.2 425.5,960.2 426.0,960.4 426.5,960.4 427.0,960.5 427.5,960.6 428.0,960.7 428.5,961.0 429.0,960.7 429.5,961.0 430.0,961.1 430.5,961.2 431.0,961.1 431.5,961.0 432.0,961.0 432.5,961.3 433.0,961.2 433.5,961.1 434.0,961.0 434.5,961.3 435.0,961.3 435.5,961.3 436.0,961.1 436.5,961.3 437.0,961.3 437.5,961.0 438.0,961.3 438.5,961.4 439.0,961.2 439.5,961.1 440.0,961.5 440.5,961.1 441.0,961.3 441.5,961.4 442.0,961.3 442.5,960.9 443.0,961.2 443.5,961.2 444.0,961.1 444.5,961.4 445.0,961.2 445.5,961.5 446.0,961.3 446.5,960.8 447.0,961.0 447.5,961.5 448.0,961.0 448.5,961.4 449.0,961.3 449.5,961.5 450.0,961.4 450.5,961.2 451.0,961.3 451.5,961.3 452.0,961.3 452.5,961.1 453.0,961.3 453.5,961.6 454.0,961.3 454.5,961.2 455.0,961.3 455.5,961.4 456.0,961.1 456.5,961.1 457.0,961.4 457.5,961.3 458.0,961.2 458.5,961.3 459.0,961.0 459.5,961.1 460.0,961.3 460.5,961.4 461.0,961.3 461.5,961.4 462.0,961.3 462.5,961.1 463.0,961.1 463.5,961.4 464.0,961.1 464.5,961.1 465.0,961.2 465.5,960.9 466.0,961.1 466.5,961.1 467.0,961.4 467.5,961.2 468.0,961.3 468.5,961.3 469.0,961.3 469.5,961.5 470.0,961.3 470.5,961.4 471.0,961.1 471.5,961.1 472.0,961.3 472.5,961.1 473.0,961.2 473.5,961.1 474.0,961.3 474.5,961.2 475.0,961.1 475.5,961.2 476.0,961.2 476.5,961.3 477.0,961.3 477.5,961.0 478.0,961.4 478.5,961.2 479.0,961.1 479.5,961.2 480.0,961.3 480.5,961.1 481.0,961.1 481.5,961.0 482.0,961.2 482.5,961.2 483.0,961.2 483.5,961.1 484.0,961.1 484.5,960.8 485.0,961.1 485.5,961.4 486.0,961.0 486.5,961.2 487.0,960.6 487.5,961.1 488.0,960.9 488.5,961.1 489.0,960.8 489.5,960.9 490.0,960.9 490.5,961.0 491.0,961.1 491.5,960.9 492.0,961.0 492.5,961.0 493.0,961.2 493.5,960.9 494.0,961.1 494.5,960.9 495.0,960.9 495.5,960.9 496.0,960.9 496.5,960.8 497.0,960.8 497.5,960.9 498.0,960.9 498.5,961.0 499.0,960.9 499.5,961.0 500.0,961.1 500.5,960.9 501.0,960.8 501.5,960.7 502.0,961.2 502.5,960.6 503.0,960.8 503.5,960.7 504.0,961.0 504.5,960.8 505.0,960.7 505.5,960.6 506.0,960.6 506.5,960.7 507.0,960.6 507.5,960.9 508.0,960.5 508.5,960.9 509.0,960.6 509.5,960.9 510.0,960.7 510.5,960.5 511.0,960.7 511.5,960.7 512.0,960.8 512.5,960.4 513.0,960.6 513.5,960.8 514.0,960.8 514.5,960.4 515.0,960.7 515.5,960.7 516.0,960.7" stroke-width="2.4"/>
</g>
<g>
<rect x="50.6" y="0.8" width="467.0" height="976.8000000000001" fill="none" stroke="#000" stroke-width="1.7"/>
<line x1="50.6" x2="517.6" y1="304.3" y2="304.3" stroke="#000" stroke-width="1.8"/>
<line x1="50.6" x2="517.6" y1="651.2" y2="651.2" stroke="#000" stroke-width="1.8"/>
<line x1="91.7" x2="91.7" y1="977.6" y2="982.2" stroke="#000" stroke-width="1.6"/>
<line x1="91.7" x2="91.7" y1="304.3" y2="307.3" stroke="#000" stroke-width="1.4"/>
<line x1="139.0" x2="139.0" y1="977.6" y2="984.4" stroke="#000" stroke-width="1.6"/>
<line x1="139.0" x2="139.0" y1="304.3" y2="308.3" stroke="#000" stroke-width="1.4"/>
<line x1="186.3" x2="186.3" y1="977.6" y2="982.2" stroke="#000" stroke-width="1.6"/>
<line x1="186.3" x2="186.3" y1="304.3" y2="307.3" stroke="#000" stroke-width="1.4"/>
<line x1="233.5" x2="233.5" y1="977.6" y2="984.4" stroke="#000" stroke-width="1.6"/>
<line x1="233.5" x2="233.5" y1="304.3" y2="308.3" stroke="#000" stroke-width="1.4"/>
<line x1="280.8" x2="280.8" y1="977.6" y2="982.2" stroke="#000" stroke-width="1.6"/>
<line x1="280.8" x2="280.8" y1="304.3" y2="307.3" stroke="#000" stroke-width="1.4"/>
<line x1="328.1" x2="328.1" y1="977.6" y2="984.4" stroke="#000" stroke-width="1.6"/>
<line x1="328.1" x2="328.1" y1="304.3" y2="308.3" stroke="#000" stroke-width="1.4"/>
<line x1="375.4" x2="375.4" y1="977.6" y2="982.2" stroke="#000" stroke-width="1.6"/>
<line x1="375.4" x2="375.4" y1="304.3" y2="307.3" stroke="#000" stroke-width="1.4"/>
<line x1="422.6" x2="422.6" y1="977.6" y2="984.4" stroke="#000" stroke-width="1.6"/>
<line x1="422.6" x2="422.6" y1="304.3" y2="308.3" stroke="#000" stroke-width="1.4"/>
<line x1="469.9" x2="469.9" y1="977.6" y2="982.2" stroke="#000" stroke-width="1.6"/>
<line x1="469.9" x2="469.9" y1="304.3" y2="307.3" stroke="#000" stroke-width="1.4"/>
<line x1="43" x2="50.6" y1="298.6" y2="298.6" stroke="#000" stroke-width="1.5"/>
<line x1="43" x2="50.6" y1="465.2" y2="465.2" stroke="#000" stroke-width="1.5"/>
<line x1="43" x2="50.6" y1="634.4" y2="634.4" stroke="#000" stroke-width="1.5"/>
</g>
<g>
<text x="504.2" y="86.6" font-size="18.6" font-weight="bold" text-anchor="end" textLength="39.5" lengthAdjust="spacingAndGlyphs">0.20</text>
<text x="504.2" y="117.6" font-size="18.6" font-weight="bold" text-anchor="end" textLength="39.5" lengthAdjust="spacingAndGlyphs">0.15</text>
<text x="504.2" y="149" font-size="18.6" font-weight="bold" text-anchor="end" textLength="39.5" lengthAdjust="spacingAndGlyphs">0.10</text>
<text x="504.2" y="186.2" font-size="18.6" font-weight="bold" text-anchor="end" textLength="50.3" lengthAdjust="spacingAndGlyphs">0.050</text>
<text x="504.2" y="220.6" font-size="18.6" font-weight="bold" text-anchor="end" textLength="50.3" lengthAdjust="spacingAndGlyphs">0.025</text>
<text x="504.2" y="287.2" font-size="18.6" font-weight="bold" text-anchor="end" textLength="11" lengthAdjust="spacingAndGlyphs">0</text>
<text x="403.5" y="39.8" font-size="18.4" font-weight="bold" text-anchor="start" textLength="61" lengthAdjust="spacingAndGlyphs">T= 8 K</text>
<text x="492.5" y="21.2" font-size="20" font-weight="normal" text-anchor="start">a)</text>
<text x="488.2" y="331" font-size="25" font-weight="normal" text-anchor="start">b)</text>
<text x="488" y="681.2" font-size="23" font-weight="normal" text-anchor="start">c)</text>
<text x="508" y="384.8" font-size="23.6" font-weight="bold" text-anchor="end" textLength="65.5" lengthAdjust="spacingAndGlyphs">573 K</text>
<text x="508" y="414.2" font-size="23.6" font-weight="bold" text-anchor="end" textLength="65.5" lengthAdjust="spacingAndGlyphs">523 K</text>
<text x="508" y="453.6" font-size="23.6" font-weight="bold" text-anchor="end" textLength="65.5" lengthAdjust="spacingAndGlyphs">493 K</text>
<text x="508" y="485" font-size="23.6" font-weight="bold" text-anchor="end" textLength="65.5" lengthAdjust="spacingAndGlyphs">403 K</text>
<text x="508" y="514.2" font-size="23.6" font-weight="bold" text-anchor="end" textLength="65.5" lengthAdjust="spacingAndGlyphs">303 K</text>
<text x="508" y="548.8" font-size="23.6" font-weight="bold" text-anchor="end" textLength="65.5" lengthAdjust="spacingAndGlyphs">180 K</text>
<text x="508" y="588" font-size="23.6" font-weight="bold" text-anchor="end" textLength="63" lengthAdjust="spacingAndGlyphs">100 K</text>
<text x="508" y="620" font-size="23.6" font-weight="bold" text-anchor="end" textLength="37.5" lengthAdjust="spacingAndGlyphs">8 K</text>
<text x="510.5" y="731.8000000000001" font-size="24.2" font-weight="bold" text-anchor="end" textLength="87.5" lengthAdjust="spacingAndGlyphs">7.6 GPa</text>
<text x="510.5" y="766.8000000000001" font-size="24.2" font-weight="bold" text-anchor="end" textLength="88" lengthAdjust="spacingAndGlyphs">6.6 GPa</text>
<text x="510.5" y="801.1" font-size="24.2" font-weight="bold" text-anchor="end" textLength="88" lengthAdjust="spacingAndGlyphs">5.2 GPa</text>
<text x="510.5" y="830.6" font-size="24.2" font-weight="bold" text-anchor="end" textLength="82" lengthAdjust="spacingAndGlyphs">4.7GPa</text>
<text x="510.5" y="864.6" font-size="24.2" font-weight="bold" text-anchor="end" textLength="88" lengthAdjust="spacingAndGlyphs">3.1 GPa</text>
<text x="510.5" y="899.4" font-size="24.2" font-weight="bold" text-anchor="end" textLength="92" lengthAdjust="spacingAndGlyphs">2.3  GPa</text>
<text x="510.5" y="943.6" font-size="24.2" font-weight="bold" text-anchor="end" textLength="68" lengthAdjust="spacingAndGlyphs">0 GPa</text>
<text x="168.4" y="351.2" font-size="27" font-weight="bold" text-anchor="start" textLength="70" lengthAdjust="spacingAndGlyphs">0.025</text>
<text x="262" y="350.3" font-size="27" font-weight="bold" text-anchor="start" textLength="31.5" lengthAdjust="spacingAndGlyphs">La</text>
<text x="196.3" y="695.8" font-size="29" font-weight="bold" text-anchor="start" textLength="73.5" lengthAdjust="spacingAndGlyphs">0.025</text>
<text x="289" y="693.3" font-size="27.5" font-weight="bold" text-anchor="start" textLength="33.5" lengthAdjust="spacingAndGlyphs">La</text>
<text x="349.5" y="689.2" font-size="22.4" font-weight="bold" text-anchor="start" textLength="95" lengthAdjust="spacingAndGlyphs">T=300 K</text>
<text x="194.4" y="31" font-size="21.4" font-weight="bold" text-anchor="start">Pb</text>
<text x="222.3" y="39" font-size="14.6" font-weight="bold" text-anchor="start" textLength="23.8" lengthAdjust="spacingAndGlyphs">1-x</text>
<text x="245.2" y="31" font-size="21.4" font-weight="bold" text-anchor="start">La</text>
<text x="271.4" y="39" font-size="14.6" font-weight="bold" text-anchor="start" textLength="9" lengthAdjust="spacingAndGlyphs">x</text>
<text x="281.3" y="31" font-size="21.4" font-weight="bold" text-anchor="start">Ti</text>
<text x="305.8" y="31" font-size="21.4" font-weight="bold" text-anchor="start">O</text>
<text x="323.8" y="36.8" font-size="13.6" font-weight="bold" text-anchor="start" textLength="8.8" lengthAdjust="spacingAndGlyphs">3</text>
<text transform="translate(83.9,74) rotate(-90)" font-size="20" font-weight="bold" textLength="67" lengthAdjust="spacingAndGlyphs">E(1TO)</text>
<text transform="translate(22.3,557.6) rotate(-90)" font-size="30" font-weight="bold" textLength="208" lengthAdjust="spacingAndGlyphs">Intensity (a.u.)</text>
<text x="135.6" y="1004.2" font-size="23.6" font-weight="bold" text-anchor="end" textLength="39.6" lengthAdjust="spacingAndGlyphs">200</text>
<text x="230.2" y="1004.2" font-size="23.6" font-weight="bold" text-anchor="end" textLength="39.6" lengthAdjust="spacingAndGlyphs">400</text>
<text x="324.0" y="1004.2" font-size="23.6" font-weight="bold" text-anchor="end" textLength="39.6" lengthAdjust="spacingAndGlyphs">600</text>
<text x="417.2" y="1004.2" font-size="23.6" font-weight="bold" text-anchor="end" textLength="39.6" lengthAdjust="spacingAndGlyphs">800</text>
<text x="520.6" y="1004.2" font-size="23.6" font-weight="bold" text-anchor="end" textLength="53.5" lengthAdjust="spacingAndGlyphs">1000</text>
<text x="155.8" y="1060" font-size="30" font-weight="bold" text-anchor="start" textLength="246.3" lengthAdjust="spacingAndGlyphs">Raman Shift (cm</text>
<text x="403.6" y="1049.4" font-size="31" font-weight="bold" text-anchor="start" textLength="25" lengthAdjust="spacingAndGlyphs">-1</text>
<text x="429" y="1060" font-size="30" font-weight="bold" text-anchor="start">)</text>
</g>
</svg>
</body></html>
